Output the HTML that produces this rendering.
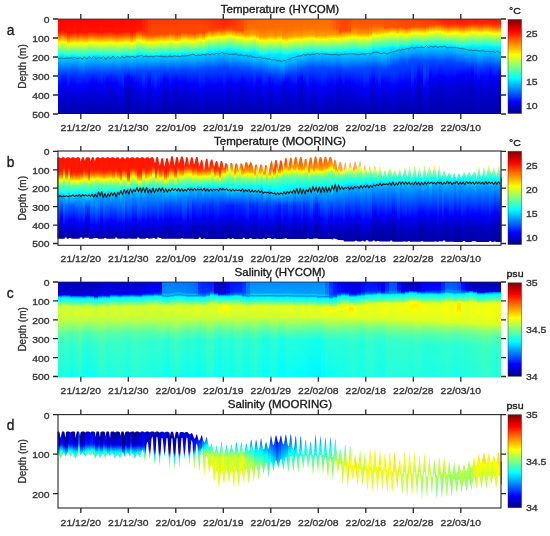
<!DOCTYPE html>
<html><head><meta charset="utf-8"><style>html,body{margin:0;padding:0;background:#fff;overflow:hidden}
#w{position:relative;width:550px;height:536px;overflow:hidden;background:#fff}
svg{position:absolute;left:0;top:0;display:block}
.f{position:absolute;left:0;width:550px}
.f i{position:absolute;top:0;height:100%}
</style></head>
<body><div id="w">
<svg width="550" height="536" viewBox="0 0 550 536"><rect x="58.0" y="151.0" width="443.0" height="94.3" fill="none" stroke="#262626" stroke-width="1.1"/><rect x="58.0" y="414.6" width="443.0" height="93.4" fill="none" stroke="#262626" stroke-width="1.1"/></svg>
<div class="f" style="top:19px;height:95px"><i style="left:58px;width:3px;background:linear-gradient(#ff0600 0.5px,#ff0f00 12.5px,#ff5500 16.5px,#fffd00 23.5px,#60ff9f 31.5px,#34ffcb 34.5px,#00f8ff 36.5px,#00c6ff 39.5px,#00a6ff 43.5px,#004bff 52.5px,#0000fe 67.5px,#0000ae 94.5px)"></i><i style="left:61px;width:3px;background:linear-gradient(#ff0600 0.5px,#ff0f00 11.5px,#ff5100 15.5px,#fffa00 22.5px,#56ffa9 31.5px,#3bffc4 33.5px,#04fffb 35.5px,#00e1ff 37.5px,#00bfff 41.5px,#0017ff 58.5px,#0000f8 64.5px,#0000d8 72.5px,#0000ad 94.5px)"></i><i style="left:64px;width:3px;background:linear-gradient(#ff0600 0.5px,#ff1000 12.5px,#ff5200 16.5px,#fffa00 23.5px,#55ffaa 32.5px,#39ffc6 34.5px,#00ffff 36.5px,#00c7ff 39.5px,#00a8ff 43.5px,#0034ff 55.5px,#0004ff 63.5px,#0000d5 75.5px,#0000ad 94.5px)"></i><i style="left:67px;width:3px;background:linear-gradient(#ff0600 0.5px,#ff1500 14.5px,#ff5d00 18.5px,#fcff03 25.5px,#60ff9f 32.5px,#2cffd3 35.5px,#0cfff3 36.5px,#00edff 37.5px,#00c8ff 39.5px,#00a9ff 43.5px,#0048ff 53.5px,#0000fb 68.5px,#0000ae 94.5px)"></i><i style="left:70px;width:3px;background:linear-gradient(#ff0600 0.5px,#ff1300 13.5px,#ff5b00 17.5px,#fcff03 24.5px,#55ffaa 32.5px,#36ffc9 34.5px,#00f6ff 36.5px,#00d0ff 38.5px,#0042ff 53.5px,#0002ff 64.5px,#0000d8 75.5px,#0000ad 94.5px)"></i><i style="left:73px;width:3px;background:linear-gradient(#ff0700 0.5px,#ff1600 13.5px,#ff5f00 17.5px,#ffee00 23.5px,#f9ff06 24.5px,#62ff9d 31.5px,#33ffcc 34.5px,#14ffeb 35.5px,#00f4ff 36.5px,#00ceff 38.5px,#006fff 48.5px,#003bff 54.5px,#0000fd 65.5px,#0000d9 75.5px,#0000ae 94.5px)"></i><i style="left:76px;width:3px;background:linear-gradient(#ff0700 0.5px,#ff1200 13.5px,#ff5900 17.5px,#ffff00 24.5px,#58ffa7 32.5px,#3affc5 34.5px,#00feff 36.5px,#00d4ff 38.5px,#00c1ff 40.5px,#0046ff 53.5px,#0000fc 67.5px,#0000b1 93.5px,#0000ae 94.5px)"></i><i style="left:79px;width:3px;background:linear-gradient(#ff0700 0.5px,#ff1000 12.5px,#ff4f00 16.5px,#fff600 23.5px,#e0ff1f 25.5px,#58ffa7 32.5px,#3dffc2 34.5px,#0afff5 36.5px,#00e1ff 38.5px,#00c7ff 40.5px,#00a8ff 44.5px,#0045ff 54.5px,#0000ff 66.5px,#0000cd 81.5px,#0000ae 94.5px)"></i><i style="left:82px;width:3px;background:linear-gradient(#ff0700 0.5px,#ff1600 13.5px,#ff5f00 17.5px,#ffee00 23.5px,#f9ff06 24.5px,#5dffa2 32.5px,#2fffd0 35.5px,#00f5ff 37.5px,#00caff 40.5px,#0096ff 46.5px,#003fff 55.5px,#0002ff 65.5px,#0000d3 78.5px,#0000ae 94.5px)"></i><i style="left:85px;width:3px;background:linear-gradient(#ff0700 0.5px,#ff1500 13.5px,#ff5d00 17.5px,#fbff04 24.5px,#58ffa7 32.5px,#3bffc4 34.5px,#02fffd 36.5px,#00c7ff 39.5px,#00a8ff 43.5px,#0046ff 53.5px,#0000fd 66.5px,#0000c5 84.5px,#0000ae 94.5px)"></i><i style="left:88px;width:3px;background:linear-gradient(#ff0700 0.5px,#ff1100 12.5px,#ff5200 16.5px,#fffa00 23.5px,#60ff9f 31.5px,#34ffcb 34.5px,#00f8ff 36.5px,#00c5ff 39.5px,#00a5ff 43.5px,#003cff 54.5px,#0001ff 64.5px,#0000dc 73.5px,#0000ad 94.5px)"></i><i style="left:91px;width:3px;background:linear-gradient(#ff0800 0.5px,#ff1100 12.5px,#ff5700 16.5px,#ffff00 23.5px,#5effa1 31.5px,#2fffd0 34.5px,#11ffee 35.5px,#00f3ff 36.5px,#00c5ff 39.5px,#0099ff 44.5px,#0027ff 56.5px,#0000fe 63.5px,#0000d9 72.5px,#0000ad 94.5px)"></i><i style="left:94px;width:3px;background:linear-gradient(#ff0800 0.5px,#ff1100 12.5px,#ff4f00 16.5px,#fff700 23.5px,#ddff22 25.5px,#5effa1 31.5px,#2bffd4 34.5px,#0cfff3 35.5px,#00eeff 36.5px,#00cbff 38.5px,#008cff 45.5px,#0038ff 54.5px,#0001ff 63.5px,#0000db 72.5px,#0000ad 94.5px)"></i><i style="left:97px;width:3px;background:linear-gradient(#ff0800 0.5px,#ff1100 12.5px,#ff1800 13.5px,#ff6000 17.5px,#ffef00 23.5px,#f8ff07 24.5px,#60ff9f 31.5px,#2fffd0 34.5px,#10ffef 35.5px,#00efff 36.5px,#00ccff 38.5px,#008cff 45.5px,#0041ff 53.5px,#0000fe 65.5px,#0000d9 75.5px,#0000ae 94.5px)"></i><i style="left:100px;width:3px;background:linear-gradient(#ff0800 0.5px,#ff1700 13.5px,#ff5f00 17.5px,#ffee00 23.5px,#f9ff06 24.5px,#56ffa9 32.5px,#39ffc6 34.5px,#00fcff 36.5px,#00c6ff 39.5px,#00a6ff 43.5px,#0045ff 53.5px,#0000fe 66.5px,#0000c6 84.5px,#0000ae 94.5px)"></i><i style="left:103px;width:3px;background:linear-gradient(#ff0800 0.5px,#ff1200 12.5px,#ff3c00 15.5px,#ff9200 19.5px,#fff300 23.5px,#f4ff0b 24.5px,#63ff9c 31.5px,#37ffc8 34.5px,#00faff 36.5px,#00c6ff 39.5px,#00a6ff 43.5px,#003bff 54.5px,#0005ff 63.5px,#0000ce 78.5px,#0000ad 94.5px)"></i><i style="left:106px;width:3px;background:linear-gradient(#ff0900 0.5px,#ff1200 12.5px,#ff5100 16.5px,#fff800 23.5px,#caff35 26.5px,#62ff9d 31.5px,#38ffc7 34.5px,#00fcff 36.5px,#00c6ff 39.5px,#00a7ff 43.5px,#0016ff 58.5px,#0000fc 63.5px,#0000da 71.5px,#0000ad 94.5px)"></i><i style="left:109px;width:3px;background:linear-gradient(#ff0900 0.5px,#ff1200 12.5px,#ff5400 16.5px,#fffb00 23.5px,#61ff9e 31.5px,#36ffc9 34.5px,#00faff 36.5px,#00c6ff 39.5px,#00a6ff 43.5px,#001eff 57.5px,#0000fc 63.5px,#0000da 71.5px,#0000ad 94.5px)"></i><i style="left:112px;width:3px;background:linear-gradient(#ff0900 0.5px,#ff1200 12.5px,#ff3c00 15.5px,#ff7b00 18.5px,#fff400 23.5px,#f4ff0b 24.5px,#60ff9f 31.5px,#30ffcf 34.5px,#12ffed 35.5px,#00f2ff 36.5px,#00ceff 38.5px,#006fff 48.5px,#0033ff 55.5px,#0000ff 64.5px,#0000dc 73.5px,#0000ad 94.5px)"></i><i style="left:115px;width:3px;background:linear-gradient(#ff0900 0.5px,#ff1600 13.5px,#ff5c00 17.5px,#fcff03 24.5px,#58ffa7 32.5px,#3bffc4 34.5px,#02fffd 36.5px,#00c6ff 39.5px,#00a7ff 43.5px,#003cff 54.5px,#000aff 62.5px,#0000fa 65.5px,#0000d9 74.5px,#0000ad 94.5px)"></i><i style="left:118px;width:3px;background:linear-gradient(#ff0900 0.5px,#ff1300 12.5px,#ff2c00 14.5px,#ff6300 17.5px,#fff300 23.5px,#f5ff0a 24.5px,#56ffa9 32.5px,#3affc5 34.5px,#01fffe 36.5px,#00c7ff 39.5px,#00b2ff 42.5px,#0047ff 53.5px,#0000fd 67.5px,#0000ae 94.5px)"></i><i style="left:121px;width:3px;background:linear-gradient(#ff0900 0.5px,#ff1300 12.5px,#ff2c00 14.5px,#ff6300 17.5px,#fff300 23.5px,#f4ff0b 24.5px,#5effa1 31.5px,#2bffd4 34.5px,#0cfff3 35.5px,#00edff 36.5px,#00caff 38.5px,#00a0ff 43.5px,#004eff 51.5px,#0029ff 61.5px,#0000fd 70.5px,#0000af 94.5px)"></i><i style="left:124px;width:3px;background:linear-gradient(#ff0a00 0.5px,#ff1600 12.5px,#ff5c00 16.5px,#faff05 23.5px,#57ffa8 31.5px,#3affc5 33.5px,#00feff 35.5px,#00c6ff 38.5px,#00a6ff 42.5px,#001fff 56.5px,#0001ff 61.5px,#0000d4 71.5px,#0000ac 94.5px)"></i><i style="left:127px;width:3px;background:linear-gradient(#ff0a00 0.5px,#ff1500 12.5px,#ff5b00 16.5px,#fcff03 23.5px,#59ffa6 31.5px,#3cffc3 33.5px,#05fffa 35.5px,#00c8ff 38.5px,#00a9ff 42.5px,#0040ff 52.5px,#0000fb 57.5px,#0000bb 69.5px,#0000ab 85.5px,#0000aa 94.5px)"></i><i style="left:130px;width:3px;background:linear-gradient(#ff0a00 0.5px,#ff1400 13.5px,#ff5600 17.5px,#fffc00 24.5px,#58ffa7 32.5px,#3affc5 34.5px,#00fcff 36.5px,#00c5ff 39.5px,#00a5ff 43.5px,#000cff 58.5px,#0000f7 62.5px,#0000d0 71.5px,#0000af 92.5px,#0000ac 94.5px)"></i><i style="left:133px;width:3px;background:linear-gradient(#ff0a00 0.5px,#ff1500 12.5px,#ff5900 16.5px,#fdff02 23.5px,#5bffa4 31.5px,#3fffc0 33.5px,#0bfff4 35.5px,#00eeff 36.5px,#00ccff 38.5px,#008dff 45.5px,#0038ff 54.5px,#0002ff 63.5px,#0000d9 73.5px,#0000ad 94.5px)"></i><i style="left:136px;width:3px;background:linear-gradient(#ff0b00 0.5px,#ff1400 10.5px,#ff5300 14.5px,#fffe00 21.5px,#62ff9d 29.5px,#39ffc6 32.5px,#00ffff 34.5px,#00cdff 37.5px,#008eff 44.5px,#0043ff 52.5px,#0000ff 64.5px,#0000dc 73.5px,#0000ad 94.5px)"></i><i style="left:139px;width:3px;background:linear-gradient(#ff0c00 0.5px,#ff1600 10.5px,#ff5400 14.5px,#ffff00 21.5px,#61ff9e 29.5px,#38ffc7 32.5px,#00feff 34.5px,#00ddff 36.5px,#00c1ff 39.5px,#0046ff 52.5px,#0000fc 66.5px,#0000c7 83.5px,#0000ae 94.5px)"></i><i style="left:142px;width:3px;background:linear-gradient(#ff1a00 0.5px,#ff2300 11.5px,#ff5200 15.5px,#fffc00 22.5px,#5fffa0 30.5px,#30ffcf 33.5px,#12ffed 34.5px,#00f4ff 35.5px,#00c5ff 38.5px,#0099ff 43.5px,#004bff 51.5px,#002fff 60.5px,#0000fd 70.5px,#0000af 94.5px)"></i><i style="left:145px;width:3px;background:linear-gradient(#ff2800 0.5px,#ff3200 12.5px,#ff4900 15.5px,#ffa000 19.5px,#fcff03 23.5px,#60ff9f 30.5px,#2dffd2 33.5px,#0dfff2 34.5px,#00edff 35.5px,#00c9ff 37.5px,#00a9ff 41.5px,#0049ff 51.5px,#0000fc 67.5px,#0000ae 94.5px)"></i><i style="left:148px;width:3px;background:linear-gradient(#ff3500 0.5px,#ff4300 13.5px,#ff4b00 15.5px,#ff7000 17.5px,#fdff02 23.5px,#57ffa8 31.5px,#39ffc6 33.5px,#00fcff 35.5px,#00c5ff 38.5px,#00a5ff 42.5px,#0031ff 54.5px,#0003ff 61.5px,#0000d6 71.5px,#0000ad 94.5px)"></i><i style="left:151px;width:3px;background:linear-gradient(#ff3900 0.5px,#ff4b00 15.5px,#ff5400 16.5px,#fffc00 23.5px,#5bffa4 31.5px,#3dffc2 33.5px,#05fffa 35.5px,#00c7ff 38.5px,#00b3ff 41.5px,#004dff 51.5px,#0009ff 66.5px,#0000f7 70.5px,#0000af 94.5px)"></i><i style="left:154px;width:3px;background:linear-gradient(#ff3900 0.5px,#ff4c00 15.5px,#ffd600 21.5px,#f8ff07 23.5px,#55ffaa 31.5px,#38ffc7 33.5px,#00fbff 35.5px,#00c6ff 38.5px,#00a6ff 42.5px,#004cff 51.5px,#0037ff 59.5px,#0000fd 71.5px,#0000af 94.5px)"></i><i style="left:157px;width:3px;background:linear-gradient(#ff3900 0.5px,#ff4c00 15.5px,#fff500 22.5px,#f3ff0c 23.5px,#63ff9c 30.5px,#37ffc8 33.5px,#00fbff 35.5px,#00c6ff 38.5px,#00a6ff 42.5px,#004cff 51.5px,#0000fa 68.5px,#0000ae 94.5px)"></i><i style="left:160px;width:3px;background:linear-gradient(#ff3a00 0.5px,#ff4a00 14.5px,#ff5100 15.5px,#fffa00 22.5px,#59ffa6 30.5px,#3bffc4 32.5px,#00ffff 34.5px,#00d5ff 36.5px,#00c1ff 38.5px,#0046ff 51.5px,#0000fe 65.5px,#0000da 75.5px,#0000ae 94.5px)"></i><i style="left:163px;width:3px;background:linear-gradient(#ff3a00 0.5px,#ff4c00 15.5px,#fff500 22.5px,#f3ff0c 23.5px,#5cffa3 30.5px,#3effc1 32.5px,#04fffb 34.5px,#00c6ff 37.5px,#00a7ff 41.5px,#0033ff 53.5px,#0001ff 60.5px,#0000d1 70.5px,#0000b1 90.5px,#0000ac 94.5px)"></i><i style="left:166px;width:3px;background:linear-gradient(#ff3a00 0.5px,#ff4b00 14.5px,#ff5700 15.5px,#feff01 22.5px,#5dffa2 30.5px,#2effd1 33.5px,#10ffef 34.5px,#00f2ff 35.5px,#00c4ff 38.5px,#0099ff 43.5px,#0031ff 54.5px,#0003ff 61.5px,#0000d6 71.5px,#0000ad 94.5px)"></i><i style="left:169px;width:3px;background:linear-gradient(#ff3b00 0.5px,#ff4e00 14.5px,#fff800 21.5px,#c9ff36 24.5px,#60ff9f 29.5px,#32ffcd 32.5px,#00f5ff 34.5px,#00c5ff 37.5px,#009aff 42.5px,#004bff 50.5px,#0000fa 66.5px,#0000c8 82.5px,#0000ae 94.5px)"></i><i style="left:172px;width:3px;background:linear-gradient(#ff3b00 0.5px,#ff4c00 14.5px,#ff7100 16.5px,#fbff04 22.5px,#57ffa8 30.5px,#3affc5 32.5px,#00ffff 34.5px,#00c6ff 37.5px,#00a7ff 41.5px,#0045ff 51.5px,#0001ff 62.5px,#0000d7 72.5px,#0000ad 94.5px)"></i><i style="left:175px;width:3px;background:linear-gradient(#ff3b00 0.5px,#ff4c00 15.5px,#ffa300 19.5px,#ffed00 22.5px,#f9ff06 23.5px,#64ff9b 30.5px,#35ffca 33.5px,#00f6ff 35.5px,#00c4ff 38.5px,#0099ff 43.5px,#001dff 56.5px,#0000fe 61.5px,#0000d2 71.5px,#0000af 92.5px,#0000ac 94.5px)"></i><i style="left:178px;width:3px;background:linear-gradient(#ff3c00 0.5px,#ff4b00 14.5px,#ff5200 15.5px,#fffb00 22.5px,#5cffa3 30.5px,#3fffc0 32.5px,#09fff6 34.5px,#00dbff 36.5px,#00c9ff 37.5px,#009fff 42.5px,#0047ff 51.5px,#0000ff 63.5px,#0000da 72.5px,#0000ad 94.5px)"></i><i style="left:181px;width:3px;background:linear-gradient(#ff3c00 0.5px,#ff4c00 13.5px,#ff7200 15.5px,#ffed00 20.5px,#f9ff06 21.5px,#5bffa4 29.5px,#3fffc0 31.5px,#0cfff3 33.5px,#00eeff 34.5px,#00c4ff 37.5px,#0083ff 44.5px,#0042ff 51.5px,#0000fc 63.5px,#0000da 71.5px,#0000ad 94.5px)"></i><i style="left:184px;width:3px;background:linear-gradient(#ff3c00 0.5px,#ff4c00 13.5px,#ff7200 15.5px,#ffed00 20.5px,#f9ff06 21.5px,#5bffa4 29.5px,#3fffc0 31.5px,#0cfff3 33.5px,#00efff 34.5px,#00c4ff 37.5px,#008eff 43.5px,#0042ff 51.5px,#0002ff 62.5px,#0000d7 72.5px,#0000ad 94.5px)"></i><i style="left:187px;width:3px;background:linear-gradient(#ff3c00 0.5px,#ff4c00 14.5px,#fff200 21.5px,#f6ff09 22.5px,#62ff9d 29.5px,#34ffcb 32.5px,#00f7ff 34.5px,#00c5ff 37.5px,#009aff 42.5px,#004aff 50.5px,#0000fc 65.5px,#0000d8 75.5px,#0000ad 94.5px)"></i><i style="left:190px;width:3px;background:linear-gradient(#ff3d00 0.5px,#ff4c00 14.5px,#fff100 21.5px,#f7ff08 22.5px,#56ffa9 30.5px,#3affc5 32.5px,#00ffff 34.5px,#00c6ff 37.5px,#00a7ff 41.5px,#0047ff 51.5px,#0000fe 65.5px,#0000da 75.5px,#0000ae 94.5px)"></i><i style="left:193px;width:3px;background:linear-gradient(#ff3d00 0.5px,#ff4c00 14.5px,#ffa400 18.5px,#ffef00 21.5px,#f8ff07 22.5px,#57ffa8 30.5px,#3bffc4 32.5px,#03fffc 34.5px,#00c7ff 37.5px,#00a9ff 41.5px,#0047ff 51.5px,#0000fd 64.5px,#0000da 73.5px,#0000ad 94.5px)"></i><i style="left:196px;width:3px;background:linear-gradient(#ff3d00 0.5px,#ff4c00 13.5px,#ff5900 14.5px,#fbff04 21.5px,#5cffa3 29.5px,#2bffd4 32.5px,#0efff1 33.5px,#00f0ff 34.5px,#00c4ff 37.5px,#008eff 43.5px,#004aff 50.5px,#0000fd 65.5px,#0000d9 75.5px,#0000ae 94.5px)"></i><i style="left:199px;width:3px;background:linear-gradient(#ff3d00 0.5px,#ff4e00 13.5px,#fffa00 20.5px,#56ffa9 29.5px,#3bffc4 31.5px,#04fffb 33.5px,#00cdff 36.5px,#008eff 43.5px,#004bff 50.5px,#001cff 62.5px,#0000fc 68.5px,#0000ae 94.5px)"></i><i style="left:202px;width:3px;background:linear-gradient(#ff3a00 0.5px,#ff4b00 13.5px,#ff5600 14.5px,#fdff02 21.5px,#5affa5 29.5px,#3dffc2 31.5px,#06fff9 33.5px,#00c9ff 36.5px,#00a9ff 40.5px,#004dff 49.5px,#0019ff 62.5px,#0000f9 68.5px,#0000ae 94.5px)"></i><i style="left:205px;width:3px;background:linear-gradient(#ff3600 0.5px,#ff4900 11.5px,#ff4f00 12.5px,#fffd00 19.5px,#54ffab 28.5px,#39ffc6 30.5px,#01fffe 32.5px,#00caff 35.5px,#00a0ff 40.5px,#0049ff 49.5px,#0000fd 64.5px,#0000da 73.5px,#0000ad 94.5px)"></i><i style="left:208px;width:3px;background:linear-gradient(#ff3200 0.5px,#ff4300 9.5px,#ff4e00 11.5px,#fffe00 18.5px,#61ff9e 26.5px,#38ffc7 29.5px,#00ffff 31.5px,#00e0ff 33.5px,#00c3ff 36.5px,#006eff 45.5px,#0049ff 49.5px,#0000fc 65.5px,#0000d8 75.5px,#0000ad 94.5px)"></i><i style="left:211px;width:3px;background:linear-gradient(#ff2e00 0.5px,#ff3d00 9.5px,#ff4a00 11.5px,#ff7200 13.5px,#fff000 18.5px,#f7ff08 19.5px,#5bffa4 27.5px,#2dffd2 30.5px,#10ffef 31.5px,#00f3ff 32.5px,#00c5ff 36.5px,#009aff 41.5px,#004bff 49.5px,#0000fa 66.5px,#0000c8 82.5px,#0000ae 94.5px)"></i><i style="left:214px;width:3px;background:linear-gradient(#ff2b00 0.5px,#ff3800 8.5px,#ff5000 11.5px,#feff01 18.5px,#61ff9e 26.5px,#37ffc8 29.5px,#00fdff 31.5px,#00deff 33.5px,#00c2ff 36.5px,#0049ff 49.5px,#0000fb 66.5px,#0000c7 83.5px,#0000ae 94.5px)"></i><i style="left:217px;width:3px;background:linear-gradient(#ff2700 0.5px,#ff3200 7.5px,#ff4b00 10.5px,#fff800 17.5px,#cbff34 20.5px,#57ffa8 26.5px,#3cffc3 28.5px,#07fff8 30.5px,#00d7ff 33.5px,#0084ff 42.5px,#004aff 48.5px,#0000fb 65.5px,#0000d7 75.5px,#0000ad 94.5px)"></i><i style="left:220px;width:3px;background:linear-gradient(#ff2400 0.5px,#ff3400 8.5px,#ff5500 11.5px,#ffec00 17.5px,#faff05 18.5px,#5dffa2 26.5px,#30ffcf 29.5px,#00f6ff 31.5px,#00c4ff 35.5px,#0083ff 42.5px,#004aff 48.5px,#0000fb 65.5px,#0000d7 75.5px,#0000ad 94.5px)"></i><i style="left:223px;width:3px;background:linear-gradient(#ff2000 0.5px,#ff2a00 7.5px,#ff4800 10.5px,#ffbf00 15.5px,#fff300 17.5px,#f5ff0a 18.5px,#5affa5 26.5px,#3effc1 28.5px,#0cfff3 30.5px,#00efff 31.5px,#00c6ff 34.5px,#00a7ff 38.5px,#004cff 47.5px,#0020ff 60.5px,#0000fb 67.5px,#0000b1 93.5px,#0000ae 94.5px)"></i><i style="left:226px;width:3px;background:linear-gradient(#ff2400 0.5px,#ff3400 7.5px,#ff5700 10.5px,#fff000 16.5px,#f7ff08 17.5px,#5bffa4 25.5px,#2cffd3 28.5px,#10ffef 29.5px,#00f2ff 30.5px,#00c3ff 35.5px,#0083ff 42.5px,#0049ff 48.5px,#0000fa 63.5px,#0000d8 71.5px,#0000ad 94.5px)"></i><i style="left:229px;width:3px;background:linear-gradient(#ff2900 0.5px,#ff3900 7.5px,#ff4900 9.5px,#ff7300 11.5px,#fff300 16.5px,#f5ff0a 17.5px,#59ffa6 25.5px,#3effc1 27.5px,#0cfff3 29.5px,#00efff 30.5px,#00aeff 39.5px,#0043ff 50.5px,#0002ff 61.5px,#0000d5 71.5px,#0000ac 94.5px)"></i><i style="left:232px;width:3px;background:linear-gradient(#ff2f00 0.5px,#ff4000 8.5px,#ff4b00 10.5px,#fff900 17.5px,#7aff85 24.5px,#3bffc4 28.5px,#05fffa 30.5px,#00e4ff 32.5px,#00c2ff 36.5px,#0048ff 49.5px,#0000fa 65.5px,#0000d9 74.5px,#0000ad 94.5px)"></i><i style="left:235px;width:3px;background:linear-gradient(#ff3500 0.5px,#ff4500 9.5px,#ff5200 11.5px,#fdff02 18.5px,#5fffa0 26.5px,#35ffca 29.5px,#00faff 31.5px,#00c8ff 35.5px,#00aaff 39.5px,#0049ff 49.5px,#0000fb 66.5px,#0000c6 83.5px,#0000ae 94.5px)"></i><i style="left:238px;width:3px;background:linear-gradient(#ff3d00 0.5px,#ff5000 11.5px,#feff01 18.5px,#60ff9f 26.5px,#37ffc8 29.5px,#00fdff 31.5px,#00e1ff 33.5px,#0090ff 42.5px,#0045ff 50.5px,#0000fa 64.5px,#0000da 72.5px,#0000ad 94.5px)"></i><i style="left:241px;width:3px;background:linear-gradient(#ff4900 0.5px,#ff4f00 10.5px,#ff4d00 11.5px,#ff7500 13.5px,#fff300 18.5px,#f5ff0a 19.5px,#5affa5 27.5px,#3effc1 29.5px,#0cfff3 31.5px,#00efff 32.5px,#00c3ff 37.5px,#0059ff 48.5px,#0007ff 59.5px,#0000e2 66.5px,#0000c7 75.5px,#0000ac 94.5px)"></i><i style="left:244px;width:3px;background:linear-gradient(#ff5600 0.5px,#ff6200 9.5px,#ff9a00 15.5px,#ffc400 17.5px,#fff700 19.5px,#dfff20 21.5px,#57ffa8 28.5px,#3cffc3 30.5px,#08fff7 32.5px,#00e1ff 34.5px,#00c3ff 37.5px,#0059ff 48.5px,#0004ff 62.5px,#0000d6 73.5px,#0000ad 94.5px)"></i><i style="left:247px;width:3px;background:linear-gradient(#ff6100 0.5px,#ff6d00 9.5px,#ff9a00 15.5px,#ffc400 17.5px,#fff700 19.5px,#dfff20 21.5px,#58ffa7 28.5px,#3cffc3 30.5px,#08fff7 32.5px,#00e1ff 34.5px,#00c7ff 36.5px,#00b2ff 39.5px,#0047ff 50.5px,#0000fa 65.5px,#0000d9 74.5px,#0000ad 94.5px)"></i><i style="left:250px;width:3px;background:linear-gradient(#ff6200 0.5px,#ff6b00 8.5px,#ffa400 15.5px,#fff100 18.5px,#f7ff08 19.5px,#5bffa4 27.5px,#2cffd3 30.5px,#0ffff0 31.5px,#00f1ff 32.5px,#00a1ff 42.5px,#0048ff 51.5px,#0000ff 64.5px,#0000dc 73.5px,#0000ad 94.5px)"></i><i style="left:253px;width:3px;background:linear-gradient(#ff6200 0.5px,#ff6e00 8.5px,#ff9b00 14.5px,#ffc700 16.5px,#fffa00 18.5px,#56ffa9 27.5px,#3bffc4 29.5px,#04fffb 31.5px,#00eeff 32.5px,#00b7ff 41.5px,#0049ff 52.5px,#0000fc 67.5px,#0000b1 93.5px,#0000ae 94.5px)"></i><i style="left:256px;width:3px;background:linear-gradient(#ff6300 0.5px,#ff6c00 9.5px,#ffa200 16.5px,#ffee00 19.5px,#f9ff06 20.5px,#5dffa2 28.5px,#2fffd0 31.5px,#00f5ff 33.5px,#00c1ff 39.5px,#003cff 53.5px,#0004ff 62.5px,#0000d6 73.5px,#0000ad 94.5px)"></i><i style="left:259px;width:3px;background:linear-gradient(#ff6300 0.5px,#ff7100 11.5px,#ff9d00 17.5px,#fffd00 21.5px,#54ffab 30.5px,#39ffc6 32.5px,#01fffe 34.5px,#00cfff 37.5px,#0090ff 44.5px,#0031ff 54.5px,#0004ff 61.5px,#0000d4 72.5px,#0000ad 94.5px)"></i><i style="left:262px;width:3px;background:linear-gradient(#ff6300 0.5px,#ff7000 11.5px,#ff9b00 17.5px,#ffdf00 20.5px,#fff800 21.5px,#cbff34 24.5px,#57ffa8 30.5px,#3cffc3 32.5px,#07fff8 34.5px,#00e4ff 36.5px,#00c2ff 40.5px,#0048ff 53.5px,#0000fc 68.5px,#0000ae 94.5px)"></i><i style="left:265px;width:3px;background:linear-gradient(#ff6400 0.5px,#ff7100 11.5px,#ff9b00 17.5px,#ffc500 19.5px,#fff700 21.5px,#dfff20 23.5px,#58ffa7 30.5px,#3cffc3 32.5px,#08fff7 34.5px,#00e5ff 36.5px,#0099ff 45.5px,#0043ff 54.5px,#0000fc 67.5px,#0000b1 93.5px,#0000ae 94.5px)"></i><i style="left:268px;width:3px;background:linear-gradient(#ff6400 0.5px,#ff7000 10.5px,#ff9b00 16.5px,#ffc400 18.5px,#fff600 20.5px,#dfff20 22.5px,#58ffa7 29.5px,#3dffc2 31.5px,#09fff6 33.5px,#00efff 34.5px,#00b7ff 43.5px,#0015ff 59.5px,#0000f8 64.5px,#0000d9 71.5px,#0000ad 94.5px)"></i><i style="left:271px;width:3px;background:linear-gradient(#ff6400 0.5px,#ff6f00 10.5px,#ffa400 17.5px,#ffef00 20.5px,#f8ff07 21.5px,#5cffa3 29.5px,#2effd1 32.5px,#11ffee 33.5px,#00f4ff 34.5px,#00b0ff 44.5px,#0031ff 57.5px,#0000fe 65.5px,#0000e0 72.5px,#0000ad 94.5px)"></i><i style="left:274px;width:3px;background:linear-gradient(#ff6500 0.5px,#ff7400 11.5px,#ff9d00 17.5px,#ffff00 21.5px,#61ff9e 29.5px,#38ffc7 32.5px,#00feff 34.5px,#00edff 35.5px,#00b1ff 44.5px,#0045ff 55.5px,#0000fd 67.5px,#0000b6 91.5px,#0000ae 94.5px)"></i><i style="left:277px;width:3px;background:linear-gradient(#ff6500 0.5px,#ff7200 10.5px,#ff9b00 16.5px,#ffc600 18.5px,#fff800 20.5px,#cbff34 23.5px,#57ffa8 29.5px,#3cffc3 31.5px,#07fff8 33.5px,#00efff 34.5px,#00b7ff 44.5px,#0049ff 55.5px,#0000ff 67.5px,#0000b6 91.5px,#0000ae 94.5px)"></i><i style="left:280px;width:2px;background:linear-gradient(#ff6600 0.5px,#ff7400 10.5px,#ff9d00 16.5px,#feff01 20.5px,#61ff9e 28.5px,#37ffc8 31.5px,#00fdff 33.5px,#00edff 34.5px,#00b5ff 45.5px,#0040ff 57.5px,#0000fa 67.5px,#0000cf 80.5px,#0000ae 94.5px)"></i><i style="left:282px;width:3px;background:linear-gradient(#ff6600 0.5px,#ff7300 11.5px,#ff9b00 17.5px,#ffc400 19.5px,#fff600 21.5px,#dfff20 23.5px,#58ffa7 30.5px,#3dffc2 32.5px,#09fff6 34.5px,#00efff 35.5px,#00b9ff 45.5px,#0007ff 62.5px,#0000f1 65.5px,#0000d5 70.5px,#0000b0 91.5px,#0000ac 94.5px)"></i><i style="left:285px;width:3px;background:linear-gradient(#ff6600 0.5px,#ff7100 11.5px,#ffa200 18.5px,#faff05 22.5px,#5dffa2 30.5px,#31ffce 33.5px,#00f7ff 35.5px,#00c2ff 42.5px,#001fff 58.5px,#0002ff 62.5px,#0000d7 70.5px,#0000af 92.5px,#0000ac 94.5px)"></i><i style="left:288px;width:3px;background:linear-gradient(#ff6700 0.5px,#ff7600 11.5px,#ff9e00 17.5px,#feff01 21.5px,#60ff9f 29.5px,#37ffc8 32.5px,#00fcff 34.5px,#00e3ff 36.5px,#00a1ff 44.5px,#0023ff 57.5px,#0000fc 64.5px,#0000d9 73.5px,#0000ad 94.5px)"></i><i style="left:291px;width:3px;background:linear-gradient(#ff6700 0.5px,#ff7200 10.5px,#ff9a00 16.5px,#ffa700 17.5px,#fff300 20.5px,#f5ff0a 21.5px,#5affa5 29.5px,#3fffc0 31.5px,#0dfff2 33.5px,#00f0ff 34.5px,#00a8ff 43.5px,#0046ff 53.5px,#0001ff 65.5px,#0000d3 78.5px,#0000ae 94.5px)"></i><i style="left:294px;width:3px;background:linear-gradient(#ff6700 0.5px,#ff7700 10.5px,#ff9f00 16.5px,#fbff04 20.5px,#5effa1 28.5px,#32ffcd 31.5px,#00f8ff 33.5px,#00cdff 38.5px,#00a6ff 43.5px,#0046ff 53.5px,#0000fc 67.5px,#0000b1 93.5px,#0000ae 94.5px)"></i><i style="left:297px;width:3px;background:linear-gradient(#ff6800 0.5px,#ff7500 10.5px,#ff9c00 16.5px,#fffb00 20.5px,#55ffaa 29.5px,#3affc5 31.5px,#03fffc 33.5px,#00e1ff 35.5px,#006fff 47.5px,#0019ff 57.5px,#0000fd 62.5px,#0000d6 71.5px,#0000ad 94.5px)"></i><i style="left:300px;width:3px;background:linear-gradient(#ff6800 0.5px,#ff7400 10.5px,#ff9b00 16.5px,#ffc500 18.5px,#fff800 20.5px,#cbff34 23.5px,#57ffa8 29.5px,#3cffc3 31.5px,#07fff8 33.5px,#00d3ff 36.5px,#0089ff 44.5px,#0005ff 58.5px,#0000c9 71.5px,#0000b0 89.5px,#0000ac 94.5px)"></i><i style="left:303px;width:3px;background:linear-gradient(#ff6900 0.5px,#ff7a00 10.5px,#ff9a00 15.5px,#ffa800 16.5px,#fff400 19.5px,#f4ff0b 20.5px,#59ffa6 28.5px,#3effc1 30.5px,#0bfff4 32.5px,#00efff 33.5px,#00c4ff 37.5px,#0099ff 42.5px,#004aff 50.5px,#0000fe 64.5px,#0000db 73.5px,#0000ad 94.5px)"></i><i style="left:306px;width:3px;background:linear-gradient(#ff6900 0.5px,#ff7400 9.5px,#ff9b00 15.5px,#ffc400 17.5px,#fff700 19.5px,#dfff20 21.5px,#58ffa7 28.5px,#3dffc2 30.5px,#08fff7 32.5px,#00deff 34.5px,#00c5ff 36.5px,#009aff 41.5px,#004bff 49.5px,#0027ff 60.5px,#0000fd 68.5px,#0000af 94.5px)"></i><i style="left:309px;width:3px;background:linear-gradient(#ff6900 0.5px,#ff7600 9.5px,#ff9c00 15.5px,#ffe200 18.5px,#fffb00 19.5px,#54ffab 28.5px,#38ffc7 30.5px,#00fdff 32.5px,#00c6ff 35.5px,#00a7ff 39.5px,#004cff 48.5px,#0000fd 65.5px,#0000d9 75.5px,#0000ae 94.5px)"></i><i style="left:312px;width:3px;background:linear-gradient(#ff6a00 0.5px,#ff7600 9.5px,#ff9c00 15.5px,#ffc700 17.5px,#fffa00 19.5px,#5fffa0 27.5px,#31ffce 30.5px,#13ffec 31.5px,#00f4ff 32.5px,#00c5ff 35.5px,#009aff 40.5px,#004aff 48.5px,#0000fb 64.5px,#0000d8 73.5px,#0000ad 94.5px)"></i><i style="left:315px;width:3px;background:linear-gradient(#ff6a00 0.5px,#ff7700 10.5px,#ff9c00 16.5px,#fffc00 20.5px,#5cffa3 28.5px,#3fffc0 30.5px,#0bfff4 32.5px,#00edff 33.5px,#00cbff 35.5px,#008cff 42.5px,#0049ff 49.5px,#0000fc 66.5px,#0000c7 83.5px,#0000ae 94.5px)"></i><i style="left:318px;width:3px;background:linear-gradient(#ff6a00 0.5px,#ff7a00 10.5px,#ffa300 16.5px,#ffef00 19.5px,#f8ff07 20.5px,#58ffa7 28.5px,#3cffc3 30.5px,#04fffb 32.5px,#00c8ff 35.5px,#00a9ff 39.5px,#004dff 48.5px,#0016ff 62.5px,#0000fc 67.5px,#0000b1 93.5px,#0000ae 94.5px)"></i><i style="left:321px;width:3px;background:linear-gradient(#ff6b00 0.5px,#ff7a00 10.5px,#ff9f00 16.5px,#faff05 20.5px,#63ff9c 27.5px,#34ffcb 30.5px,#15ffea 31.5px,#00f5ff 32.5px,#00cfff 34.5px,#0066ff 45.5px,#004bff 48.5px,#0025ff 60.5px,#0000fb 68.5px,#0000ae 94.5px)"></i><i style="left:324px;width:3px;background:linear-gradient(#ff6b00 0.5px,#ff7a00 10.5px,#ff9e00 16.5px,#fcff03 20.5px,#58ffa7 28.5px,#3bffc4 30.5px,#01fffe 32.5px,#00c6ff 35.5px,#00a7ff 39.5px,#004cff 48.5px,#001dff 61.5px,#0000f9 68.5px,#0000ae 94.5px)"></i><i style="left:327px;width:3px;background:linear-gradient(#ff6c00 0.5px,#ff7700 9.5px,#ff9b00 15.5px,#ffc500 17.5px,#fff800 19.5px,#cbff34 22.5px,#57ffa8 28.5px,#3cffc3 30.5px,#06fff9 32.5px,#00cbff 35.5px,#008cff 42.5px,#0049ff 49.5px,#0000fe 65.5px,#0000da 75.5px,#0000ae 94.5px)"></i><i style="left:330px;width:3px;background:linear-gradient(#ff6400 0.5px,#ff7100 9.5px,#ff9b00 15.5px,#ffe100 18.5px,#fffa00 19.5px,#56ffa9 28.5px,#3bffc4 30.5px,#04fffb 32.5px,#00cfff 35.5px,#0086ff 43.5px,#004bff 49.5px,#0000fe 64.5px,#0000db 73.5px,#0000ad 94.5px)"></i><i style="left:333px;width:3px;background:linear-gradient(#ff5900 0.5px,#ff6700 9.5px,#ff9c00 15.5px,#ffff00 19.5px,#61ff9e 27.5px,#38ffc7 30.5px,#00feff 32.5px,#00c9ff 35.5px,#00a0ff 40.5px,#004aff 49.5px,#0015ff 62.5px,#0000fa 67.5px,#0000b3 92.5px,#0000ae 94.5px)"></i><i style="left:336px;width:3px;background:linear-gradient(#ff4e00 0.5px,#ff5900 9.5px,#ff9800 15.5px,#ffc200 17.5px,#fff400 19.5px,#f3ff0c 20.5px,#60ff9f 27.5px,#30ffcf 30.5px,#12ffed 31.5px,#00f2ff 32.5px,#00ceff 34.5px,#0070ff 44.5px,#0044ff 49.5px,#0000fb 63.5px,#0000d8 71.5px,#0000ad 94.5px)"></i><i style="left:339px;width:3px;background:linear-gradient(#ff4800 0.5px,#ff4e00 11.5px,#ff4d00 12.5px,#fff900 19.5px,#b6ff49 23.5px,#62ff9d 27.5px,#38ffc7 30.5px,#00fdff 32.5px,#00c6ff 35.5px,#00a7ff 39.5px,#0045ff 49.5px,#0000fe 60.5px,#0000cf 70.5px,#0000b1 89.5px,#0000ac 94.5px)"></i><i style="left:342px;width:3px;background:linear-gradient(#ff4200 0.5px,#ff4c00 11.5px,#ff5800 12.5px,#ffee00 18.5px,#f9ff06 19.5px,#5cffa3 27.5px,#2fffd0 30.5px,#12ffed 31.5px,#00f5ff 32.5px,#00c6ff 36.5px,#00a7ff 40.5px,#0047ff 50.5px,#0000fb 65.5px,#0000d8 75.5px,#0000ad 94.5px)"></i><i style="left:345px;width:3px;background:linear-gradient(#ff4100 0.5px,#ff4c00 11.5px,#fff700 18.5px,#dfff20 20.5px,#58ffa7 27.5px,#3cffc3 29.5px,#08fff7 31.5px,#00e4ff 33.5px,#00c2ff 37.5px,#0046ff 50.5px,#0000fe 62.5px,#0000d7 71.5px,#0000ad 94.5px)"></i><i style="left:348px;width:3px;background:linear-gradient(#ff4a00 0.5px,#ff5100 9.5px,#ff4f00 11.5px,#fffe00 18.5px,#61ff9e 26.5px,#38ffc7 29.5px,#00ffff 31.5px,#00e1ff 33.5px,#0090ff 42.5px,#0045ff 50.5px,#0000fc 63.5px,#0000d9 71.5px,#0000ad 94.5px)"></i><i style="left:351px;width:3px;background:linear-gradient(#ff5400 0.5px,#ff5d00 7.5px,#ff9800 13.5px,#ffa800 14.5px,#fff500 17.5px,#e0ff1f 19.5px,#58ffa7 26.5px,#3dffc2 28.5px,#0afff5 30.5px,#00e5ff 32.5px,#0096ff 41.5px,#0049ff 49.5px,#0000fe 64.5px,#0000db 73.5px,#0000ad 94.5px)"></i><i style="left:354px;width:3px;background:linear-gradient(#ff5600 0.5px,#ff6000 7.5px,#ffa700 14.5px,#fff500 17.5px,#f3ff0c 18.5px,#59ffa6 26.5px,#3dffc2 28.5px,#0afff5 30.5px,#00efff 31.5px,#00c3ff 36.5px,#0049ff 49.5px,#0000f9 66.5px,#0000c8 82.5px,#0000ae 94.5px)"></i><i style="left:357px;width:3px;background:linear-gradient(#ff5400 0.5px,#ff6200 8.5px,#ff9b00 14.5px,#fffe00 18.5px,#54ffab 27.5px,#39ffc6 29.5px,#01fffe 31.5px,#00dfff 33.5px,#00c3ff 36.5px,#0049ff 49.5px,#000fff 63.5px,#0000fa 67.5px,#0000b3 92.5px,#0000ae 94.5px)"></i><i style="left:360px;width:3px;background:linear-gradient(#ff5200 0.5px,#ff5d00 8.5px,#ff9800 14.5px,#ffc200 16.5px,#fff600 18.5px,#e0ff1f 20.5px,#58ffa7 27.5px,#3dffc2 29.5px,#09fff6 31.5px,#00e2ff 33.5px,#00c3ff 36.5px,#0078ff 44.5px,#004aff 49.5px,#0000fd 66.5px,#0000c5 84.5px,#0000ae 94.5px)"></i><i style="left:363px;width:3px;background:linear-gradient(#ff5200 0.5px,#ff5e00 8.5px,#ff9a00 14.5px,#ffdf00 17.5px,#fff900 18.5px,#8eff71 24.5px,#56ffa9 27.5px,#3bffc4 29.5px,#06fff9 31.5px,#00c7ff 35.5px,#00b3ff 38.5px,#004dff 48.5px,#002fff 59.5px,#0000fc 69.5px,#0000af 94.5px)"></i><i style="left:366px;width:3px;background:linear-gradient(#ff5100 0.5px,#ff5c00 8.5px,#ff9800 14.5px,#ffc200 16.5px,#fff600 18.5px,#e0ff1f 20.5px,#58ffa7 27.5px,#3dffc2 29.5px,#09fff6 31.5px,#00ddff 33.5px,#00c4ff 35.5px,#0083ff 42.5px,#004bff 48.5px,#002cff 59.5px,#0000fd 68.5px,#0000af 94.5px)"></i><i style="left:369px;width:3px;background:linear-gradient(#ff5000 0.5px,#ff5a00 7.5px,#ffa100 14.5px,#ffef00 17.5px,#f8ff07 18.5px,#5cffa3 26.5px,#2dffd2 29.5px,#11ffee 30.5px,#00f3ff 31.5px,#00c9ff 34.5px,#00aaff 38.5px,#0049ff 48.5px,#0000fd 64.5px,#0000da 73.5px,#0000ad 94.5px)"></i><i style="left:372px;width:3px;background:linear-gradient(#ff5000 0.5px,#ff5f00 6.5px,#ff9e00 12.5px,#ffed00 15.5px,#f9ff06 16.5px,#5dffa2 24.5px,#2fffd0 27.5px,#12ffed 28.5px,#00f5ff 29.5px,#00c1ff 35.5px,#0045ff 48.5px,#0000fe 60.5px,#0000cf 70.5px,#0000b1 89.5px,#0000ac 94.5px)"></i><i style="left:375px;width:3px;background:linear-gradient(#ff4f00 0.5px,#ff5a00 6.5px,#ff9a00 12.5px,#fffd00 16.5px,#54ffab 25.5px,#39ffc6 27.5px,#01fffe 29.5px,#00e2ff 31.5px,#009dff 39.5px,#004cff 47.5px,#000fff 62.5px,#0000fa 66.5px,#0000c8 82.5px,#0000ae 94.5px)"></i><i style="left:378px;width:3px;background:linear-gradient(#ff4f00 0.5px,#ff5d00 6.5px,#ff9e00 12.5px,#ffed00 15.5px,#f9ff06 16.5px,#5dffa2 24.5px,#2fffd0 27.5px,#00f5ff 29.5px,#00a6ff 39.5px,#004cff 48.5px,#0028ff 60.5px,#0000fa 69.5px,#0000af 94.5px)"></i><i style="left:381px;width:3px;background:linear-gradient(#ff4e00 0.5px,#ff5700 5.5px,#ff9900 11.5px,#ffc600 13.5px,#fffb00 15.5px,#56ffa9 24.5px,#3affc5 26.5px,#04fffb 28.5px,#00eeff 29.5px,#00b7ff 38.5px,#004aff 49.5px,#0000ff 63.5px,#0000da 72.5px,#0000ad 94.5px)"></i><i style="left:384px;width:3px;background:linear-gradient(#ff4d00 0.5px,#ff5300 6.5px,#ff4d00 8.5px,#ffe200 14.5px,#fffd00 15.5px,#55ffaa 24.5px,#39ffc6 26.5px,#02fffd 28.5px,#00edff 29.5px,#00b6ff 38.5px,#0049ff 49.5px,#0000fc 64.5px,#0000d9 73.5px,#0000ad 94.5px)"></i><i style="left:387px;width:3px;background:linear-gradient(#ff4c00 0.5px,#ff5100 6.5px,#ff5100 8.5px,#ffed00 14.5px,#f9ff06 15.5px,#5dffa2 23.5px,#2fffd0 26.5px,#00f5ff 28.5px,#00a9ff 38.5px,#004dff 47.5px,#0000fc 65.5px,#0000d8 75.5px,#0000ad 94.5px)"></i><i style="left:390px;width:3px;background:linear-gradient(#ff4b00 0.5px,#ff5200 5.5px,#ff4d00 7.5px,#ff9200 10.5px,#fffc00 14.5px,#55ffaa 23.5px,#39ffc6 25.5px,#02fffd 27.5px,#00ecff 28.5px,#00a3ff 37.5px,#004bff 46.5px,#001eff 60.5px,#0000f9 67.5px,#0000b5 91.5px,#0000ae 94.5px)"></i><i style="left:393px;width:3px;background:linear-gradient(#ff4a00 0.5px,#ff5200 5.5px,#ff4d00 7.5px,#ff5c00 8.5px,#fff900 14.5px,#a3ff5c 19.5px,#56ffa9 23.5px,#3bffc4 25.5px,#05fffa 27.5px,#00e3ff 29.5px,#00c1ff 33.5px,#004cff 45.5px,#0025ff 59.5px,#0000fb 67.5px,#0000b1 93.5px,#0000ae 94.5px)"></i><i style="left:396px;width:3px;background:linear-gradient(#ff4900 0.5px,#ff5000 6.5px,#ff4d00 8.5px,#feff01 15.5px,#60ff9f 23.5px,#36ffc9 26.5px,#00fcff 28.5px,#00caff 31.5px,#0096ff 37.5px,#004aff 45.5px,#0017ff 60.5px,#0000f8 66.5px,#0000c7 82.5px,#0000ae 94.5px)"></i><i style="left:399px;width:3px;background:linear-gradient(#ff4800 0.5px,#ff4e00 6.5px,#ff4d00 7.5px,#feff01 14.5px,#5fffa0 22.5px,#34ffcb 25.5px,#00f9ff 27.5px,#00c6ff 30.5px,#00a6ff 34.5px,#004cff 43.5px,#000fff 60.5px,#0000fa 64.5px,#0000da 72.5px,#0000ad 94.5px)"></i><i style="left:402px;width:3px;background:linear-gradient(#ff4600 0.5px,#ff5100 8.5px,#ffec00 14.5px,#f9ff06 15.5px,#55ffaa 23.5px,#37ffc8 25.5px,#00f9ff 27.5px,#00c5ff 30.5px,#009aff 35.5px,#004bff 43.5px,#0017ff 59.5px,#0000fc 64.5px,#0000dd 72.5px,#0000ad 94.5px)"></i><i style="left:405px;width:3px;background:linear-gradient(#ff4400 0.5px,#ff4d00 8.5px,#ff5a00 9.5px,#fff400 15.5px,#f3ff0c 16.5px,#5fffa0 23.5px,#2fffd0 26.5px,#10ffef 27.5px,#00f1ff 28.5px,#00cdff 30.5px,#0079ff 39.5px,#004aff 44.5px,#0007ff 61.5px,#0000e7 67.5px,#0000b7 88.5px,#0000ad 94.5px)"></i><i style="left:408px;width:3px;background:linear-gradient(#ff4200 0.5px,#ff4c00 7.5px,#ff5500 8.5px,#fff000 14.5px,#f6ff09 15.5px,#5effa1 22.5px,#2bffd4 25.5px,#0bfff4 26.5px,#00edff 27.5px,#00c9ff 29.5px,#009fff 34.5px,#004eff 42.5px,#0011ff 59.5px,#0000fc 63.5px,#0000dc 71.5px,#0000ad 94.5px)"></i><i style="left:411px;width:3px;background:linear-gradient(#ff4000 0.5px,#ff4e00 7.5px,#ffeb00 13.5px,#faff05 14.5px,#5fffa0 21.5px,#2affd5 24.5px,#0afff5 25.5px,#00ecff 26.5px,#00c7ff 28.5px,#00a9ff 32.5px,#004dff 41.5px,#0033ff 57.5px,#0000fc 68.5px,#0000ae 94.5px)"></i><i style="left:414px;width:3px;background:linear-gradient(#ff3e00 0.5px,#ff5200 7.5px,#ffef00 13.5px,#f6ff09 14.5px,#5dffa2 21.5px,#3effc1 23.5px,#05fffa 25.5px,#00c6ff 28.5px,#00a7ff 32.5px,#004cff 41.5px,#001aff 57.5px,#0000fb 63.5px,#0000d5 74.5px,#0000ad 94.5px)"></i><i style="left:417px;width:3px;background:linear-gradient(#ff3c00 0.5px,#ff4f00 7.5px,#ffec00 13.5px,#f9ff06 14.5px,#5fffa0 21.5px,#2bffd4 24.5px,#0bfff4 25.5px,#00ecff 26.5px,#00c8ff 28.5px,#00a9ff 32.5px,#0047ff 42.5px,#0000fe 54.5px,#0000c0 67.5px,#0000ae 82.5px,#0000ab 94.5px)"></i><i style="left:420px;width:3px;background:linear-gradient(#ff3a00 0.5px,#ff4c00 7.5px,#fdff02 14.5px,#54ffab 22.5px,#34ffcb 24.5px,#15ffea 25.5px,#00f4ff 26.5px,#00ceff 28.5px,#006fff 38.5px,#004aff 42.5px,#0000fd 58.5px,#0000d4 67.5px,#0000b7 84.5px,#0000ac 94.5px)"></i><i style="left:423px;width:3px;background:linear-gradient(#ff3800 0.5px,#ff4b00 7.5px,#ff7600 9.5px,#fff900 14.5px,#6eff91 21.5px,#3dffc2 24.5px,#05fffa 26.5px,#00c7ff 29.5px,#00a8ff 33.5px,#004cff 42.5px,#003eff 55.5px,#0000ff 68.5px,#0000af 94.5px)"></i><i style="left:426px;width:3px;background:linear-gradient(#ff3600 0.5px,#ff4a00 6.5px,#ff5600 7.5px,#fff400 13.5px,#f3ff0c 14.5px,#60ff9f 21.5px,#32ffcd 24.5px,#13ffec 25.5px,#00f4ff 26.5px,#00c4ff 29.5px,#0099ff 34.5px,#004bff 42.5px,#002bff 55.5px,#0000fc 64.5px,#0000c6 83.5px,#0000ae 94.5px)"></i><i style="left:429px;width:3px;background:linear-gradient(#ff3300 0.5px,#ff5000 6.5px,#ffed00 12.5px,#f8ff07 13.5px,#57ffa8 21.5px,#3affc5 23.5px,#01fffe 25.5px,#00c6ff 28.5px,#00a7ff 32.5px,#0047ff 42.5px,#0000fc 56.5px,#0000cf 66.5px,#0000b7 81.5px,#0000ac 94.5px)"></i><i style="left:432px;width:3px;background:linear-gradient(#ff2e00 0.5px,#ff4700 5.5px,#ff5200 6.5px,#fff000 12.5px,#f6ff09 13.5px,#56ffa9 21.5px,#39ffc6 23.5px,#00feff 25.5px,#00c6ff 28.5px,#00a7ff 32.5px,#004cff 41.5px,#0000fb 59.5px,#0000db 67.5px,#0000ba 84.5px,#0000ac 94.5px)"></i><i style="left:435px;width:3px;background:linear-gradient(#ff2a00 0.5px,#ff4100 4.5px,#ff4900 5.5px,#ffaa00 9.5px,#fffa00 12.5px,#56ffa9 21.5px,#3affc5 23.5px,#04fffb 25.5px,#00cbff 28.5px,#0096ff 34.5px,#0049ff 42.5px,#0000fc 59.5px,#0000dd 67.5px,#0000bd 83.5px,#0000ad 94.5px)"></i><i style="left:438px;width:3px;background:linear-gradient(#ff2400 0.5px,#ff3500 3.5px,#ff4800 5.5px,#ff8e00 8.5px,#fff900 12.5px,#a3ff5c 17.5px,#56ffa9 21.5px,#3bffc4 23.5px,#05fffa 25.5px,#00c5ff 29.5px,#009aff 34.5px,#004aff 42.5px,#0000fe 56.5px,#0000d7 65.5px,#0000ba 81.5px,#0000ac 94.5px)"></i><i style="left:441px;width:3px;background:linear-gradient(#ff1f00 0.5px,#ff2900 3.5px,#ff4c00 6.5px,#fdff02 13.5px,#5dffa2 21.5px,#2fffd0 24.5px,#12ffed 25.5px,#00f4ff 26.5px,#00c5ff 29.5px,#009aff 34.5px,#004bff 42.5px,#0000fe 57.5px,#0000db 65.5px,#0000bc 81.5px,#0000ac 94.5px)"></i><i style="left:444px;width:3px;background:linear-gradient(#ff1b00 0.5px,#ff2a00 4.5px,#ff5300 7.5px,#fff000 13.5px,#f5ff0a 14.5px,#5effa1 21.5px,#2bffd4 24.5px,#0bfff4 25.5px,#00edff 26.5px,#00c9ff 28.5px,#009fff 33.5px,#0049ff 42.5px,#0000fd 59.5px,#0000d7 70.5px,#0000ad 94.5px)"></i><i style="left:447px;width:3px;background:linear-gradient(#ff1a00 0.5px,#ff2300 4.5px,#ff4700 7.5px,#ffdd00 13.5px,#fff800 14.5px,#c1ff3e 17.5px,#61ff9e 21.5px,#41ffbe 23.5px,#06fff9 25.5px,#00c6ff 28.5px,#00a6ff 32.5px,#004cff 41.5px,#0007ff 57.5px,#0000ea 63.5px,#0000c4 79.5px,#0000ad 94.5px)"></i><i style="left:450px;width:3px;background:linear-gradient(#ff1a00 0.5px,#ff2800 4.5px,#ff5100 7.5px,#ffee00 13.5px,#f8ff07 14.5px,#5effa1 21.5px,#40ffbf 23.5px,#08fff7 25.5px,#00d9ff 27.5px,#00c7ff 28.5px,#00b2ff 31.5px,#004cff 41.5px,#0000fe 58.5px,#0000df 66.5px,#0000be 82.5px,#0000ad 94.5px)"></i><i style="left:453px;width:3px;background:linear-gradient(#ff1a00 0.5px,#ff2b00 4.5px,#ff5700 7.5px,#fff500 13.5px,#f2ff0d 14.5px,#62ff9d 21.5px,#36ffc9 24.5px,#00f9ff 26.5px,#00c5ff 29.5px,#00a5ff 33.5px,#004bff 42.5px,#0000fb 59.5px,#0000d5 70.5px,#0000ad 94.5px)"></i><i style="left:456px;width:3px;background:linear-gradient(#ff1a00 0.5px,#ff2900 4.5px,#ff5300 7.5px,#fff000 13.5px,#f6ff09 14.5px,#5bffa4 22.5px,#2bffd4 25.5px,#0ffff0 26.5px,#00f1ff 27.5px,#00c6ff 30.5px,#00a6ff 34.5px,#0045ff 44.5px,#0000fe 56.5px,#0000db 64.5px,#0000be 79.5px,#0000ac 94.5px)"></i><i style="left:459px;width:3px;background:linear-gradient(#ff1900 0.5px,#ff2200 4.5px,#ff4700 7.5px,#fff800 14.5px,#c9ff36 17.5px,#61ff9e 22.5px,#35ffca 25.5px,#00f9ff 27.5px,#00c6ff 30.5px,#00a6ff 34.5px,#0044ff 44.5px,#0003ff 55.5px,#0000d7 65.5px,#0000bc 80.5px,#0000ac 94.5px)"></i><i style="left:462px;width:3px;background:linear-gradient(#ff1900 0.5px,#ff2100 4.5px,#ff5700 8.5px,#fff300 14.5px,#f4ff0b 15.5px,#56ffa9 23.5px,#3affc5 25.5px,#00ffff 27.5px,#00c7ff 30.5px,#00a8ff 34.5px,#0045ff 44.5px,#0001ff 55.5px,#0000d8 64.5px,#0000bc 79.5px,#0000ac 94.5px)"></i><i style="left:465px;width:3px;background:linear-gradient(#ff1900 0.5px,#ff2600 4.5px,#ff4f00 7.5px,#ffec00 13.5px,#f9ff06 14.5px,#5dffa2 22.5px,#30ffcf 25.5px,#00f6ff 27.5px,#00c6ff 31.5px,#00a7ff 35.5px,#003cff 46.5px,#0004ff 55.5px,#0000d6 66.5px,#0000bb 81.5px,#0000ac 94.5px)"></i><i style="left:468px;width:3px;background:linear-gradient(#ff1900 0.5px,#ff2100 3.5px,#ff4600 6.5px,#ffa600 10.5px,#fff700 13.5px,#deff21 15.5px,#57ffa8 22.5px,#3cffc3 24.5px,#08fff7 26.5px,#00e5ff 28.5px,#0097ff 37.5px,#0025ff 49.5px,#0000fb 56.5px,#0000d9 64.5px,#0000bd 79.5px,#0000ac 94.5px)"></i><i style="left:471px;width:3px;background:linear-gradient(#ff1900 0.5px,#ff2500 3.5px,#ff4f00 6.5px,#ffec00 12.5px,#f9ff06 13.5px,#5dffa2 21.5px,#2fffd0 24.5px,#00f5ff 26.5px,#00c2ff 32.5px,#000aff 51.5px,#0000fa 54.5px,#0000d1 63.5px,#0000b8 78.5px,#0000ac 94.5px)"></i><i style="left:474px;width:3px;background:linear-gradient(#ff1800 0.5px,#ff2000 3.5px,#ff4700 6.5px,#fff900 13.5px,#8eff71 19.5px,#56ffa9 22.5px,#3bffc4 24.5px,#05fffa 26.5px,#00e5ff 28.5px,#00a4ff 36.5px,#0043ff 46.5px,#0000ff 58.5px,#0000d2 71.5px,#0000ad 94.5px)"></i><i style="left:477px;width:3px;background:linear-gradient(#ff1800 0.5px,#ff2900 4.5px,#ff5600 7.5px,#fff400 13.5px,#f4ff0b 14.5px,#59ffa6 22.5px,#3effc1 24.5px,#0bfff4 26.5px,#00efff 27.5px,#00b1ff 36.5px,#0047ff 47.5px,#0000fa 61.5px,#0000cd 77.5px,#0000ad 94.5px)"></i><i style="left:480px;width:3px;background:linear-gradient(#ff1700 0.5px,#ff2700 4.5px,#ff5500 7.5px,#fff200 13.5px,#f5ff0a 14.5px,#5affa5 22.5px,#3fffc0 24.5px,#0dfff2 26.5px,#00f0ff 27.5px,#00b0ff 36.5px,#0032ff 49.5px,#0001ff 57.5px,#0000df 65.5px,#0000c0 80.5px,#0000ac 94.5px)"></i><i style="left:483px;width:3px;background:linear-gradient(#ff1700 0.5px,#ff2100 3.5px,#ff4b00 6.5px,#feff01 13.5px,#60ff9f 21.5px,#37ffc8 24.5px,#00fcff 26.5px,#00e4ff 28.5px,#00b1ff 35.5px,#0045ff 46.5px,#0005ff 57.5px,#0000cb 75.5px,#0000ad 94.5px)"></i><i style="left:486px;width:3px;background:linear-gradient(#ff1700 0.5px,#ff2000 3.5px,#ff4900 6.5px,#fffd00 13.5px,#54ffab 22.5px,#39ffc6 24.5px,#01fffe 26.5px,#00ecff 27.5px,#00a5ff 36.5px,#003bff 47.5px,#0006ff 56.5px,#0000cf 71.5px,#0000ad 94.5px)"></i><i style="left:489px;width:3px;background:linear-gradient(#ff1700 0.5px,#ff1f00 3.5px,#ff5700 7.5px,#fff400 13.5px,#f3ff0c 14.5px,#59ffa6 22.5px,#3dffc2 24.5px,#0afff5 26.5px,#00efff 27.5px,#00a4ff 36.5px,#001cff 50.5px,#0000fd 56.5px,#0000dc 64.5px,#0000c0 78.5px,#0000ac 94.5px)"></i><i style="left:492px;width:3px;background:linear-gradient(#ff1600 0.5px,#ff2200 4.5px,#ff4c00 7.5px,#fdff02 14.5px,#5fffa0 22.5px,#35ffca 25.5px,#00fbff 27.5px,#00e2ff 29.5px,#00a1ff 37.5px,#0037ff 48.5px,#0000fb 58.5px,#0000d8 68.5px,#0000ad 94.5px)"></i><i style="left:495px;width:3px;background:linear-gradient(#ff1600 0.5px,#ff1f00 4.5px,#ff4800 7.5px,#fffb00 14.5px,#55ffaa 23.5px,#3affc5 25.5px,#04fffb 27.5px,#00edff 28.5px,#00aaff 37.5px,#0047ff 47.5px,#0000fc 59.5px,#0000cc 75.5px,#0000ad 94.5px)"></i><i style="left:498px;width:3px;background:linear-gradient(#ff1600 0.5px,#ff2100 4.5px,#ff4c00 7.5px,#fdff02 14.5px,#5fffa0 22.5px,#34ffcb 25.5px,#00faff 27.5px,#00e4ff 29.5px,#00b4ff 36.5px,#0016ff 52.5px,#0000f7 57.5px,#0000db 63.5px,#0000be 78.5px,#0000ac 94.5px)"></i></div>
<div class="f" style="top:151px;height:94px"><i style="left:58px;width:2px;background:linear-gradient(#ff1000 0.5px,#ff1d00 20.5px,#ff5300 23.5px,#ffe600 28.5px,#f8ff07 29.5px,#67ff98 34.5px,#17ffe8 40.5px,#00feff 41.5px,#00c1ff 44.5px,#009dff 48.5px,#0060ff 59.5px,#0000fd 73.5px,#0000b7 85.5px,#0000ab 93.5px)"></i><i style="left:60px;width:3px;background:linear-gradient(#ff1000 0.5px,#ff1900 19.5px,#ff4500 22.5px,#ffb000 26.5px,#fff000 28.5px,#efff10 29.5px,#79ff86 33.5px,#4dffb2 36.5px,#16ffe9 40.5px,#00fbff 41.5px,#00bfff 44.5px,#004eff 55.5px,#0000fc 67.5px,#0000c4 76.5px,#00009a 91.5px,#00009a 93.5px)"></i><i style="left:63px;width:2px;background:linear-gradient(#ff1000 0.5px,#ff1c00 16.5px,#ff5100 19.5px,#fcff03 25.5px,#68ff97 32.5px,#17ffe8 40.5px,#03fffc 41.5px,#00bbff 45.5px,#009fff 48.5px,#0062ff 59.5px,#0000f9 74.5px,#0000b8 85.5px,#0000ac 93.5px)"></i><i style="left:65px;width:3px;background:linear-gradient(#ff1000 0.5px,#ff1900 20.5px,#ff4a00 23.5px,#ffb900 27.5px,#fffa00 29.5px,#69ff96 34.5px,#07fff8 42.5px,#00e3ff 45.5px,#00a8ff 49.5px,#0066ff 55.5px,#0000fe 70.5px,#0000b1 84.5px,#0000a3 93.5px)"></i><i style="left:68px;width:2px;background:linear-gradient(#ff1000 0.5px,#ff1900 16.5px,#ff4b00 19.5px,#ffbb00 23.5px,#fffc00 25.5px,#6aff95 32.5px,#26ffd9 39.5px,#0cfff3 40.5px,#00d3ff 42.5px,#0098ff 47.5px,#0000fb 69.5px,#0000c7 78.5px,#0000a2 89.5px,#00009f 93.5px)"></i><i style="left:70px;width:3px;background:linear-gradient(#ff1000 0.5px,#ff1c00 21.5px,#ff5100 24.5px,#f9ff06 30.5px,#73ff8c 34.5px,#01fffe 42.5px,#00d3ff 45.5px,#0062ff 54.5px,#0000fb 69.5px,#0000c7 78.5px,#0000a2 89.5px,#00009f 93.5px)"></i><i style="left:73px;width:2px;background:linear-gradient(#ff1000 0.5px,#ff1900 20.5px,#ff4900 23.5px,#ffb800 27.5px,#fff800 29.5px,#6aff95 34.5px,#02fffd 42.5px,#00d7ff 45.5px,#005eff 54.5px,#0000fe 68.5px,#0000c8 77.5px,#0000a1 89.5px,#00009d 93.5px)"></i><i style="left:75px;width:3px;background:linear-gradient(#ff1000 0.5px,#ff1f00 21.5px,#ff5600 24.5px,#ffea00 29.5px,#f3ff0c 30.5px,#70ff8f 34.5px,#14ffeb 40.5px,#01fffe 41.5px,#00b9ff 45.5px,#0063ff 55.5px,#0000fb 70.5px,#0000b0 84.5px,#0000a2 93.5px)"></i><i style="left:78px;width:2px;background:linear-gradient(#ff1000 0.5px,#ff1900 20.5px,#ff4400 23.5px,#ffae00 27.5px,#ffee00 29.5px,#efff10 30.5px,#6eff91 34.5px,#25ffda 39.5px,#00f7ff 41.5px,#00beff 44.5px,#009aff 48.5px,#0000fb 72.5px,#0000b4 85.5px,#0000a8 93.5px)"></i><i style="left:80px;width:3px;background:linear-gradient(#ff1000 0.5px,#ff1c00 20.5px,#ff5000 23.5px,#fbff04 29.5px,#68ff97 34.5px,#07fff8 41.5px,#00e7ff 43.5px,#00b6ff 46.5px,#006eff 55.5px,#0000ff 71.5px,#0000b2 85.5px,#0000a6 93.5px)"></i><i style="left:83px;width:2px;background:linear-gradient(#ff1000 0.5px,#ff1900 18.5px,#ff4600 21.5px,#ffb200 25.5px,#fff300 27.5px,#eeff11 28.5px,#6cff93 33.5px,#00fdff 42.5px,#00a7ff 48.5px,#003aff 63.5px,#0000f9 72.5px,#0000b3 85.5px,#0000a7 93.5px)"></i><i style="left:85px;width:3px;background:linear-gradient(#ff1000 0.5px,#ff1c00 19.5px,#ff5000 22.5px,#fbff04 28.5px,#73ff8c 33.5px,#05fffa 42.5px,#00e3ff 45.5px,#0056ff 54.5px,#0000fd 67.5px,#0000c5 76.5px,#00009a 91.5px,#00009a 93.5px)"></i><i style="left:88px;width:2px;background:linear-gradient(#ff1000 0.5px,#ff1900 21.5px,#ff4500 24.5px,#ffb000 28.5px,#fff000 30.5px,#ebff14 31.5px,#80ff7f 34.5px,#54ffab 36.5px,#07fff8 41.5px,#00d6ff 44.5px,#0058ff 54.5px,#0000ff 67.5px,#0000c7 76.5px,#00009c 90.5px,#00009b 93.5px)"></i><i style="left:90px;width:3px;background:linear-gradient(#ff1000 0.5px,#ff1900 18.5px,#ff4500 21.5px,#ffb000 25.5px,#fff100 27.5px,#f0ff0f 28.5px,#6eff91 33.5px,#00feff 42.5px,#00d2ff 45.5px,#00a0ff 49.5px,#0000fe 73.5px,#0000b8 85.5px,#0000ac 93.5px)"></i><i style="left:93px;width:2px;background:linear-gradient(#ff1000 0.5px,#ff1e00 19.5px,#ff5300 22.5px,#f8ff07 28.5px,#72ff8d 33.5px,#20ffdf 39.5px,#09fff6 40.5px,#00c6ff 43.5px,#009eff 47.5px,#003eff 63.5px,#0000fd 72.5px,#0000b4 85.5px,#0000a8 93.5px)"></i><i style="left:95px;width:3px;background:linear-gradient(#ff1000 0.5px,#ff1900 18.5px,#ff4a00 21.5px,#ffb900 25.5px,#fffa00 27.5px,#6bff94 33.5px,#21ffde 39.5px,#02fffd 40.5px,#00cfff 42.5px,#00a2ff 46.5px,#0084ff 55.5px,#0000ff 74.5px,#0000bb 85.5px,#0000af 93.5px)"></i><i style="left:98px;width:2px;background:linear-gradient(#ff1000 0.5px,#ff1900 18.5px,#ff4700 21.5px,#ffb500 25.5px,#fff500 27.5px,#d2ff2d 29.5px,#6dff92 33.5px,#2dffd2 38.5px,#16ffe9 39.5px,#00e0ff 40.5px,#00a6ff 44.5px,#0070ff 56.5px,#0000f9 73.5px,#0000b6 85.5px,#0000aa 93.5px)"></i><i style="left:100px;width:3px;background:linear-gradient(#ff1000 0.5px,#ff1e00 19.5px,#ff5400 22.5px,#f8ff07 28.5px,#73ff8c 33.5px,#1cffe3 39.5px,#00f3ff 40.5px,#00c5ff 42.5px,#0093ff 47.5px,#0000ff 68.5px,#0000c9 77.5px,#0000a1 89.5px,#00009e 93.5px)"></i><i style="left:103px;width:2px;background:linear-gradient(#ff1000 0.5px,#ff1900 19.5px,#ff4500 22.5px,#ffb000 26.5px,#fff100 28.5px,#efff10 29.5px,#66ff99 34.5px,#1cffe3 39.5px,#03fffc 40.5px,#00c3ff 43.5px,#009dff 47.5px,#0064ff 58.5px,#0000fa 73.5px,#0000b6 85.5px,#0000aa 93.5px)"></i><i style="left:105px;width:2px;background:linear-gradient(#ff1000 0.5px,#ff1e00 19.5px,#ff5400 22.5px,#ffe800 27.5px,#f7ff08 28.5px,#73ff8c 33.5px,#0afff5 40.5px,#00e0ff 42.5px,#00a6ff 46.5px,#0001ff 71.5px,#0000b3 85.5px,#0000a7 93.5px)"></i><i style="left:107px;width:3px;background:linear-gradient(#ff1000 0.5px,#ff1900 18.5px,#ff4400 21.5px,#ffaf00 25.5px,#fff000 27.5px,#f1ff0e 28.5px,#70ff8f 33.5px,#2cffd3 38.5px,#10ffef 39.5px,#00e2ff 40.5px,#00a7ff 44.5px,#002dff 64.5px,#0000fa 71.5px,#0000b0 85.5px,#0000a4 93.5px)"></i><i style="left:110px;width:2px;background:linear-gradient(#ff1000 0.5px,#ff1900 18.5px,#ff4900 21.5px,#ffb800 25.5px,#fff900 27.5px,#6dff92 33.5px,#00fbff 41.5px,#00b8ff 45.5px,#0055ff 56.5px,#0000fb 69.5px,#0000c7 78.5px,#0000a2 89.5px,#00009f 93.5px)"></i><i style="left:112px;width:3px;background:linear-gradient(#ff1000 0.5px,#ff1900 19.5px,#ff4b00 22.5px,#ffbb00 26.5px,#fffc00 28.5px,#64ff9b 34.5px,#18ffe7 39.5px,#00ffff 40.5px,#00c1ff 43.5px,#0093ff 48.5px,#0000ff 70.5px,#0000b1 84.5px,#0000a3 93.5px)"></i><i style="left:115px;width:2px;background:linear-gradient(#ff1000 0.5px,#ff1900 17.5px,#ff4b00 20.5px,#ffbc00 24.5px,#fffd00 26.5px,#66ff99 33.5px,#2bffd4 38.5px,#15ffea 39.5px,#00f1ff 40.5px,#00c5ff 42.5px,#009cff 46.5px,#0000fd 70.5px,#0000b1 84.5px,#0000a2 93.5px)"></i><i style="left:117px;width:3px;background:linear-gradient(#ff1000 0.5px,#ff1a00 19.5px,#ff4e00 22.5px,#ffc000 26.5px,#feff01 28.5px,#63ff9c 34.5px,#29ffd6 38.5px,#0afff5 39.5px,#00cfff 41.5px,#00a1ff 45.5px,#0065ff 57.5px,#0000fc 72.5px,#0000b4 85.5px,#0000a8 93.5px)"></i><i style="left:120px;width:2px;background:linear-gradient(#ff1000 0.5px,#ff1a00 21.5px,#ff4e00 24.5px,#ffc000 28.5px,#fdff02 30.5px,#78ff87 34.5px,#24ffdb 38.5px,#00fbff 41.5px,#00b1ff 46.5px,#004dff 59.5px,#0000f9 71.5px,#0000b0 85.5px,#0000a4 93.5px)"></i><i style="left:122px;width:3px;background:linear-gradient(#ff1000 0.5px,#ff1900 17.5px,#ff4400 20.5px,#ffae00 24.5px,#ffef00 26.5px,#f3ff0c 27.5px,#66ff99 33.5px,#17ffe8 38.5px,#00fbff 39.5px,#00beff 42.5px,#00a1ff 45.5px,#007cff 55.5px,#0000fe 73.5px,#0000b8 85.5px,#0000ac 93.5px)"></i><i style="left:125px;width:2px;background:linear-gradient(#ff1000 0.5px,#ff1f00 19.5px,#ff5500 22.5px,#ffe900 27.5px,#f6ff09 28.5px,#70ff8f 33.5px,#27ffd8 37.5px,#00e4ff 38.5px,#00b4ff 41.5px,#008fff 46.5px,#0000fb 69.5px,#0000c2 79.5px,#0000a0 90.5px,#00009f 93.5px)"></i><i style="left:127px;width:3px;background:linear-gradient(#ff1000 0.5px,#ff1e00 23.5px,#ff5400 26.5px,#ffe700 31.5px,#f3ff0c 32.5px,#44ffbb 36.5px,#00feff 37.5px,#00d5ff 38.5px,#00a2ff 42.5px,#0066ff 56.5px,#0000fe 71.5px,#0000b2 85.5px,#0000a6 93.5px)"></i><i style="left:130px;width:2px;background:linear-gradient(#ff1000 0.5px,#ff1900 17.5px,#ff4c00 20.5px,#ffbe00 24.5px,#fffe00 26.5px,#5effa1 33.5px,#00f9ff 39.5px,#00b7ff 43.5px,#0097ff 47.5px,#0031ff 64.5px,#0000fe 71.5px,#0000b2 85.5px,#0000a6 93.5px)"></i><i style="left:132px;width:3px;background:linear-gradient(#ff1000 0.5px,#ff1c00 16.5px,#ff5100 19.5px,#fbff04 25.5px,#65ff9a 32.5px,#29ffd6 36.5px,#00f4ff 37.5px,#00d5ff 38.5px,#00a2ff 42.5px,#0016ff 65.5px,#0000f9 69.5px,#0000c5 78.5px,#0000a2 89.5px,#00009f 93.5px)"></i><i style="left:135px;width:2px;background:linear-gradient(#ff1000 0.5px,#ff1f00 18.5px,#ff5500 21.5px,#ffe900 26.5px,#f7ff08 27.5px,#62ff9d 33.5px,#01fffe 38.5px,#00b8ff 42.5px,#007dff 49.5px,#0000fb 68.5px,#0000c6 77.5px,#00009e 90.5px,#00009d 93.5px)"></i><i style="left:137px;width:3px;background:linear-gradient(#ff1000 0.5px,#ff1c00 21.5px,#ff5100 24.5px,#f9ff06 30.5px,#2bffd4 36.5px,#02fffd 38.5px,#00baff 42.5px,#009eff 45.5px,#0055ff 59.5px,#0000fb 72.5px,#0000b4 85.5px,#0000a9 93.5px)"></i><i style="left:140px;width:2px;background:linear-gradient(#ff1000 0.5px,#ff1900 21.5px,#ff4800 24.5px,#ffb700 28.5px,#fff700 30.5px,#71ff8e 34.5px,#2cffd3 36.5px,#00c5ff 37.5px,#00a1ff 40.5px,#0060ff 56.5px,#0000fb 71.5px,#0000b1 85.5px,#0000a6 93.5px)"></i><i style="left:142px;width:3px;background:linear-gradient(#ff1000 0.5px,#ff1900 16.5px,#ff4c00 19.5px,#ffbd00 23.5px,#fffe00 25.5px,#63ff9c 32.5px,#00feff 38.5px,#00b8ff 42.5px,#008eff 47.5px,#0000ff 69.5px,#0000c1 80.5px,#0000a3 90.5px,#0000a2 93.5px)"></i><i style="left:145px;width:2px;background:linear-gradient(#ff1000 0.5px,#ff1c00 19.5px,#ff5100 22.5px,#faff05 28.5px,#68ff97 33.5px,#27ffd8 36.5px,#00f7ff 37.5px,#00c5ff 39.5px,#009eff 43.5px,#0031ff 63.5px,#0000ff 70.5px,#0000b2 84.5px,#0000a5 93.5px)"></i><i style="left:147px;width:3px;background:linear-gradient(#ff1000 0.5px,#ff1f00 18.5px,#ff5500 21.5px,#ffe900 26.5px,#f6ff09 27.5px,#5cffa3 33.5px,#1bffe4 36.5px,#00d5ff 37.5px,#00a2ff 41.5px,#0000fe 68.5px,#0000c8 77.5px,#0000a4 88.5px,#0000a0 93.5px)"></i><i style="left:150px;width:2px;background:linear-gradient(#ff1000 0.5px,#ff1c00 17.5px,#ff5000 20.5px,#fcff03 26.5px,#67ff98 32.5px,#24ffdb 36.5px,#00e2ff 37.5px,#00a7ff 41.5px,#0011ff 67.5px,#0000f4 71.5px,#0000af 85.5px,#0000a4 93.5px)"></i><i style="left:152px;width:3px;background:linear-gradient(#ff1000 0.5px,#ff1900 14.5px,#ff4500 17.5px,#ffb100 21.5px,#fff200 23.5px,#f2ff0d 24.5px,#64ff9b 31.5px,#1dffe2 36.5px,#02fffd 37.5px,#00c1ff 40.5px,#0092ff 45.5px,#0000fd 68.5px,#0000c8 77.5px,#0000a5 88.5px,#0000a0 93.5px)"></i><i style="left:155px;width:2px;background:linear-gradient(#ff1000 0.5px,#ff1900 19.5px,#ff4300 22.5px,#ffad00 26.5px,#ffee00 28.5px,#efff10 29.5px,#6cff93 33.5px,#26ffd9 36.5px,#05fffa 37.5px,#00cfff 39.5px,#00a0ff 43.5px,#0001ff 69.5px,#0000b8 82.5px,#0000a4 93.5px)"></i><i style="left:157px;width:2px;background:linear-gradient(#ff1000 0.5px,#ff1900 15.5px,#ff3200 17.5px,#ff7400 20.5px,#ffed00 24.5px,#f4ff0b 25.5px,#6aff95 31.5px,#15ffea 36.5px,#00f7ff 37.5px,#00c9ff 39.5px,#009fff 43.5px,#0019ff 67.5px,#0000fc 71.5px,#0000b2 85.5px,#0000a9 93.5px)"></i><i style="left:159px;width:3px;background:linear-gradient(#ff1000 0.5px,#ff1a00 18.5px,#ff4800 21.5px,#ffb700 25.5px,#fff700 27.5px,#90ff6f 31.5px,#20ffdf 36.5px,#00dbff 37.5px,#00afff 40.5px,#0000fe 68.5px,#0000c9 77.5px,#0000a7 87.5px,#0000a1 93.5px)"></i><i style="left:162px;width:2px;background:linear-gradient(#ff1000 0.5px,#ff1d00 17.5px,#ff5200 20.5px,#faff05 26.5px,#61ff9e 32.5px,#04fffb 37.5px,#00bbff 41.5px,#0097ff 45.5px,#0000ff 70.5px,#0000b3 84.5px,#0000a8 93.5px)"></i><i style="left:164px;width:3px;background:linear-gradient(#ff1100 0.5px,#ff1b00 20.5px,#ff4600 23.5px,#ffb300 27.5px,#fff300 29.5px,#e6ff19 30.5px,#56ffa9 34.5px,#0dfff2 37.5px,#00f8ff 38.5px,#00c1ff 41.5px,#0046ff 54.5px,#0000fa 67.5px,#0000c4 76.5px,#0000a0 89.5px,#00009e 93.5px)"></i><i style="left:167px;width:2px;background:linear-gradient(#ff1200 0.5px,#ff1b00 18.5px,#ff4700 21.5px,#ffb300 25.5px,#fff400 27.5px,#caff35 29.5px,#57ffa8 33.5px,#18ffe7 36.5px,#00f7ff 38.5px,#00b6ff 42.5px,#0049ff 55.5px,#0000fc 68.5px,#0000c8 77.5px,#0000a7 87.5px,#0000a2 93.5px)"></i><i style="left:169px;width:3px;background:linear-gradient(#ff1200 0.5px,#ff2200 16.5px,#ff5700 19.5px,#ffeb00 24.5px,#f6ff09 25.5px,#68ff97 31.5px,#1cffe3 36.5px,#05fffa 37.5px,#00b9ff 41.5px,#0039ff 55.5px,#0000fb 66.5px,#0000c2 75.5px,#00009d 90.5px,#00009c 93.5px)"></i><i style="left:172px;width:2px;background:linear-gradient(#ff1300 0.5px,#ff1f00 16.5px,#ff4f00 19.5px,#fcff03 25.5px,#68ff97 31.5px,#06fff9 37.5px,#00d3ff 40.5px,#0097ff 45.5px,#0043ff 56.5px,#0000fd 68.5px,#0000c8 77.5px,#0000a8 87.5px,#0000a3 93.5px)"></i><i style="left:174px;width:3px;background:linear-gradient(#ff1400 0.5px,#ff2100 19.5px,#ff5300 22.5px,#ffe700 27.5px,#f6ff09 28.5px,#73ff8c 32.5px,#1cffe3 36.5px,#00fdff 38.5px,#00bcff 42.5px,#004eff 54.5px,#0000ff 68.5px,#0000ca 77.5px,#0000a9 87.5px,#0000a4 93.5px)"></i><i style="left:177px;width:2px;background:linear-gradient(#ff1400 0.5px,#ff1e00 14.5px,#ff4c00 17.5px,#ffbd00 21.5px,#fffe00 23.5px,#68ff97 30.5px,#21ffde 35.5px,#00f3ff 37.5px,#00bcff 40.5px,#007dff 47.5px,#003aff 57.5px,#0000fa 68.5px,#0000c6 77.5px,#0000a7 87.5px,#0000a2 93.5px)"></i><i style="left:179px;width:3px;background:linear-gradient(#ff1500 0.5px,#ff1f00 16.5px,#ff4900 19.5px,#ffb800 23.5px,#fff800 25.5px,#69ff96 31.5px,#00fcff 37.5px,#00c1ff 40.5px,#0076ff 48.5px,#003cff 56.5px,#0000ff 67.5px,#0000c9 76.5px,#0000a7 87.5px,#0000a2 93.5px)"></i><i style="left:182px;width:2px;background:linear-gradient(#ff1500 0.5px,#ff1f00 16.5px,#ff4700 19.5px,#ffb300 23.5px,#fff400 25.5px,#d1ff2e 27.5px,#68ff97 31.5px,#08fff7 36.5px,#00bbff 40.5px,#0097ff 44.5px,#0034ff 62.5px,#0000f8 71.5px,#0000b2 85.5px,#0000aa 93.5px)"></i><i style="left:184px;width:3px;background:linear-gradient(#ff1600 0.5px,#ff2000 14.5px,#ff4700 17.5px,#ffb300 21.5px,#fff400 23.5px,#d8ff27 25.5px,#69ff96 30.5px,#26ffd9 35.5px,#00f6ff 37.5px,#00bdff 40.5px,#0098ff 44.5px,#0042ff 59.5px,#0000f9 71.5px,#0000b2 85.5px,#0000ab 93.5px)"></i><i style="left:187px;width:2px;background:linear-gradient(#ff1700 0.5px,#ff2500 14.5px,#ff5500 17.5px,#ffe900 22.5px,#f8ff07 23.5px,#62ff9d 30.5px,#07fff8 36.5px,#00b1ff 41.5px,#0034ff 54.5px,#0000fe 65.5px,#0000bf 75.5px,#00009d 90.5px,#00009d 93.5px)"></i><i style="left:189px;width:3px;background:linear-gradient(#ff1700 0.5px,#ff2300 14.5px,#ff5000 17.5px,#fcff03 23.5px,#64ff9b 30.5px,#1cffe3 35.5px,#00d1ff 36.5px,#00a0ff 40.5px,#0010ff 67.5px,#0000f4 71.5px,#0000b1 85.5px,#0000aa 93.5px)"></i><i style="left:192px;width:2px;background:linear-gradient(#ff1800 0.5px,#ff2300 16.5px,#ff4f00 19.5px,#fcff03 25.5px,#60ff9f 31.5px,#2affd5 34.5px,#10ffef 35.5px,#00eeff 36.5px,#00c4ff 38.5px,#0031ff 53.5px,#0000fc 64.5px,#0000b7 75.5px,#00009a 92.5px,#00009a 93.5px)"></i><i style="left:194px;width:3px;background:linear-gradient(#ff1900 0.5px,#ff2200 15.5px,#ff4700 18.5px,#ffb100 22.5px,#fff100 24.5px,#f0ff0f 25.5px,#6fff90 30.5px,#08fff7 36.5px,#00c6ff 39.5px,#0046ff 52.5px,#0017ff 61.5px,#0000fb 66.5px,#0000c3 75.5px,#0000a2 88.5px,#00009f 93.5px)"></i><i style="left:197px;width:2px;background:linear-gradient(#ff1900 0.5px,#ff2800 17.5px,#ff5700 20.5px,#ffeb00 25.5px,#f4ff0b 26.5px,#64ff9b 31.5px,#28ffd7 34.5px,#00d8ff 35.5px,#00b6ff 37.5px,#007eff 44.5px,#0033ff 56.5px,#0000fb 67.5px,#0000c5 76.5px,#0000a6 87.5px,#0000a2 93.5px)"></i><i style="left:199px;width:3px;background:linear-gradient(#ff1a00 0.5px,#ff2400 16.5px,#ff4900 19.5px,#ffb600 23.5px,#fff700 25.5px,#aeff51 28.5px,#62ff9d 31.5px,#2fffd0 34.5px,#00f6ff 35.5px,#00d4ff 36.5px,#00a1ff 40.5px,#0039ff 55.5px,#0000fe 67.5px,#0000c8 76.5px,#0000a8 87.5px,#0000a4 93.5px)"></i><i style="left:202px;width:2px;background:linear-gradient(#ff1b00 0.5px,#ff2800 16.5px,#ff5300 19.5px,#f8ff07 25.5px,#6eff91 30.5px,#15ffea 35.5px,#00f9ff 37.5px,#00baff 41.5px,#002cff 54.5px,#0000fb 65.5px,#0000bd 75.5px,#00009e 90.5px,#00009e 93.5px)"></i><i style="left:204px;width:2px;background:linear-gradient(#ff1c00 0.5px,#ff2800 16.5px,#ff5000 19.5px,#fbff04 25.5px,#6fff90 30.5px,#2cffd3 34.5px,#08fff7 35.5px,#00ddff 36.5px,#00b0ff 39.5px,#002fff 54.5px,#0000fe 65.5px,#0000c0 75.5px,#0000a1 89.5px,#00009f 93.5px)"></i><i style="left:206px;width:3px;background:linear-gradient(#ff1d00 0.5px,#ff2a00 16.5px,#ff5300 19.5px,#f8ff07 25.5px,#6bff94 30.5px,#1dffe2 34.5px,#01fffe 35.5px,#00c0ff 38.5px,#0076ff 46.5px,#0034ff 55.5px,#0000fb 67.5px,#0000c6 76.5px,#0000a7 87.5px,#0000a4 93.5px)"></i><i style="left:209px;width:2px;background:linear-gradient(#ff1f00 0.5px,#ff2800 15.5px,#ff4800 18.5px,#ffb200 22.5px,#fff200 24.5px,#eeff11 25.5px,#68ff97 30.5px,#00feff 36.5px,#00b7ff 40.5px,#002cff 54.5px,#0000fd 65.5px,#0000bf 75.5px,#0000a1 89.5px,#00009f 93.5px)"></i><i style="left:211px;width:3px;background:linear-gradient(#ff2000 0.5px,#ff2900 13.5px,#ff4b00 16.5px,#ffba00 20.5px,#fffa00 22.5px,#65ff9a 29.5px,#1cffe3 34.5px,#00ffff 35.5px,#00c0ff 38.5px,#0031ff 53.5px,#0000fd 65.5px,#0000bf 75.5px,#0000a2 88.5px,#0000a0 93.5px)"></i><i style="left:214px;width:2px;background:linear-gradient(#ff2100 0.5px,#ff2b00 17.5px,#ff4b00 20.5px,#ffba00 24.5px,#fffb00 26.5px,#62ff9d 31.5px,#25ffda 34.5px,#00ffff 35.5px,#00caff 37.5px,#0095ff 42.5px,#0037ff 55.5px,#0008ff 66.5px,#0000cf 75.5px,#0000ab 86.5px,#0000a7 93.5px)"></i><i style="left:216px;width:3px;background:linear-gradient(#ff2200 0.5px,#ff2d00 16.5px,#ff4f00 19.5px,#fcff03 25.5px,#68ff97 30.5px,#00fcff 35.5px,#00bfff 38.5px,#007fff 45.5px,#0039ff 55.5px,#000aff 66.5px,#0000ef 70.5px,#0000b9 81.5px,#0000a8 91.5px,#0000a8 93.5px)"></i><i style="left:219px;width:2px;background:linear-gradient(#ff2300 0.5px,#ff3100 19.5px,#ff5600 22.5px,#ffeb00 27.5px,#efff10 28.5px,#73ff8c 31.5px,#06fff9 35.5px,#00c3ff 38.5px,#003dff 52.5px,#0020ff 58.5px,#0000fb 66.5px,#0000c4 75.5px,#0000a6 87.5px,#0000a3 93.5px)"></i><i style="left:221px;width:3px;background:linear-gradient(#ff2600 0.5px,#ff3100 14.5px,#ff4f00 17.5px,#fdff02 23.5px,#67ff98 29.5px,#12ffed 34.5px,#00f8ff 35.5px,#00bdff 38.5px,#0033ff 53.5px,#0000fb 66.5px,#0000c5 75.5px,#0000a6 87.5px,#0000a3 93.5px)"></i><i style="left:224px;width:2px;background:linear-gradient(#ff3100 0.5px,#ff4000 15.5px,#ff4c00 17.5px,#ffbd00 21.5px,#fffe00 23.5px,#68ff97 29.5px,#0bfff4 35.5px,#00e2ff 37.5px,#00a7ff 41.5px,#002aff 54.5px,#0000fa 66.5px,#0000c3 75.5px,#0000a6 87.5px,#0000a3 93.5px)"></i><i style="left:226px;width:3px;background:linear-gradient(#ff3b00 0.5px,#ff4a00 14.5px,#ff4f00 15.5px,#ffe100 20.5px,#fdff02 21.5px,#67ff98 28.5px,#03fffc 36.5px,#00daff 39.5px,#00a2ff 43.5px,#0023ff 54.5px,#0000fa 65.5px,#0000bd 75.5px,#0000a3 88.5px,#0000a1 93.5px)"></i><i style="left:229px;width:2px;background:linear-gradient(#ff4500 0.5px,#ff4d00 12.5px,#ffb700 16.5px,#fff800 18.5px,#95ff6a 24.5px,#65ff9a 27.5px,#21ffde 34.5px,#00fdff 36.5px,#00b9ff 40.5px,#0020ff 54.5px,#0000ff 64.5px,#0000bc 75.5px,#0000a2 88.5px,#0000a0 93.5px)"></i><i style="left:231px;width:3px;background:linear-gradient(#ff4d00 0.5px,#ff5700 12.5px,#ffa000 18.5px,#feff01 21.5px,#67ff98 28.5px,#04fffb 36.5px,#00deff 39.5px,#00b1ff 42.5px,#001aff 54.5px,#0000f8 64.5px,#0000b6 75.5px,#00009e 91.5px,#00009e 93.5px)"></i><i style="left:234px;width:2px;background:linear-gradient(#ff4e00 0.5px,#ff5b00 16.5px,#ffa700 22.5px,#ffe800 24.5px,#f6ff09 25.5px,#65ff9a 30.5px,#03fffc 36.5px,#00a9ff 42.5px,#0032ff 54.5px,#000aff 65.5px,#0000e8 70.5px,#0000bc 79.5px,#0000a9 88.5px,#0000a7 93.5px)"></i><i style="left:236px;width:3px;background:linear-gradient(#ff4f00 0.5px,#ff5c00 13.5px,#ffa800 19.5px,#ffe900 21.5px,#f7ff08 22.5px,#6dff92 28.5px,#00ffff 36.5px,#00a9ff 42.5px,#0029ff 54.5px,#0000f9 66.5px,#0000c2 75.5px,#0000a5 87.5px,#0000a3 93.5px)"></i><i style="left:239px;width:2px;background:linear-gradient(#ff4f00 0.5px,#ff5a00 11.5px,#ffa000 17.5px,#feff01 20.5px,#70ff8f 27.5px,#03fffc 36.5px,#00aaff 42.5px,#0029ff 54.5px,#0000ff 65.5px,#0000c2 75.5px,#0000a5 87.5px,#0000a2 93.5px)"></i><i style="left:241px;width:3px;background:linear-gradient(#ff5000 0.5px,#ff5a00 15.5px,#ff9e00 21.5px,#fffe00 24.5px,#72ff8d 29.5px,#07fff8 35.5px,#00a8ff 41.5px,#002eff 54.5px,#0000fd 66.5px,#0000c3 76.5px,#0000a7 87.5px,#0000a4 93.5px)"></i><i style="left:244px;width:2px;background:linear-gradient(#ff5100 0.5px,#ff5b00 14.5px,#ff9e00 20.5px,#fffd00 23.5px,#68ff97 29.5px,#04fffb 36.5px,#00d3ff 39.5px,#0081ff 46.5px,#0034ff 54.5px,#000aff 65.5px,#0000e8 70.5px,#0000bc 79.5px,#0000a8 88.5px,#0000a6 93.5px)"></i><i style="left:246px;width:3px;background:linear-gradient(#ff5200 0.5px,#ff6100 14.5px,#ff9800 19.5px,#ffce00 21.5px,#ffef00 22.5px,#f2ff0d 23.5px,#63ff9c 29.5px,#00feff 36.5px,#00a7ff 42.5px,#0040ff 54.5px,#0016ff 65.5px,#0000fa 69.5px,#0000bc 81.5px,#0000ab 90.5px,#0000ab 93.5px)"></i><i style="left:249px;width:2px;background:linear-gradient(#ff5200 0.5px,#ff5c00 14.5px,#ff9c00 20.5px,#fff800 23.5px,#81ff7e 28.5px,#5bffa4 30.5px,#08fff7 35.5px,#00bbff 39.5px,#002aff 54.5px,#0000ff 65.5px,#0000c2 75.5px,#0000a5 87.5px,#0000a2 93.5px)"></i><i style="left:251px;width:3px;background:linear-gradient(#ff5300 0.5px,#ff5e00 14.5px,#ffa100 20.5px,#fdff02 23.5px,#66ff99 29.5px,#10ffef 35.5px,#00f8ff 37.5px,#0099ff 44.5px,#002aff 54.5px,#0000fd 65.5px,#0000c0 75.5px,#0000a3 88.5px,#0000a1 93.5px)"></i><i style="left:254px;width:2px;background:linear-gradient(#ff5400 0.5px,#ff6000 16.5px,#ffa600 22.5px,#f7ff08 25.5px,#65ff9a 30.5px,#15ffea 35.5px,#00fcff 37.5px,#00a7ff 43.5px,#0033ff 54.5px,#0000ff 66.5px,#0000c5 76.5px,#0000a7 87.5px,#0000a4 93.5px)"></i><i style="left:256px;width:2px;background:linear-gradient(#ff5500 0.5px,#ff5e00 11.5px,#ff9d00 17.5px,#fffa00 20.5px,#6eff91 27.5px,#04fffb 36.5px,#00ddff 39.5px,#00b0ff 42.5px,#0025ff 54.5px,#0000f8 65.5px,#0000bc 75.5px,#00009f 90.5px,#00009f 93.5px)"></i><i style="left:258px;width:3px;background:linear-gradient(#ff5500 0.5px,#ff5f00 14.5px,#ff9c00 20.5px,#fff900 23.5px,#65ff9a 29.5px,#04fffb 36.5px,#00d2ff 39.5px,#0097ff 44.5px,#0043ff 54.5px,#000fff 66.5px,#0000f4 70.5px,#0000b3 83.5px,#0000aa 93.5px)"></i><i style="left:261px;width:2px;background:linear-gradient(#ff5600 0.5px,#ff6300 13.5px,#ffa900 19.5px,#ffe900 21.5px,#f7ff08 22.5px,#66ff99 28.5px,#27ffd8 33.5px,#00f7ff 35.5px,#00bdff 38.5px,#0087ff 44.5px,#003bff 55.5px,#000bff 66.5px,#0000ef 70.5px,#0000b5 82.5px,#0000a8 93.5px)"></i><i style="left:263px;width:3px;background:linear-gradient(#ff5700 0.5px,#ff6100 16.5px,#ffa000 22.5px,#fdff02 25.5px,#6fff90 29.5px,#22ffdd 34.5px,#01fffe 38.5px,#00e7ff 41.5px,#00b7ff 44.5px,#003dff 54.5px,#0008ff 66.5px,#0000d9 73.5px,#0000ac 85.5px,#0000a7 93.5px)"></i><i style="left:266px;width:2px;background:linear-gradient(#ff5400 0.5px,#ff5e00 11.5px,#ff9b00 17.5px,#fff500 20.5px,#d6ff29 22.5px,#67ff98 27.5px,#00fdff 37.5px,#00d8ff 40.5px,#0096ff 45.5px,#0033ff 54.5px,#0000fd 66.5px,#0000c3 76.5px,#0000a6 87.5px,#0000a3 93.5px)"></i><i style="left:268px;width:3px;background:linear-gradient(#ff5100 0.5px,#ff5b00 16.5px,#ff9c00 22.5px,#fff800 25.5px,#6aff95 29.5px,#00feff 36.5px,#00baff 40.5px,#003fff 54.5px,#000aff 66.5px,#0000e7 71.5px,#0000ae 84.5px,#0000a7 93.5px)"></i><i style="left:271px;width:2px;background:linear-gradient(#ff4d00 0.5px,#ff5700 13.5px,#ff9b00 19.5px,#fff500 22.5px,#cbff34 24.5px,#72ff8d 27.5px,#1dffe2 34.5px,#00fcff 38.5px,#00e2ff 41.5px,#00a7ff 45.5px,#0044ff 54.5px,#000eff 66.5px,#0000f9 69.5px,#0000bf 80.5px,#0000ab 88.5px,#0000a9 93.5px)"></i><i style="left:273px;width:3px;background:linear-gradient(#ff4a00 0.5px,#ff5200 19.5px,#ffe500 24.5px,#f7ff08 25.5px,#7bff84 28.5px,#56ffa9 30.5px,#03fffc 37.5px,#00e3ff 40.5px,#00a8ff 44.5px,#003dff 54.5px,#0007ff 66.5px,#0000c7 77.5px,#0000ab 86.5px,#0000a6 93.5px)"></i><i style="left:276px;width:2px;background:linear-gradient(#ff4700 0.5px,#ff4d00 14.5px,#ffbf00 18.5px,#feff01 20.5px,#69ff96 26.5px,#08fff7 37.5px,#00e9ff 41.5px,#0034ff 54.5px,#0000fc 66.5px,#0000c2 76.5px,#0000a4 88.5px,#0000a2 93.5px)"></i><i style="left:278px;width:3px;background:linear-gradient(#ff4300 0.5px,#ff4d00 17.5px,#ffbc00 21.5px,#fffc00 23.5px,#73ff8c 27.5px,#16ffe9 35.5px,#00f4ff 39.5px,#00e2ff 41.5px,#0022ff 54.5px,#0000fc 63.5px,#0000b5 75.5px,#00009a 92.5px,#00009a 93.5px)"></i><i style="left:281px;width:2px;background:linear-gradient(#ff4700 0.5px,#ff4f00 15.5px,#fcff03 21.5px,#6aff95 26.5px,#1effe1 33.5px,#00f6ff 39.5px,#00deff 42.5px,#00b1ff 45.5px,#0046ff 54.5px,#000eff 66.5px,#0000f9 69.5px,#0000bb 81.5px,#0000a8 91.5px,#0000a8 93.5px)"></i><i style="left:283px;width:3px;background:linear-gradient(#ff4c00 0.5px,#ff5300 11.5px,#ff4d00 13.5px,#ffbd00 17.5px,#fffe00 19.5px,#6aff95 25.5px,#0ffff0 35.5px,#00f8ff 38.5px,#00dcff 41.5px,#00b0ff 44.5px,#0035ff 54.5px,#0000fc 66.5px,#0000c2 76.5px,#0000a4 88.5px,#0000a1 93.5px)"></i><i style="left:286px;width:2px;background:linear-gradient(#ff5100 0.5px,#ff6200 11.5px,#ff9a00 16.5px,#fff300 19.5px,#eeff11 20.5px,#6aff95 25.5px,#1dffe2 32.5px,#00faff 37.5px,#00e4ff 40.5px,#00b4ff 43.5px,#0030ff 54.5px,#0000fd 65.5px,#0000c0 75.5px,#0000a0 89.5px,#00009f 93.5px)"></i><i style="left:288px;width:3px;background:linear-gradient(#ff5600 0.5px,#ff6600 12.5px,#ff9a00 17.5px,#ffd100 19.5px,#fff100 20.5px,#eeff11 21.5px,#79ff86 25.5px,#4fffb0 28.5px,#13ffec 34.5px,#00f4ff 38.5px,#00e4ff 40.5px,#00a8ff 44.5px,#0048ff 54.5px,#0008ff 67.5px,#0000da 74.5px,#0000ae 85.5px,#0000a8 93.5px)"></i><i style="left:291px;width:2px;background:linear-gradient(#ff5800 0.5px,#ff6700 10.5px,#ff9a00 15.5px,#ffd100 17.5px,#fff200 18.5px,#f0ff0f 19.5px,#75ff8a 24.5px,#1effe1 32.5px,#00f6ff 38.5px,#00deff 41.5px,#00b0ff 44.5px,#0041ff 54.5px,#0000f9 68.5px,#0000c3 78.5px,#0000a9 87.5px,#0000a5 93.5px)"></i><i style="left:293px;width:3px;background:linear-gradient(#ff5800 0.5px,#ff6300 11.5px,#ffa300 17.5px,#fbff04 20.5px,#71ff8e 25.5px,#02fffd 35.5px,#00dfff 38.5px,#00b1ff 41.5px,#002bff 54.5px,#0000fd 64.5px,#0000ba 75.5px,#00009c 91.5px,#00009c 93.5px)"></i><i style="left:296px;width:2px;background:linear-gradient(#ff5900 0.5px,#ff6400 9.5px,#ffa500 15.5px,#faff05 18.5px,#6eff91 24.5px,#17ffe8 33.5px,#00fbff 37.5px,#00e6ff 40.5px,#00b6ff 43.5px,#003dff 54.5px,#0000fb 67.5px,#0000c7 76.5px,#0000a7 87.5px,#0000a3 93.5px)"></i><i style="left:298px;width:3px;background:linear-gradient(#ff5900 0.5px,#ff6a00 12.5px,#ff9b00 17.5px,#fff500 20.5px,#ccff33 22.5px,#77ff88 25.5px,#2cffd3 31.5px,#00f9ff 37.5px,#00dcff 40.5px,#00afff 43.5px,#003cff 54.5px,#0000f9 67.5px,#0000c5 76.5px,#0000a6 87.5px,#0000a2 93.5px)"></i><i style="left:301px;width:2px;background:linear-gradient(#ff5a00 0.5px,#ff6800 12.5px,#ff9900 17.5px,#ffce00 19.5px,#ffef00 20.5px,#f0ff0f 21.5px,#79ff86 25.5px,#3fffc0 29.5px,#00feff 35.5px,#00dcff 38.5px,#00afff 41.5px,#0049ff 55.5px,#0000fd 69.5px,#0000b4 83.5px,#0000a9 93.5px)"></i><i style="left:303px;width:2px;background:linear-gradient(#ff5a00 0.5px,#ff6400 11.5px,#ff9f00 17.5px,#feff01 20.5px,#72ff8d 25.5px,#06fff9 35.5px,#00e8ff 38.5px,#00b8ff 41.5px,#0028ff 54.5px,#0000f8 64.5px,#0000b5 75.5px,#000099 93.5px)"></i><i style="left:305px;width:3px;background:linear-gradient(#ff5b00 0.5px,#ff6900 9.5px,#ff9a00 14.5px,#ffcf00 16.5px,#fff000 17.5px,#f3ff0c 18.5px,#6bff94 24.5px,#00fbff 35.5px,#00d4ff 38.5px,#0098ff 43.5px,#0038ff 55.5px,#0000f9 67.5px,#0000c5 76.5px,#0000a4 88.5px,#0000a1 93.5px)"></i><i style="left:308px;width:2px;background:linear-gradient(#ff5b00 0.5px,#ff6800 14.5px,#ff9800 19.5px,#ffa900 20.5px,#ffea00 22.5px,#f2ff0d 23.5px,#81ff7e 26.5px,#66ff99 27.5px,#0dfff2 34.5px,#00eeff 37.5px,#00a7ff 42.5px,#003cff 55.5px,#0000fc 67.5px,#0000c8 76.5px,#0000a7 87.5px,#0000a2 93.5px)"></i><i style="left:310px;width:3px;background:linear-gradient(#ff5c00 0.5px,#ff6b00 11.5px,#ff9b00 16.5px,#fff300 19.5px,#d2ff2d 21.5px,#6aff95 25.5px,#0bfff4 34.5px,#00e8ff 38.5px,#00adff 42.5px,#004dff 56.5px,#0000fe 70.5px,#0000b2 85.5px,#0000ab 93.5px)"></i><i style="left:313px;width:2px;background:linear-gradient(#ff5c00 0.5px,#ff6600 12.5px,#ff9d00 18.5px,#fffb00 21.5px,#69ff96 26.5px,#00f9ff 35.5px,#00aeff 40.5px,#0031ff 55.5px,#0000fe 65.5px,#0000c1 75.5px,#00009e 90.5px,#00009d 93.5px)"></i><i style="left:315px;width:3px;background:linear-gradient(#ff5d00 0.5px,#ff6c00 11.5px,#ff9a00 16.5px,#ffd000 18.5px,#fff100 19.5px,#efff10 20.5px,#69ff96 25.5px,#00feff 35.5px,#00deff 38.5px,#00b0ff 41.5px,#001eff 54.5px,#0000fb 61.5px,#0000aa 75.5px,#000093 93.5px)"></i><i style="left:318px;width:2px;background:linear-gradient(#ff5d00 0.5px,#ff6800 11.5px,#ffa400 17.5px,#faff05 20.5px,#6aff95 25.5px,#02fffd 35.5px,#00e5ff 38.5px,#00b5ff 41.5px,#0034ff 54.5px,#0000fa 65.5px,#0000be 75.5px,#00009c 91.5px,#00009c 93.5px)"></i><i style="left:320px;width:3px;background:linear-gradient(#ff5e00 0.5px,#ff6b00 12.5px,#ff9900 17.5px,#ffac00 18.5px,#ffed00 20.5px,#f0ff0f 21.5px,#6dff92 25.5px,#05fffa 34.5px,#00e8ff 37.5px,#00b8ff 40.5px,#0075ff 48.5px,#0032ff 59.5px,#0000fd 68.5px,#0000c6 78.5px,#0000a9 87.5px,#0000a5 93.5px)"></i><i style="left:323px;width:2px;background:linear-gradient(#ff5e00 0.5px,#ff6b00 11.5px,#ff9900 16.5px,#ffab00 17.5px,#ffec00 19.5px,#f2ff0d 20.5px,#79ff86 24.5px,#50ffaf 27.5px,#03fffc 35.5px,#00e9ff 38.5px,#00aeff 42.5px,#0049ff 56.5px,#0000fe 69.5px,#0000b4 83.5px,#0000a8 93.5px)"></i><i style="left:325px;width:3px;background:linear-gradient(#ff5f00 0.5px,#ff6f00 11.5px,#ff9c00 16.5px,#fff600 19.5px,#a9ff56 22.5px,#6eff91 24.5px,#00fcff 34.5px,#00e6ff 36.5px,#00b5ff 39.5px,#0097ff 43.5px,#0012ff 68.5px,#0000f7 72.5px,#0000b4 85.5px,#0000ad 93.5px)"></i><i style="left:328px;width:2px;background:linear-gradient(#ff5f00 0.5px,#ff6b00 9.5px,#ffa700 15.5px,#f8ff07 18.5px,#70ff8f 23.5px,#00f9ff 35.5px,#00e5ff 37.5px,#00b5ff 40.5px,#0070ff 49.5px,#0000f9 69.5px,#0000ba 81.5px,#0000a5 92.5px,#0000a5 93.5px)"></i><i style="left:330px;width:3px;background:linear-gradient(#ff6000 0.5px,#ff6d00 8.5px,#ff9900 13.5px,#ffac00 14.5px,#ffed00 16.5px,#f3ff0c 17.5px,#75ff8a 22.5px,#17ffe8 32.5px,#00f9ff 36.5px,#00e0ff 39.5px,#00a6ff 43.5px,#003aff 55.5px,#0000fd 66.5px,#0000c3 76.5px,#0000a1 89.5px,#00009f 93.5px)"></i><i style="left:333px;width:2px;background:linear-gradient(#ff6000 0.5px,#ff7100 11.5px,#ff9d00 16.5px,#fff900 19.5px,#7fff80 23.5px,#67ff98 24.5px,#00fbff 34.5px,#00cfff 37.5px,#00a0ff 41.5px,#0000ff 69.5px,#0000b1 84.5px,#0000a8 93.5px)"></i><i style="left:335px;width:3px;background:linear-gradient(#ff6100 0.5px,#ff6f00 13.5px,#ff9a00 18.5px,#ffd100 20.5px,#fff200 21.5px,#e2ff1d 22.5px,#82ff7d 24.5px,#64ff9b 25.5px,#00ffff 33.5px,#00d6ff 36.5px,#00a2ff 40.5px,#0025ff 61.5px,#0000f9 68.5px,#0000c3 78.5px,#0000a7 88.5px,#0000a3 93.5px)"></i><i style="left:338px;width:2px;background:linear-gradient(#ff6100 0.5px,#ff6e00 11.5px,#ff9900 16.5px,#ffac00 17.5px,#ffec00 19.5px,#efff10 20.5px,#7cff83 23.5px,#65ff9a 24.5px,#03fffc 33.5px,#00dcff 36.5px,#00afff 39.5px,#0036ff 57.5px,#0000fd 67.5px,#0000c5 77.5px,#0000a6 88.5px,#0000a2 93.5px)"></i><i style="left:340px;width:3px;background:linear-gradient(#ff6100 0.5px,#ff7100 13.5px,#ff9c00 18.5px,#fff600 21.5px,#d8ff27 22.5px,#70ff8f 24.5px,#15ffea 31.5px,#00f7ff 34.5px,#00e2ff 36.5px,#00a7ff 40.5px,#0033ff 58.5px,#0000f9 68.5px,#0000c3 78.5px,#0000a7 88.5px,#0000a3 93.5px)"></i><i style="left:343px;width:2px;background:linear-gradient(#ff6100 0.5px,#ff6c00 11.5px,#ffa200 17.5px,#faff05 20.5px,#78ff87 23.5px,#59ffa6 25.5px,#00faff 33.5px,#00afff 38.5px,#0085ff 45.5px,#0000fc 70.5px,#0000b2 85.5px,#0000aa 93.5px)"></i><i style="left:345px;width:3px;background:linear-gradient(#ff6100 0.5px,#ff7000 10.5px,#ff9a00 15.5px,#ffcf00 17.5px,#fff000 18.5px,#ebff14 19.5px,#7dff82 22.5px,#66ff99 23.5px,#02fffd 32.5px,#00daff 35.5px,#00afff 38.5px,#002bff 57.5px,#0000f8 66.5px,#0000c0 76.5px,#00009f 90.5px,#00009e 93.5px)"></i><i style="left:348px;width:2px;background:linear-gradient(#ff6100 0.5px,#ff6d00 9.5px,#ffa400 15.5px,#f8ff07 18.5px,#75ff8a 22.5px,#1affe5 30.5px,#00f4ff 32.5px,#00beff 35.5px,#0092ff 40.5px,#000fff 62.5px,#0000f6 66.5px,#0000bf 76.5px,#00009e 91.5px,#00009e 93.5px)"></i><i style="left:350px;width:3px;background:linear-gradient(#ff6100 0.5px,#ff6e00 9.5px,#ff9900 14.5px,#ffab00 15.5px,#ffec00 17.5px,#f2ff0d 18.5px,#72ff8d 22.5px,#05fffa 31.5px,#00d5ff 34.5px,#00a2ff 38.5px,#0000fc 67.5px,#0000c5 77.5px,#0000a6 88.5px,#0000a3 93.5px)"></i><i style="left:353px;width:2px;background:linear-gradient(#ff6100 0.5px,#ff6b00 12.5px,#ff9e00 18.5px,#fffd00 21.5px,#6fff90 24.5px,#00f9ff 32.5px,#00b9ff 36.5px,#0096ff 40.5px,#0000fb 67.5px,#0000c5 77.5px,#0000a6 88.5px,#0000a3 93.5px)"></i><i style="left:355px;width:2px;background:linear-gradient(#ff6100 0.5px,#ff7300 11.5px,#ff9d00 16.5px,#fffb00 19.5px,#71ff8e 23.5px,#00ffff 31.5px,#00b2ff 36.5px,#0059ff 49.5px,#0000fd 65.5px,#0000c0 76.5px,#0000a0 90.5px,#00009f 93.5px)"></i><i style="left:357px;width:3px;background:linear-gradient(#ff6100 0.5px,#ff7300 9.5px,#ff9d00 14.5px,#fffc00 17.5px,#73ff8c 22.5px,#00fbff 32.5px,#00a5ff 38.5px,#001eff 59.5px,#0000fc 65.5px,#0000bf 76.5px,#00009e 91.5px,#00009e 93.5px)"></i><i style="left:360px;width:2px;background:linear-gradient(#ff6200 0.5px,#ff7100 8.5px,#ff9c00 13.5px,#fff700 16.5px,#b3ff4c 19.5px,#69ff96 22.5px,#00feff 32.5px,#00ddff 35.5px,#00b0ff 38.5px,#003aff 57.5px,#0000fa 68.5px,#0000c1 79.5px,#0000a7 89.5px,#0000a5 93.5px)"></i><i style="left:362px;width:3px;background:linear-gradient(#ff6100 0.5px,#ff6d00 11.5px,#ffa400 17.5px,#f8ff07 20.5px,#81ff7e 23.5px,#65ff9a 24.5px,#05fffa 31.5px,#00d8ff 34.5px,#00a2ff 38.5px,#0013ff 66.5px,#0000fa 70.5px,#0000b2 85.5px,#0000aa 93.5px)"></i><i style="left:365px;width:2px;background:linear-gradient(#ff6200 0.5px,#ff6d00 7.5px,#ffa600 13.5px,#f9ff06 16.5px,#75ff8a 21.5px,#13ffec 29.5px,#02fffd 30.5px,#00b1ff 35.5px,#0087ff 42.5px,#0000fd 68.5px,#0000bc 81.5px,#0000a7 92.5px,#0000a7 93.5px)"></i><i style="left:367px;width:3px;background:linear-gradient(#ff6100 0.5px,#ff6c00 10.5px,#ffa100 16.5px,#fbff04 19.5px,#6aff95 23.5px,#06fff9 31.5px,#00ddff 34.5px,#00b0ff 37.5px,#005dff 51.5px,#0000fc 68.5px,#0000bb 81.5px,#0000a7 93.5px)"></i><i style="left:370px;width:2px;background:linear-gradient(#ff6200 0.5px,#ff7500 7.5px,#ffa400 12.5px,#faff05 15.5px,#69ff96 21.5px,#00fdff 31.5px,#00a8ff 37.5px,#0000fd 69.5px,#0000b3 84.5px,#0000aa 93.5px)"></i><i style="left:372px;width:3px;background:linear-gradient(#ff6100 0.5px,#ff6b00 9.5px,#ff9e00 15.5px,#fffe00 18.5px,#77ff88 22.5px,#33ffcc 27.5px,#00feff 30.5px,#00c2ff 33.5px,#0093ff 38.5px,#0007ff 60.5px,#0000d7 68.5px,#0000b3 75.5px,#000098 93.5px)"></i><i style="left:375px;width:2px;background:linear-gradient(#ff6100 0.5px,#ff7100 10.5px,#ff9c00 15.5px,#fff700 18.5px,#77ff88 22.5px,#2cffd3 27.5px,#00f8ff 31.5px,#00aeff 36.5px,#001dff 57.5px,#0000fb 63.5px,#0000b9 75.5px,#00009b 93.5px)"></i><i style="left:377px;width:3px;background:linear-gradient(#ff6100 0.5px,#ff7300 10.5px,#ff9d00 15.5px,#fffb00 18.5px,#77ff88 22.5px,#31ffce 27.5px,#00faff 30.5px,#00c1ff 33.5px,#009aff 37.5px,#0000fa 65.5px,#0000bf 76.5px,#00009f 91.5px,#00009f 93.5px)"></i><i style="left:380px;width:2px;background:linear-gradient(#ff6200 0.5px,#ff6d00 7.5px,#ffa500 13.5px,#f9ff06 16.5px,#6eff91 21.5px,#16ffe9 28.5px,#00f4ff 30.5px,#00b4ff 34.5px,#0081ff 41.5px,#0000fe 63.5px,#0000bc 75.5px,#00009d 92.5px,#00009d 93.5px)"></i><i style="left:382px;width:3px;background:linear-gradient(#ff6200 0.5px,#ff6e00 8.5px,#ff9900 13.5px,#ffaa00 14.5px,#ffeb00 16.5px,#f3ff0c 17.5px,#7cff83 21.5px,#5bffa4 23.5px,#1dffe2 28.5px,#00f5ff 30.5px,#00bfff 33.5px,#0099ff 37.5px,#0000fb 64.5px,#0000be 75.5px,#00009e 92.5px,#00009e 93.5px)"></i><i style="left:385px;width:2px;background:linear-gradient(#ff6200 0.5px,#ff7300 7.5px,#ff9e00 12.5px,#fffe00 15.5px,#68ff97 21.5px,#00feff 30.5px,#00d3ff 33.5px,#00a1ff 37.5px,#0000fc 66.5px,#0000c4 77.5px,#0000a4 90.5px,#0000a4 93.5px)"></i><i style="left:387px;width:3px;background:linear-gradient(#ff6200 0.5px,#ff6d00 7.5px,#ffa400 13.5px,#faff05 16.5px,#70ff8f 21.5px,#13ffec 28.5px,#00fdff 29.5px,#00c2ff 32.5px,#009bff 36.5px,#0000fb 63.5px,#0000ba 75.5px,#00009c 93.5px)"></i><i style="left:390px;width:2px;background:linear-gradient(#ff6200 0.5px,#ff6d00 8.5px,#ffa700 14.5px,#f7ff08 17.5px,#65ff9a 22.5px,#00fdff 29.5px,#00baff 33.5px,#009dff 36.5px,#0000fa 65.5px,#0000c1 76.5px,#0000a1 91.5px,#0000a1 93.5px)"></i><i style="left:392px;width:3px;background:linear-gradient(#ff6100 0.5px,#ff7000 9.5px,#ff9b00 14.5px,#fff300 17.5px,#eaff15 18.5px,#6bff94 22.5px,#07fff8 29.5px,#00e8ff 31.5px,#00b7ff 34.5px,#007eff 41.5px,#0002ff 60.5px,#0000b0 75.5px,#000098 93.5px)"></i><i style="left:395px;width:2px;background:linear-gradient(#ff6200 0.5px,#ff7200 7.5px,#ff9c00 12.5px,#fff800 15.5px,#80ff7f 20.5px,#5dffa2 22.5px,#00fbff 30.5px,#00a8ff 36.5px,#0004ff 62.5px,#0000bb 76.5px,#00009e 93.5px)"></i><i style="left:397px;width:3px;background:linear-gradient(#ff6200 0.5px,#ff6f00 5.5px,#ff9900 10.5px,#ffac00 11.5px,#ffec00 13.5px,#f5ff0a 14.5px,#6dff92 20.5px,#01fffe 30.5px,#00d6ff 33.5px,#00a2ff 37.5px,#0012ff 65.5px,#0000f9 69.5px,#0000b2 85.5px,#0000aa 93.5px)"></i><i style="left:400px;width:2px;background:linear-gradient(#ff6200 0.5px,#ff7100 5.5px,#ff9b00 10.5px,#fff300 13.5px,#d9ff26 15.5px,#6aff95 20.5px,#15ffea 27.5px,#00ffff 28.5px,#00b8ff 32.5px,#0097ff 36.5px,#0000fc 64.5px,#0000bf 76.5px,#0000a0 92.5px,#0000a0 93.5px)"></i><i style="left:402px;width:2px;background:linear-gradient(#ff6200 0.5px,#ff6f00 7.5px,#ff9a00 12.5px,#ffad00 13.5px,#ffee00 15.5px,#f2ff0d 16.5px,#6cff93 21.5px,#00feff 30.5px,#00d3ff 33.5px,#00a1ff 37.5px,#0000fc 66.5px,#0000c5 77.5px,#0000a6 90.5px,#0000a5 93.5px)"></i><i style="left:404px;width:3px;background:linear-gradient(#ff6200 0.5px,#ff7400 6.5px,#ff9f00 11.5px,#feff01 14.5px,#70ff8f 20.5px,#00fcff 29.5px,#00b1ff 34.5px,#0087ff 41.5px,#0000fb 67.5px,#0000be 80.5px,#0000a7 92.5px,#0000a7 93.5px)"></i><i style="left:407px;width:2px;background:linear-gradient(#ff6200 0.5px,#ff7300 5.5px,#ff9e00 10.5px,#fffe00 13.5px,#6aff95 20.5px,#00feff 30.5px,#00d2ff 33.5px,#00a0ff 37.5px,#0000fb 64.5px,#0000bf 76.5px,#0000a1 92.5px,#0000a1 93.5px)"></i><i style="left:409px;width:3px;background:linear-gradient(#ff6200 0.5px,#ff6e00 6.5px,#ff9900 11.5px,#ffab00 12.5px,#ffeb00 14.5px,#f5ff0a 15.5px,#66ff99 21.5px,#02fffd 29.5px,#00dbff 32.5px,#00afff 35.5px,#0059ff 50.5px,#0000fe 66.5px,#0000c4 78.5px,#0000a7 90.5px,#0000a6 93.5px)"></i><i style="left:412px;width:2px;background:linear-gradient(#ff6100 0.5px,#ff6d00 10.5px,#ffa400 16.5px,#f8ff07 19.5px,#68ff97 23.5px,#0bfff4 28.5px,#00e4ff 30.5px,#00a8ff 34.5px,#0000fe 65.5px,#0000c3 77.5px,#0000a5 90.5px,#0000a4 93.5px)"></i><i style="left:414px;width:3px;background:linear-gradient(#ff6300 0.5px,#ff7f00 5.5px,#ff9900 8.5px,#ffaa00 9.5px,#ffeb00 11.5px,#f8ff07 12.5px,#6fff90 19.5px,#06fff9 28.5px,#00d5ff 31.5px,#00a2ff 35.5px,#0010ff 63.5px,#0000f9 67.5px,#0000be 80.5px,#0000a7 92.5px,#0000a7 93.5px)"></i><i style="left:417px;width:2px;background:linear-gradient(#ff6200 0.5px,#ff7500 7.5px,#ffa400 12.5px,#faff05 15.5px,#6aff95 21.5px,#00f9ff 29.5px,#00b6ff 33.5px,#008fff 38.5px,#0000fc 63.5px,#0000bc 76.5px,#0000a0 93.5px)"></i><i style="left:419px;width:3px;background:linear-gradient(#ff6200 0.5px,#ff6d00 7.5px,#ffa500 13.5px,#f9ff06 16.5px,#61ff9e 22.5px,#08fff7 28.5px,#00ecff 30.5px,#00bbff 33.5px,#0096ff 37.5px,#0000fd 61.5px,#0000b5 75.5px,#00009b 93.5px)"></i><i style="left:422px;width:2px;background:linear-gradient(#ff6200 0.5px,#ff7400 6.5px,#ff9e00 11.5px,#ffff00 14.5px,#66ff99 21.5px,#00ffff 30.5px,#00d8ff 33.5px,#00a2ff 37.5px,#0003ff 61.5px,#0000b9 75.5px,#00009e 93.5px)"></i><i style="left:424px;width:3px;background:linear-gradient(#ff6200 0.5px,#ff7800 5.5px,#ff9a00 9.5px,#ffd000 11.5px,#fff000 12.5px,#f4ff0b 13.5px,#69ff96 20.5px,#04fffb 28.5px,#00a9ff 34.5px,#0000fc 63.5px,#0000bd 76.5px,#0000a0 93.5px)"></i><i style="left:427px;width:2px;background:linear-gradient(#ff6200 0.5px,#ff7000 6.5px,#ff9b00 11.5px,#ffd100 13.5px,#fff200 14.5px,#f1ff0e 15.5px,#69ff96 21.5px,#17ffe8 27.5px,#03fffc 28.5px,#00baff 32.5px,#009eff 35.5px,#0011ff 62.5px,#0000f9 66.5px,#0000c2 78.5px,#0000a6 91.5px,#0000a6 93.5px)"></i><i style="left:429px;width:3px;background:linear-gradient(#ff6200 0.5px,#ff7300 6.5px,#ff9d00 11.5px,#fffc00 14.5px,#67ff98 21.5px,#1affe5 27.5px,#00ffff 30.5px,#00e5ff 33.5px,#00b5ff 36.5px,#0078ff 44.5px,#0000ff 63.5px,#0000c0 76.5px,#0000a2 92.5px,#0000a2 93.5px)"></i><i style="left:432px;width:2px;background:linear-gradient(#ff6200 0.5px,#ff6f00 5.5px,#ff9900 10.5px,#ffac00 11.5px,#ffed00 13.5px,#f5ff0a 14.5px,#65ff9a 21.5px,#15ffea 27.5px,#00fdff 28.5px,#00c1ff 31.5px,#009bff 35.5px,#0000fc 63.5px,#0000be 76.5px,#0000a1 93.5px)"></i><i style="left:434px;width:3px;background:linear-gradient(#ff6200 0.5px,#ff7000 6.5px,#ff9b00 11.5px,#fff300 14.5px,#f0ff0f 15.5px,#69ff96 21.5px,#01fffe 28.5px,#00a7ff 34.5px,#0000fe 63.5px,#0000c0 76.5px,#0000a2 92.5px,#0000a2 93.5px)"></i><i style="left:437px;width:2px;background:linear-gradient(#ff6300 0.5px,#ff8a00 6.5px,#ff9b00 8.5px,#fff400 11.5px,#e0ff1f 13.5px,#65ff9a 20.5px,#19ffe6 27.5px,#00f8ff 29.5px,#00b7ff 33.5px,#0098ff 37.5px,#0022ff 60.5px,#0000f9 67.5px,#0000b9 82.5px,#0000a9 93.5px)"></i><i style="left:439px;width:3px;background:linear-gradient(#ff6200 0.5px,#ff7600 6.5px,#ffa600 11.5px,#f9ff06 14.5px,#63ff9c 21.5px,#19ffe6 26.5px,#03fffc 27.5px,#00b9ff 31.5px,#0097ff 35.5px,#0000fe 62.5px,#0000bd 75.5px,#0000a0 93.5px)"></i><i style="left:442px;width:2px;background:linear-gradient(#ff6200 0.5px,#ff6f00 6.5px,#ff9900 11.5px,#ffac00 12.5px,#ffec00 14.5px,#f5ff0a 15.5px,#69ff96 21.5px,#00ffff 29.5px,#00d3ff 32.5px,#00a1ff 36.5px,#0026ff 60.5px,#0000f9 68.5px,#0000b5 84.5px,#0000ab 93.5px)"></i><i style="left:444px;width:3px;background:linear-gradient(#ff6200 0.5px,#ff7500 5.5px,#ffa200 10.5px,#fdff02 13.5px,#69ff96 20.5px,#00fdff 29.5px,#00d4ff 32.5px,#00a1ff 36.5px,#0001ff 60.5px,#0000b5 75.5px,#00009d 93.5px)"></i><i style="left:447px;width:2px;background:linear-gradient(#ff6200 0.5px,#ff7100 6.5px,#ff9b00 11.5px,#fff400 14.5px,#d6ff29 16.5px,#65ff9a 21.5px,#04fffb 28.5px,#00a9ff 34.5px,#0000fc 62.5px,#0000bc 75.5px,#0000a0 93.5px)"></i><i style="left:449px;width:3px;background:linear-gradient(#ff6200 0.5px,#ff7100 5.5px,#ff9b00 10.5px,#fff500 13.5px,#d8ff27 15.5px,#6aff95 20.5px,#02fffd 28.5px,#00a9ff 34.5px,#0000fe 65.5px,#0000c1 79.5px,#0000a8 92.5px,#0000a8 93.5px)"></i><i style="left:452px;width:2px;background:linear-gradient(#ff6200 0.5px,#ff6b00 7.5px,#ff9f00 13.5px,#feff01 16.5px,#70ff8f 21.5px,#04fffb 28.5px,#00a8ff 34.5px,#0000f9 65.5px,#0000c1 78.5px,#0000a6 92.5px,#0000a6 93.5px)"></i><i style="left:454px;width:2px;background:linear-gradient(#ff6200 0.5px,#ff7900 5.5px,#ff9b00 9.5px,#fff400 12.5px,#daff25 14.5px,#70ff8f 19.5px,#28ffd7 25.5px,#00faff 27.5px,#00beff 30.5px,#009aff 34.5px,#0000fe 61.5px,#0000b9 75.5px,#00009f 93.5px)"></i><i style="left:456px;width:3px;background:linear-gradient(#ff6200 0.5px,#ff7500 6.5px,#ffa300 11.5px,#fbff04 14.5px,#6aff95 20.5px,#00f8ff 29.5px,#00aeff 34.5px,#0000fb 63.5px,#0000bf 76.5px,#0000a3 93.5px)"></i><i style="left:459px;width:2px;background:linear-gradient(#ff6300 0.5px,#ff8d00 6.5px,#ff9f00 8.5px,#ffff00 11.5px,#65ff9a 19.5px,#17ffe8 26.5px,#03fffc 27.5px,#00baff 31.5px,#0097ff 35.5px,#0000fa 62.5px,#0000ba 75.5px,#00009f 93.5px)"></i><i style="left:461px;width:3px;background:linear-gradient(#ff6200 0.5px,#ff7300 4.5px,#ff9d00 9.5px,#fffb00 12.5px,#6aff95 19.5px,#1effe1 26.5px,#00f8ff 28.5px,#00b4ff 32.5px,#0097ff 36.5px,#0022ff 59.5px,#0000f9 66.5px,#0000c1 79.5px,#0000a8 92.5px,#0000a8 93.5px)"></i><i style="left:464px;width:2px;background:linear-gradient(#ff6200 0.5px,#ff7500 5.5px,#ffa400 10.5px,#faff05 13.5px,#6eff91 19.5px,#03fffc 28.5px,#00d9ff 31.5px,#00a3ff 35.5px,#0000fa 65.5px,#0000c1 78.5px,#0000a6 92.5px,#0000a6 93.5px)"></i><i style="left:466px;width:3px;background:linear-gradient(#ff6300 0.5px,#ff8100 5.5px,#ff9a00 8.5px,#ffd100 10.5px,#fff100 11.5px,#f3ff0c 12.5px,#66ff99 19.5px,#00feff 29.5px,#00d5ff 32.5px,#00a1ff 36.5px,#0001ff 61.5px,#0000ba 75.5px,#00009f 93.5px)"></i><i style="left:469px;width:2px;background:linear-gradient(#ff6200 0.5px,#ff7400 4.5px,#ffa000 9.5px,#fdff02 12.5px,#68ff97 19.5px,#18ffe7 26.5px,#00f5ff 28.5px,#00b4ff 32.5px,#0091ff 37.5px,#0009ff 62.5px,#0000ed 67.5px,#0000bf 78.5px,#0000a5 92.5px,#0000a5 93.5px)"></i><i style="left:471px;width:3px;background:linear-gradient(#ff6200 0.5px,#ff7e00 5.5px,#ffa700 9.5px,#f9ff06 12.5px,#67ff98 19.5px,#00ffff 29.5px,#00daff 32.5px,#00a3ff 36.5px,#0000fe 62.5px,#0000bc 76.5px,#0000a1 93.5px)"></i><i style="left:474px;width:2px;background:linear-gradient(#ff6200 0.5px,#ff7800 5.5px,#ff9a00 9.5px,#ffd000 11.5px,#fff100 12.5px,#f2ff0d 13.5px,#6bff94 19.5px,#02fffd 29.5px,#00e6ff 32.5px,#00b5ff 35.5px,#0087ff 41.5px,#0000fc 63.5px,#0000c0 76.5px,#0000a3 93.5px)"></i><i style="left:476px;width:3px;background:linear-gradient(#ff6200 0.5px,#ff7000 6.5px,#ff9a00 11.5px,#ffd000 13.5px,#fff100 14.5px,#f0ff0f 15.5px,#6bff94 20.5px,#00f9ff 29.5px,#00baff 33.5px,#0097ff 37.5px,#0000fe 63.5px,#0000c1 76.5px,#0000a4 92.5px,#0000a4 93.5px)"></i><i style="left:479px;width:2px;background:linear-gradient(#ff6200 0.5px,#ff7200 6.5px,#ff9d00 11.5px,#fffa00 14.5px,#68ff97 20.5px,#00fcff 28.5px,#00a6ff 34.5px,#0000fb 62.5px,#0000bc 75.5px,#0000a0 93.5px)"></i><i style="left:481px;width:3px;background:linear-gradient(#ff6300 0.5px,#ff8b00 6.5px,#ff9c00 8.5px,#fff600 11.5px,#daff25 13.5px,#66ff99 19.5px,#15ffea 27.5px,#00f9ff 29.5px,#00baff 33.5px,#009dff 36.5px,#0000fd 64.5px,#0000c2 77.5px,#0000a5 92.5px,#0000a5 93.5px)"></i><i style="left:484px;width:2px;background:linear-gradient(#ff6200 0.5px,#ff7800 5.5px,#ff9a00 9.5px,#ffd000 11.5px,#fff000 12.5px,#f2ff0d 13.5px,#6aff95 19.5px,#00f9ff 28.5px,#00b9ff 32.5px,#009dff 35.5px,#000aff 62.5px,#0000f3 66.5px,#0000c0 78.5px,#0000a6 92.5px,#0000a6 93.5px)"></i><i style="left:486px;width:3px;background:linear-gradient(#ff6200 0.5px,#ff7100 7.5px,#ff9c00 12.5px,#fff600 15.5px,#aeff51 18.5px,#63ff9c 21.5px,#00faff 28.5px,#00b6ff 32.5px,#0097ff 36.5px,#000aff 62.5px,#0000ee 67.5px,#0000c0 78.5px,#0000a5 92.5px,#0000a5 93.5px)"></i><i style="left:489px;width:2px;background:linear-gradient(#ff6200 0.5px,#ff7200 7.5px,#ff9d00 12.5px,#fffb00 15.5px,#73ff8c 20.5px,#10ffef 27.5px,#00f8ff 29.5px,#00a5ff 35.5px,#0013ff 62.5px,#0000f7 67.5px,#0000b9 82.5px,#0000a9 93.5px)"></i><i style="left:491px;width:3px;background:linear-gradient(#ff6200 0.5px,#ff7300 8.5px,#ff9d00 13.5px,#fffc00 16.5px,#69ff96 21.5px,#09fff6 28.5px,#00f1ff 30.5px,#00a9ff 35.5px,#0000f9 63.5px,#0000bd 76.5px,#0000a2 93.5px)"></i><i style="left:494px;width:2px;background:linear-gradient(#ff6300 0.5px,#ff9700 7.5px,#ffa300 8.5px,#fcff03 11.5px,#6eff91 18.5px,#18ffe7 26.5px,#00f9ff 28.5px,#00b8ff 32.5px,#008eff 37.5px,#0000fb 60.5px,#0000b1 75.5px,#00009b 93.5px)"></i><i style="left:496px;width:3px;background:linear-gradient(#ff6200 0.5px,#ff7000 5.5px,#ff9b00 10.5px,#ffd200 12.5px,#fff200 13.5px,#f0ff0f 14.5px,#65ff9a 20.5px,#12ffed 27.5px,#02fffd 28.5px,#00b2ff 33.5px,#0069ff 44.5px,#0000fd 62.5px,#0000bd 75.5px,#0000a1 93.5px)"></i><i style="left:499px;width:2px;background:linear-gradient(#ff6200 0.5px,#ff7600 6.5px,#ff9800 10.5px,#ffa900 11.5px,#ffe900 13.5px,#f6ff09 14.5px,#65ff9a 20.5px,#07fff8 27.5px,#00d3ff 30.5px,#00a1ff 34.5px,#0000fa 64.5px,#0000c0 77.5px,#0000a4 92.5px,#0000a4 93.5px)"></i></div>
<div class="f" style="top:282px;height:95px"><i style="left:58px;width:4px;background:linear-gradient(#0000be 0.5px,#0000d5 11.5px,#0000ee 12.5px,#0017ff 13.5px,#008bff 14.5px,#00d5ff 15.5px,#00faff 16.5px,#1dffe2 18.5px,#6bff94 21.5px,#c2ff3d 24.5px,#ceff31 26.5px,#ceff31 33.5px,#b2ff4d 40.5px,#5effa1 51.5px,#3bffc4 61.5px,#22ffdd 88.5px,#19ffe6 94.5px)"></i><i style="left:62px;width:4px;background:linear-gradient(#0000be 0.5px,#0000d0 10.5px,#0000f9 12.5px,#004aff 13.5px,#00aaff 14.5px,#00f1ff 15.5px,#02fffd 16.5px,#40ffbf 19.5px,#59ffa6 20.5px,#a4ff5b 22.5px,#c9ff36 24.5px,#d6ff29 32.5px,#aaff55 41.5px,#5effa1 51.5px,#3affc5 61.5px,#21ffde 88.5px,#18ffe7 94.5px)"></i><i style="left:66px;width:4px;background:linear-gradient(#0000be 0.5px,#0000d0 10.5px,#0000dd 11.5px,#0000f6 12.5px,#003dff 13.5px,#00a2ff 14.5px,#00edff 15.5px,#00ffff 16.5px,#3dffc2 19.5px,#78ff87 21.5px,#b7ff48 23.5px,#caff35 24.5px,#d3ff2c 32.5px,#b6ff49 39.5px,#5affa5 51.5px,#37ffc8 61.5px,#1effe1 88.5px,#15ffea 94.5px)"></i><i style="left:70px;width:4px;background:linear-gradient(#0000be 0.5px,#0000d1 11.5px,#0004ff 13.5px,#0079ff 14.5px,#00c6ff 15.5px,#00f7ff 16.5px,#19ffe6 18.5px,#9aff65 23.5px,#baff45 24.5px,#cdff32 25.5px,#c3ff3c 37.5px,#51ffae 50.5px,#2affd5 61.5px,#11ffee 88.5px,#08fff7 94.5px)"></i><i style="left:74px;width:4px;background:linear-gradient(#0000be 0.5px,#0000d1 11.5px,#0002ff 13.5px,#0073ff 14.5px,#00c2ff 15.5px,#00f6ff 16.5px,#18ffe7 18.5px,#66ff99 21.5px,#b5ff4a 23.5px,#ceff31 25.5px,#dbff24 31.5px,#b5ff4a 39.5px,#5dffa2 50.5px,#36ffc9 61.5px,#1dffe2 88.5px,#14ffeb 94.5px)"></i><i style="left:78px;width:4px;background:linear-gradient(#0000be 0.5px,#0000d1 11.5px,#0001ff 13.5px,#006cff 14.5px,#00beff 15.5px,#00f5ff 16.5px,#17ffe8 18.5px,#62ff9d 21.5px,#a7ff58 23.5px,#ceff31 25.5px,#d2ff2d 32.5px,#aaff55 42.5px,#69ff96 50.5px,#42ffbd 61.5px,#29ffd6 88.5px,#20ffdf 94.5px)"></i><i style="left:82px;width:4px;background:linear-gradient(#0000be 0.5px,#0000d0 11.5px,#0000fb 13.5px,#00b0ff 15.5px,#00f2ff 16.5px,#03fffc 17.5px,#42ffbd 20.5px,#82ff7d 22.5px,#a7ff58 23.5px,#ceff31 25.5px,#d8ff27 31.5px,#baff45 38.5px,#55ffaa 50.5px,#2fffd0 61.5px,#16ffe9 88.5px,#0dfff2 94.5px)"></i><i style="left:86px;width:4px;background:linear-gradient(#0000be 0.5px,#0000d3 11.5px,#0000ec 12.5px,#000cff 13.5px,#0084ff 14.5px,#00cfff 15.5px,#00f9ff 16.5px,#1bffe4 18.5px,#4cffb3 20.5px,#c3ff3c 23.5px,#e2ff1d 30.5px,#b8ff47 38.5px,#50ffaf 49.5px,#27ffd8 61.5px,#0efff1 88.5px,#05fffa 94.5px)"></i><i style="left:90px;width:4px;background:linear-gradient(#0000be 0.5px,#0000d1 11.5px,#0000fe 13.5px,#0065ff 14.5px,#00baff 15.5px,#00f4ff 16.5px,#16ffe9 18.5px,#61ff9e 21.5px,#a9ff56 23.5px,#ceff31 25.5px,#d6ff29 31.5px,#b9ff46 38.5px,#54ffab 50.5px,#2effd1 61.5px,#15ffea 88.5px,#0cfff3 94.5px)"></i><i style="left:94px;width:4px;background:linear-gradient(#0000bf 0.5px,#0000d3 12.5px,#0005ff 14.5px,#0076ff 15.5px,#00c5ff 16.5px,#00f7ff 17.5px,#18ffe7 19.5px,#9fff60 24.5px,#bdff42 25.5px,#ceff31 26.5px,#c9ff36 34.5px,#baff45 38.5px,#5bffa4 50.5px,#35ffca 61.5px,#1dffe2 88.5px,#14ffeb 94.5px)"></i><i style="left:98px;width:4px;background:linear-gradient(#0000c8 0.5px,#0000db 11.5px,#0009ff 13.5px,#00b9ff 15.5px,#00f4ff 16.5px,#16ffe9 18.5px,#7fff80 22.5px,#baff45 24.5px,#ceff31 25.5px,#cfff30 32.5px,#b7ff48 39.5px,#65ff9a 50.5px,#40ffbf 61.5px,#27ffd8 88.5px,#1effe1 94.5px)"></i><i style="left:102px;width:4px;background:linear-gradient(#0000d0 0.5px,#0000e4 11.5px,#0000fe 12.5px,#001bff 13.5px,#0082ff 14.5px,#00cdff 15.5px,#00f8ff 16.5px,#1affe5 18.5px,#6cff93 21.5px,#baff45 23.5px,#d3ff2c 26.5px,#d9ff26 31.5px,#a4ff5b 42.5px,#64ff9b 50.5px,#40ffbf 60.5px,#25ffda 91.5px,#21ffde 94.5px)"></i><i style="left:106px;width:4px;background:linear-gradient(#0000d2 0.5px,#0000e5 11.5px,#0000f7 12.5px,#0012ff 13.5px,#00b4ff 15.5px,#00f3ff 16.5px,#04fffb 17.5px,#5cffa3 21.5px,#ceff31 25.5px,#c5ff3a 36.5px,#5affa5 50.5px,#37ffc8 60.5px,#1affe5 94.5px)"></i><i style="left:110px;width:4px;background:linear-gradient(#0000d2 0.5px,#0000e5 10.5px,#0000f6 11.5px,#0011ff 12.5px,#00b1ff 14.5px,#00f2ff 15.5px,#04fffb 16.5px,#42ffbd 19.5px,#81ff7e 21.5px,#beff41 23.5px,#cfff30 24.5px,#d6ff29 31.5px,#b9ff46 38.5px,#5bffa4 50.5px,#37ffc8 60.5px,#1effe1 94.5px)"></i><i style="left:114px;width:4px;background:linear-gradient(#0000d2 0.5px,#0000e5 10.5px,#0000f7 11.5px,#0011ff 12.5px,#00b1ff 14.5px,#00f2ff 15.5px,#04fffb 16.5px,#42ffbd 19.5px,#81ff7e 21.5px,#bfff40 23.5px,#cfff30 24.5px,#d9ff26 30.5px,#b9ff46 38.5px,#5cffa3 50.5px,#39ffc6 60.5px,#22ffdd 94.5px)"></i><i style="left:118px;width:4px;background:linear-gradient(#0000d2 0.5px,#0000e4 10.5px,#0007ff 12.5px,#0037ff 13.5px,#0095ff 14.5px,#00e0ff 15.5px,#00fdff 16.5px,#39ffc6 19.5px,#c8ff37 24.5px,#d1ff2e 30.5px,#c0ff3f 37.5px,#5affa5 50.5px,#37ffc8 60.5px,#24ffdb 94.5px)"></i><i style="left:122px;width:4px;background:linear-gradient(#0000d2 0.5px,#0000e5 10.5px,#0000f6 11.5px,#0011ff 12.5px,#00b1ff 14.5px,#00f2ff 15.5px,#04fffb 16.5px,#42ffbd 19.5px,#80ff7f 21.5px,#bdff42 23.5px,#cfff30 24.5px,#d8ff27 30.5px,#bfff40 37.5px,#5cffa3 49.5px,#35ffca 60.5px,#21ffde 94.5px)"></i><i style="left:126px;width:4px;background:linear-gradient(#0000d2 0.5px,#0000e5 10.5px,#0000f8 11.5px,#0013ff 12.5px,#00b6ff 14.5px,#00f3ff 15.5px,#15ffea 17.5px,#5fffa0 20.5px,#aaff55 22.5px,#d0ff2f 24.5px,#daff25 30.5px,#beff41 37.5px,#54ffab 49.5px,#2dffd2 60.5px,#1affe5 94.5px)"></i><i style="left:130px;width:4px;background:linear-gradient(#0000d2 0.5px,#0000e5 10.5px,#0000fb 11.5px,#0016ff 12.5px,#0071ff 13.5px,#00c0ff 14.5px,#00f6ff 15.5px,#17ffe8 17.5px,#81ff7e 21.5px,#bdff42 23.5px,#d0ff2f 24.5px,#d1ff2e 31.5px,#bfff40 37.5px,#5effa1 49.5px,#38ffc7 60.5px,#24ffdb 94.5px)"></i><i style="left:134px;width:4px;background:linear-gradient(#0000d2 0.5px,#0000e5 10.5px,#0000f6 11.5px,#0011ff 12.5px,#00b1ff 14.5px,#00f2ff 15.5px,#04fffb 16.5px,#42ffbd 19.5px,#d0ff2f 24.5px,#d2ff2d 31.5px,#bfff40 37.5px,#62ff9d 49.5px,#3cffc3 60.5px,#29ffd6 94.5px)"></i><i style="left:138px;width:4px;background:linear-gradient(#0000d2 0.5px,#0000e5 10.5px,#0000f3 11.5px,#000dff 12.5px,#004fff 13.5px,#00a7ff 14.5px,#00f0ff 15.5px,#01fffe 16.5px,#3fffc0 19.5px,#58ffa7 20.5px,#a2ff5d 22.5px,#d0ff2f 24.5px,#d9ff26 30.5px,#beff41 37.5px,#5cffa3 49.5px,#36ffc9 60.5px,#23ffdc 94.5px)"></i><i style="left:142px;width:4px;background:linear-gradient(#0000d9 0.5px,#0000f1 10.5px,#000bff 11.5px,#0033ff 12.5px,#008eff 13.5px,#00d9ff 14.5px,#00fbff 15.5px,#1effe1 17.5px,#a5ff5a 22.5px,#c6ff39 23.5px,#d1ff2e 25.5px,#c5ff3a 36.5px,#5affa5 49.5px,#34ffcb 60.5px,#21ffde 94.5px)"></i><i style="left:146px;width:4px;background:linear-gradient(#0000df 0.5px,#0000f2 9.5px,#0000fd 10.5px,#0017ff 11.5px,#004aff 12.5px,#00e8ff 14.5px,#00feff 15.5px,#3cffc3 18.5px,#cdff32 23.5px,#d0ff2f 31.5px,#bcff43 37.5px,#56ffa9 49.5px,#31ffce 60.5px,#1effe1 94.5px)"></i><i style="left:150px;width:4px;background:linear-gradient(#0000e6 0.5px,#0004ff 10.5px,#001dff 11.5px,#004cff 12.5px,#00e6ff 14.5px,#00feff 15.5px,#3bffc4 18.5px,#54ffab 19.5px,#beff41 22.5px,#d3ff2c 24.5px,#deff21 29.5px,#bbff44 37.5px,#57ffa8 49.5px,#30ffcf 59.5px,#1cffe3 94.5px)"></i><i style="left:154px;width:4px;background:linear-gradient(#0000eb 0.5px,#0000fe 9.5px,#002eff 11.5px,#00bcff 13.5px,#00f5ff 14.5px,#16ffe9 16.5px,#61ff9e 19.5px,#a8ff57 21.5px,#d1ff2e 23.5px,#d7ff28 30.5px,#bcff43 37.5px,#57ffa8 50.5px,#31ffce 59.5px,#1bffe4 94.5px)"></i><i style="left:158px;width:4px;background:linear-gradient(#0000f0 0.5px,#0004ff 9.5px,#002bff 11.5px,#005bff 12.5px,#00efff 14.5px,#01fffe 15.5px,#3effc1 18.5px,#aeff51 22.5px,#d0ff2f 23.5px,#c8ff37 35.5px,#93ff6c 43.5px,#59ffa6 51.5px,#34ffcb 59.5px,#1cffe3 94.5px)"></i><i style="left:162px;width:4px;background:linear-gradient(#0078ff 0.5px,#008bff 10.5px,#00b8ff 12.5px,#008fff 13.5px,#00b7ff 14.5px,#00f4ff 15.5px,#15ffea 17.5px,#5fffa0 20.5px,#bfff40 23.5px,#d1ff2e 24.5px,#d9ff26 29.5px,#b8ff47 38.5px,#50ffaf 52.5px,#2effd1 59.5px,#14ffeb 94.5px)"></i><i style="left:166px;width:4px;background:linear-gradient(#007eff 0.5px,#0090ff 10.5px,#009dff 11.5px,#00b6ff 12.5px,#00a0ff 14.5px,#00ebff 15.5px,#00ffff 16.5px,#3dffc2 19.5px,#55ffaa 20.5px,#abff54 22.5px,#c8ff37 23.5px,#e7ff18 28.5px,#bbff44 37.5px,#52ffad 50.5px,#25ffda 58.5px,#09fff6 94.5px)"></i><i style="left:170px;width:4px;background:linear-gradient(#007bff 0.5px,#008fff 10.5px,#00c0ff 12.5px,#0081ff 13.5px,#00ccff 14.5px,#00f8ff 15.5px,#1affe5 17.5px,#9dff62 22.5px,#c1ff3e 23.5px,#d2ff2d 24.5px,#c4ff3b 36.5px,#82ff7d 45.5px,#37ffc8 57.5px,#16ffe9 94.5px)"></i><i style="left:174px;width:4px;background:linear-gradient(#0079ff 0.5px,#008bff 9.5px,#00b4ff 11.5px,#009bff 12.5px,#00aaff 13.5px,#00f1ff 14.5px,#02fffd 15.5px,#40ffbf 18.5px,#59ffa6 19.5px,#a6ff59 21.5px,#d2ff2d 23.5px,#ddff22 29.5px,#acff53 41.5px,#66ff99 50.5px,#3dffc2 59.5px,#21ffde 94.5px)"></i><i style="left:178px;width:4px;background:linear-gradient(#0076ff 0.5px,#0089ff 9.5px,#00b5ff 11.5px,#0092ff 12.5px,#00b3ff 13.5px,#00f3ff 14.5px,#04fffb 15.5px,#43ffbc 18.5px,#84ff7b 20.5px,#aaff55 21.5px,#d3ff2c 23.5px,#ddff22 29.5px,#b7ff48 38.5px,#5dffa2 50.5px,#36ffc9 59.5px,#1affe5 94.5px)"></i><i style="left:182px;width:4px;background:linear-gradient(#0074ff 0.5px,#0086ff 9.5px,#0091ff 10.5px,#00abff 11.5px,#009eff 13.5px,#00e9ff 14.5px,#00ffff 15.5px,#3cffc3 18.5px,#97ff68 21.5px,#d0ff2f 23.5px,#d9ff26 29.5px,#c3ff3c 36.5px,#5bffa4 49.5px,#2fffd0 58.5px,#13ffec 94.5px)"></i><i style="left:186px;width:4px;background:linear-gradient(#0071ff 0.5px,#0084ff 10.5px,#00b2ff 12.5px,#008cff 13.5px,#00f4ff 15.5px,#16ffe9 17.5px,#61ff9e 20.5px,#acff53 22.5px,#d4ff2b 24.5px,#ddff22 29.5px,#c2ff3d 36.5px,#54ffab 49.5px,#29ffd6 58.5px,#0dfff2 94.5px)"></i><i style="left:190px;width:4px;background:linear-gradient(#006eff 0.5px,#0081ff 10.5px,#00b1ff 12.5px,#0087ff 13.5px,#00f6ff 15.5px,#17ffe8 17.5px,#82ff7d 21.5px,#c0ff3f 23.5px,#d4ff2b 24.5px,#d2ff2d 31.5px,#c3ff3c 36.5px,#5affa5 49.5px,#2fffd0 58.5px,#13ffec 94.5px)"></i><i style="left:194px;width:4px;background:linear-gradient(#0062ff 0.5px,#0076ff 10.5px,#00a9ff 12.5px,#0080ff 13.5px,#00caff 14.5px,#00f8ff 15.5px,#19ffe6 17.5px,#6cff93 20.5px,#bfff40 22.5px,#dbff24 25.5px,#e2ff1d 29.5px,#c2ff3d 36.5px,#52ffad 49.5px,#27ffd8 58.5px,#0cfff3 94.5px)"></i><i style="left:198px;width:4px;background:linear-gradient(#0029ff 0.5px,#003dff 10.5px,#007eff 13.5px,#00c5ff 14.5px,#00f7ff 15.5px,#18ffe7 17.5px,#69ff96 20.5px,#beff41 22.5px,#dbff24 25.5px,#e7ff18 28.5px,#c1ff3e 36.5px,#67ff98 45.5px,#21ffde 57.5px,#05fffa 94.5px)"></i><i style="left:202px;width:4px;background:linear-gradient(#0022ff 0.5px,#0034ff 10.5px,#0077ff 13.5px,#00f2ff 15.5px,#04fffb 16.5px,#5bffa4 20.5px,#d5ff2a 24.5px,#d1ff2e 32.5px,#c3ff3c 36.5px,#55ffaa 49.5px,#2affd5 58.5px,#10ffef 94.5px)"></i><i style="left:206px;width:4px;background:linear-gradient(#001eff 0.5px,#0031ff 9.5px,#005aff 11.5px,#0074ff 12.5px,#00aaff 13.5px,#00f1ff 14.5px,#02fffd 15.5px,#40ffbf 18.5px,#d5ff2a 23.5px,#daff25 29.5px,#c0ff3f 37.5px,#61ff9e 50.5px,#3bffc4 58.5px,#21ffde 94.5px)"></i><i style="left:210px;width:4px;background:linear-gradient(#001bff 0.5px,#002eff 8.5px,#007fff 11.5px,#00c9ff 12.5px,#00f8ff 13.5px,#19ffe6 15.5px,#68ff97 18.5px,#aeff51 20.5px,#d6ff29 22.5px,#dcff23 29.5px,#c0ff3f 37.5px,#61ff9e 50.5px,#3affc5 58.5px,#21ffde 94.5px)"></i><i style="left:214px;width:4px;background:linear-gradient(#0000cf 0.5px,#0000e1 8.5px,#0006ff 10.5px,#003aff 11.5px,#0099ff 12.5px,#00e4ff 13.5px,#00fdff 14.5px,#3bffc4 17.5px,#d2ff2d 22.5px,#d9ff26 29.5px,#c2ff3d 36.5px,#59ffa6 48.5px,#28ffd7 58.5px,#0ffff0 94.5px)"></i><i style="left:218px;width:4px;background:linear-gradient(#0000b7 0.5px,#0000c9 9.5px,#0000d3 10.5px,#0000ec 11.5px,#0029ff 12.5px,#0098ff 13.5px,#00e4ff 14.5px,#00feff 15.5px,#3fffc0 18.5px,#7fff80 20.5px,#c8ff37 22.5px,#e2ff1d 23.5px,#ebff14 27.5px,#ccff33 35.5px,#70ff8f 44.5px,#40ffbf 51.5px,#1fffe0 58.5px,#07fff8 94.5px)"></i><i style="left:222px;width:4px;background:linear-gradient(#0000bc 0.5px,#0000ce 9.5px,#0000d8 10.5px,#0000f2 11.5px,#002fff 12.5px,#009aff 13.5px,#00e6ff 14.5px,#01fffe 15.5px,#2bffd4 17.5px,#8dff72 20.5px,#fffe00 23.5px,#fffb00 25.5px,#d1ff2e 33.5px,#c3ff3c 36.5px,#5affa5 48.5px,#29ffd6 58.5px,#12ffed 94.5px)"></i><i style="left:226px;width:4px;background:linear-gradient(#0000e8 0.5px,#0006ff 10.5px,#0020ff 11.5px,#004dff 12.5px,#00e6ff 14.5px,#01fffe 15.5px,#46ffb9 18.5px,#8fff70 20.5px,#e0ff1f 22.5px,#faff05 23.5px,#fbff04 27.5px,#d0ff2f 34.5px,#57ffa8 49.5px,#2bffd4 58.5px,#14ffeb 94.5px)"></i><i style="left:230px;width:4px;background:linear-gradient(#0012ff 0.5px,#0024ff 9.5px,#004dff 11.5px,#006fff 12.5px,#00f1ff 14.5px,#03fffc 15.5px,#43ffbc 18.5px,#e0ff1f 23.5px,#e1ff1e 28.5px,#ccff33 35.5px,#5affa5 47.5px,#24ffdb 58.5px,#0dfff2 94.5px)"></i><i style="left:234px;width:4px;background:linear-gradient(#0015ff 0.5px,#002cff 9.5px,#0061ff 11.5px,#008bff 12.5px,#00d5ff 13.5px,#00faff 14.5px,#1dffe2 16.5px,#6dff92 19.5px,#ceff31 22.5px,#dbff24 24.5px,#ddff22 29.5px,#c5ff3a 36.5px,#5effa1 49.5px,#32ffcd 58.5px,#1cffe3 94.5px)"></i><i style="left:238px;width:4px;background:linear-gradient(#0019ff 0.5px,#002cff 9.5px,#007cff 12.5px,#00c3ff 13.5px,#00f6ff 14.5px,#18ffe7 16.5px,#66ff99 19.5px,#afff50 21.5px,#d9ff26 23.5px,#e2ff1d 28.5px,#c5ff3a 36.5px,#60ff9f 49.5px,#34ffcb 58.5px,#1effe1 94.5px)"></i><i style="left:242px;width:4px;background:linear-gradient(#0031ff 0.5px,#0045ff 10.5px,#0077ff 12.5px,#0083ff 13.5px,#00ceff 14.5px,#00f9ff 15.5px,#1bffe4 17.5px,#6cff93 20.5px,#b9ff46 22.5px,#dbff24 24.5px,#e4ff1b 28.5px,#c2ff3d 36.5px,#59ffa6 48.5px,#28ffd7 58.5px,#12ffed 94.5px)"></i><i style="left:246px;width:4px;background:linear-gradient(#0069ff 0.5px,#007bff 10.5px,#0087ff 11.5px,#00a1ff 12.5px,#009aff 13.5px,#00a1ff 14.5px,#00ecff 15.5px,#00ffff 16.5px,#3dffc2 19.5px,#b2ff4d 23.5px,#d6ff29 24.5px,#d7ff28 30.5px,#ccff33 35.5px,#62ff9d 46.5px,#23ffdc 58.5px,#0efff1 94.5px)"></i><i style="left:250px;width:4px;background:linear-gradient(#008bff 0.5px,#009eff 10.5px,#00d0ff 12.5px,#0083ff 13.5px,#00c7ff 14.5px,#00f7ff 15.5px,#19ffe6 17.5px,#68ff97 20.5px,#b5ff4a 22.5px,#dbff24 24.5px,#e4ff1b 28.5px,#c3ff3c 36.5px,#57ffa8 49.5px,#2cffd3 58.5px,#17ffe8 94.5px)"></i><i style="left:254px;width:4px;background:linear-gradient(#008bff 0.5px,#00a0ff 10.5px,#00caff 12.5px,#0086ff 13.5px,#00d1ff 14.5px,#00f9ff 15.5px,#1cffe3 17.5px,#6dff92 20.5px,#baff45 22.5px,#dcff23 24.5px,#e5ff1a 28.5px,#bfff40 37.5px,#5cffa3 50.5px,#36ffc9 58.5px,#22ffdd 94.5px)"></i><i style="left:258px;width:4px;background:linear-gradient(#008bff 0.5px,#009eff 10.5px,#00d1ff 12.5px,#0080ff 13.5px,#00caff 14.5px,#00f8ff 15.5px,#19ffe6 17.5px,#68ff97 20.5px,#caff35 23.5px,#dbff24 24.5px,#deff21 29.5px,#ccff33 35.5px,#5dffa2 48.5px,#2cffd3 58.5px,#18ffe7 94.5px)"></i><i style="left:262px;width:4px;background:linear-gradient(#008bff 0.5px,#009eff 10.5px,#00d1ff 12.5px,#0081ff 13.5px,#00c9ff 14.5px,#00f8ff 15.5px,#19ffe6 17.5px,#6bff94 20.5px,#bfff40 22.5px,#ddff22 24.5px,#ecff13 27.5px,#cbff34 35.5px,#76ff89 43.5px,#37ffc8 52.5px,#1bffe4 58.5px,#07fff8 94.5px)"></i><i style="left:266px;width:4px;background:linear-gradient(#008bff 0.5px,#00a0ff 10.5px,#00c9ff 12.5px,#0086ff 13.5px,#00d1ff 14.5px,#00f9ff 15.5px,#1cffe3 17.5px,#88ff77 21.5px,#ccff33 23.5px,#dbff24 24.5px,#d7ff28 31.5px,#cbff34 35.5px,#6fff90 44.5px,#20ffdf 56.5px,#06fff9 94.5px)"></i><i style="left:270px;width:4px;background:linear-gradient(#008bff 0.5px,#009fff 10.5px,#00cdff 12.5px,#0083ff 13.5px,#00ceff 14.5px,#00f9ff 15.5px,#1bffe4 17.5px,#89ff76 21.5px,#cbff34 23.5px,#dcff23 24.5px,#daff25 30.5px,#cdff32 35.5px,#58ffa7 49.5px,#29ffd6 57.5px,#12ffed 94.5px)"></i><i style="left:274px;width:4px;background:linear-gradient(#008bff 0.5px,#009eff 10.5px,#00cdff 12.5px,#008dff 13.5px,#00f5ff 15.5px,#17ffe8 17.5px,#63ff9c 20.5px,#c9ff36 23.5px,#ddff22 24.5px,#e3ff1c 28.5px,#c5ff3a 36.5px,#54ffab 50.5px,#2affd5 57.5px,#11ffee 94.5px)"></i><i style="left:278px;width:3px;background:linear-gradient(#008bff 0.5px,#009eff 10.5px,#00ccff 12.5px,#0090ff 13.5px,#00bbff 14.5px,#00f5ff 15.5px,#16ffe9 17.5px,#7fff80 21.5px,#dcff23 24.5px,#dbff24 30.5px,#ccff33 35.5px,#62ff9d 46.5px,#1bffe4 57.5px,#00ffff 94.5px)"></i><i style="left:281px;width:4px;background:linear-gradient(#008bff 0.5px,#009eff 10.5px,#00cbff 12.5px,#0093ff 13.5px,#00b9ff 14.5px,#00f4ff 15.5px,#16ffe9 17.5px,#62ff9d 20.5px,#b4ff4b 22.5px,#deff21 24.5px,#ecff13 27.5px,#cdff32 35.5px,#6aff95 45.5px,#1affe5 57.5px,#00fdff 94.5px)"></i><i style="left:285px;width:4px;background:linear-gradient(#008bff 0.5px,#00a0ff 10.5px,#00cdff 12.5px,#0084ff 13.5px,#00cfff 14.5px,#00f9ff 15.5px,#1bffe4 17.5px,#6bff94 20.5px,#cfff30 23.5px,#e2ff1d 25.5px,#deff21 30.5px,#c6ff39 36.5px,#51ffae 50.5px,#25ffda 57.5px,#08fff7 94.5px)"></i><i style="left:289px;width:4px;background:linear-gradient(#008bff 0.5px,#009eff 10.5px,#00cbff 12.5px,#0092ff 13.5px,#00b9ff 14.5px,#00f4ff 15.5px,#16ffe9 17.5px,#62ff9d 20.5px,#b7ff48 22.5px,#dfff20 24.5px,#efff10 27.5px,#c6ff39 36.5px,#56ffa9 49.5px,#23ffdc 58.5px,#07fff8 93.5px,#06fff9 94.5px)"></i><i style="left:293px;width:4px;background:linear-gradient(#008bff 0.5px,#009dff 10.5px,#00c7ff 12.5px,#00a1ff 13.5px,#00abff 14.5px,#00f1ff 15.5px,#02fffd 16.5px,#59ffa6 20.5px,#b8ff47 23.5px,#ddff22 24.5px,#d4ff2b 34.5px,#53ffac 49.5px,#20ffdf 58.5px,#04fffb 93.5px,#03fffc 94.5px)"></i><i style="left:297px;width:4px;background:linear-gradient(#008bff 0.5px,#009dff 10.5px,#00c7ff 12.5px,#009fff 13.5px,#00aeff 14.5px,#00f2ff 15.5px,#03fffc 16.5px,#5affa5 20.5px,#deff21 24.5px,#d6ff29 33.5px,#c8ff37 36.5px,#5bffa4 48.5px,#21ffde 58.5px,#05fffa 93.5px,#03fffc 94.5px)"></i><i style="left:301px;width:4px;background:linear-gradient(#008bff 0.5px,#009dff 10.5px,#00c8ff 12.5px,#009cff 13.5px,#00b0ff 14.5px,#00f2ff 15.5px,#03fffc 16.5px,#42ffbd 19.5px,#5dffa2 20.5px,#afff50 22.5px,#dfff20 24.5px,#eeff11 27.5px,#d3ff2c 35.5px,#78ff87 44.5px,#1effe1 57.5px,#03fffc 92.5px,#00ffff 94.5px)"></i><i style="left:305px;width:4px;background:linear-gradient(#008bff 0.5px,#009dff 10.5px,#00a9ff 11.5px,#00c2ff 12.5px,#009fff 14.5px,#00eaff 15.5px,#00ffff 16.5px,#3cffc3 19.5px,#b3ff4c 23.5px,#dbff24 24.5px,#deff21 29.5px,#d4ff2b 35.5px,#7eff81 43.5px,#35ffca 53.5px,#1bffe4 58.5px,#00fcff 94.5px)"></i><i style="left:309px;width:4px;background:linear-gradient(#008bff 0.5px,#009dff 10.5px,#00c6ff 12.5px,#00a2ff 13.5px,#00abff 14.5px,#00f1ff 15.5px,#02fffd 16.5px,#40ffbf 19.5px,#5affa5 20.5px,#c8ff37 23.5px,#dfff20 24.5px,#edff12 27.5px,#d5ff2a 35.5px,#83ff7c 42.5px,#37ffc8 52.5px,#17ffe8 58.5px,#00f8ff 94.5px)"></i><i style="left:313px;width:4px;background:linear-gradient(#008bff 0.5px,#009dff 10.5px,#00c5ff 12.5px,#00a7ff 13.5px,#00a6ff 14.5px,#00f0ff 15.5px,#01fffe 16.5px,#3fffc0 19.5px,#b8ff47 23.5px,#dfff20 24.5px,#dcff23 31.5px,#d5ff2a 35.5px,#81ff7e 42.5px,#35ffca 52.5px,#14ffeb 58.5px,#00f8ff 92.5px,#00f6ff 94.5px)"></i><i style="left:317px;width:4px;background:linear-gradient(#008bff 0.5px,#009eff 11.5px,#00caff 13.5px,#0097ff 14.5px,#00b4ff 15.5px,#00f3ff 16.5px,#15ffea 18.5px,#5effa1 21.5px,#c7ff38 24.5px,#e1ff1e 25.5px,#e7ff18 28.5px,#d6ff29 35.5px,#7fff80 42.5px,#34ffcb 52.5px,#13ffec 58.5px,#00f8ff 91.5px,#00f4ff 94.5px)"></i><i style="left:321px;width:4px;background:linear-gradient(#008bff 0.5px,#00a1ff 11.5px,#00c9ff 13.5px,#0087ff 14.5px,#00d2ff 15.5px,#00f9ff 16.5px,#1cffe3 18.5px,#4dffb2 20.5px,#bfff40 23.5px,#e8ff17 25.5px,#f2ff0d 27.5px,#cdff32 36.5px,#80ff7f 43.5px,#37ffc8 53.5px,#1cffe3 58.5px,#00fdff 94.5px)"></i><i style="left:325px;width:4px;background:linear-gradient(#0069ff 0.5px,#007cff 11.5px,#00aeff 13.5px,#0082ff 14.5px,#00c6ff 15.5px,#00f7ff 16.5px,#19ffe6 18.5px,#6bff94 21.5px,#e3ff1c 24.5px,#ffff00 25.5px,#fff500 27.5px,#f1ff0e 30.5px,#c5ff3a 37.5px,#5cffa3 49.5px,#28ffd7 58.5px,#0bfff4 93.5px,#0afff5 94.5px)"></i><i style="left:329px;width:4px;background:linear-gradient(#0031ff 0.5px,#0048ff 12.5px,#008aff 15.5px,#00d5ff 16.5px,#00faff 17.5px,#1effe1 19.5px,#76ff89 22.5px,#c5ff3a 24.5px,#f8ff07 25.5px,#ffef00 26.5px,#feff01 29.5px,#ddff22 33.5px,#c6ff39 37.5px,#5affa5 49.5px,#27ffd8 58.5px,#0afff5 94.5px)"></i><i style="left:333px;width:4px;background:linear-gradient(#0010ff 0.5px,#0024ff 11.5px,#0053ff 13.5px,#0079ff 14.5px,#00bfff 15.5px,#00f5ff 16.5px,#17ffe8 18.5px,#63ff9c 21.5px,#eaff15 25.5px,#e8ff17 29.5px,#d2ff2d 36.5px,#61ff9e 48.5px,#29ffd6 58.5px,#0ffff0 94.5px)"></i><i style="left:337px;width:4px;background:linear-gradient(#0000fe 0.5px,#0012ff 9.5px,#001bff 10.5px,#0059ff 12.5px,#00e3ff 14.5px,#00fdff 15.5px,#3affc5 18.5px,#53ffac 19.5px,#c3ff3c 22.5px,#ddff22 23.5px,#f0ff0f 27.5px,#d3ff2c 36.5px,#69ff96 47.5px,#2bffd4 58.5px,#14ffeb 94.5px)"></i><i style="left:341px;width:4px;background:linear-gradient(#0000ee 0.5px,#0000ff 8.5px,#000aff 9.5px,#0023ff 10.5px,#004cff 11.5px,#00e2ff 13.5px,#00fdff 14.5px,#3affc5 17.5px,#74ff8b 19.5px,#dcff23 22.5px,#ecff13 27.5px,#d3ff2c 36.5px,#86ff79 43.5px,#4bffb4 51.5px,#26ffd9 59.5px,#13ffec 94.5px)"></i><i style="left:345px;width:4px;background:linear-gradient(#0000e5 0.5px,#0000fa 9.5px,#0032ff 11.5px,#00d0ff 13.5px,#00f9ff 14.5px,#1bffe4 16.5px,#6dff92 19.5px,#dbff24 22.5px,#f7ff08 24.5px,#fffa00 27.5px,#d5ff2a 36.5px,#87ff78 43.5px,#52ffad 50.5px,#29ffd6 59.5px,#18ffe7 94.5px)"></i><i style="left:349px;width:4px;background:linear-gradient(#0000e1 0.5px,#0000f5 10.5px,#0029ff 12.5px,#00caff 14.5px,#00f8ff 15.5px,#1affe5 17.5px,#6cff93 20.5px,#e8ff17 23.5px,#fff800 24.5px,#ffe000 26.5px,#fff500 29.5px,#f1ff0e 31.5px,#caff35 37.5px,#79ff86 45.5px,#50ffaf 51.5px,#2dffd2 59.5px,#1effe1 94.5px)"></i><i style="left:353px;width:4px;background:linear-gradient(#0000de 0.5px,#0000f2 10.5px,#000aff 11.5px,#0024ff 12.5px,#00c5ff 14.5px,#00f7ff 15.5px,#18ffe7 17.5px,#67ff98 20.5px,#d7ff28 23.5px,#efff10 24.5px,#fcff03 27.5px,#d7ff28 36.5px,#89ff76 43.5px,#54ffab 50.5px,#2dffd2 59.5px,#1effe1 94.5px)"></i><i style="left:357px;width:4px;background:linear-gradient(#0000e6 0.5px,#0000f8 9.5px,#0007ff 10.5px,#0021ff 11.5px,#0058ff 12.5px,#00f0ff 14.5px,#01fffe 15.5px,#3fffc0 18.5px,#79ff86 20.5px,#e3ff1c 23.5px,#e9ff16 28.5px,#d8ff27 36.5px,#89ff76 42.5px,#50ffaf 49.5px,#26ffd9 59.5px,#17ffe8 94.5px)"></i><i style="left:361px;width:4px;background:linear-gradient(#0004ff 0.5px,#0018ff 9.5px,#004cff 11.5px,#0082ff 12.5px,#00cdff 13.5px,#00f8ff 14.5px,#1affe5 16.5px,#a3ff5c 21.5px,#cfff30 22.5px,#e4ff1b 23.5px,#dbff24 35.5px,#d9ff26 36.5px,#88ff77 42.5px,#4effb1 49.5px,#24ffdb 59.5px,#15ffea 94.5px)"></i><i style="left:365px;width:4px;background:linear-gradient(#000fff 0.5px,#0021ff 8.5px,#0050ff 10.5px,#0077ff 11.5px,#00f5ff 13.5px,#16ffe9 15.5px,#62ff9d 18.5px,#cdff32 21.5px,#e5ff1a 22.5px,#efff10 27.5px,#daff25 36.5px,#84ff7b 44.5px,#57ffa8 50.5px,#31ffce 59.5px,#22ffdd 94.5px)"></i><i style="left:369px;width:4px;background:linear-gradient(#000cff 0.5px,#001eff 8.5px,#004cff 10.5px,#0075ff 11.5px,#00f4ff 13.5px,#16ffe9 15.5px,#61ff9e 18.5px,#cbff34 21.5px,#e5ff1a 22.5px,#edff12 27.5px,#daff25 36.5px,#7dff82 45.5px,#54ffab 51.5px,#31ffce 60.5px,#23ffdc 94.5px)"></i><i style="left:373px;width:4px;background:linear-gradient(#0008ff 0.5px,#001fff 8.5px,#0055ff 10.5px,#0089ff 11.5px,#00d3ff 12.5px,#00faff 13.5px,#1cffe3 15.5px,#9dff62 20.5px,#d1ff2e 21.5px,#e4ff1b 22.5px,#daff25 36.5px,#88ff77 43.5px,#52ffad 50.5px,#2affd5 60.5px,#1cffe3 94.5px)"></i><i style="left:377px;width:4px;background:linear-gradient(#0000fd 0.5px,#0010ff 7.5px,#0038ff 9.5px,#0064ff 10.5px,#00f0ff 12.5px,#02fffd 13.5px,#3fffc0 16.5px,#7bff84 18.5px,#e5ff1a 21.5px,#ebff14 28.5px,#dbff24 36.5px,#82ff7d 43.5px,#4cffb3 50.5px,#23ffdc 60.5px,#15ffea 94.5px)"></i><i style="left:381px;width:4px;background:linear-gradient(#0000e2 0.5px,#0000f8 8.5px,#0013ff 9.5px,#0035ff 10.5px,#00d5ff 12.5px,#00faff 13.5px,#1dffe2 15.5px,#4effb1 17.5px,#daff25 21.5px,#ebff14 23.5px,#f2ff0d 27.5px,#dcff23 36.5px,#84ff7b 43.5px,#4dffb2 50.5px,#24ffdb 60.5px,#15ffea 94.5px)"></i><i style="left:385px;width:4px;background:linear-gradient(#001aff 0.5px,#0034ff 8.5px,#0068ff 10.5px,#0093ff 11.5px,#00ddff 12.5px,#00fcff 13.5px,#38ffc7 16.5px,#51ffae 17.5px,#caff35 20.5px,#e0ff1f 21.5px,#fbff04 26.5px,#d5ff2a 37.5px,#7aff85 46.5px,#4fffb0 53.5px,#33ffcc 60.5px,#25ffda 94.5px)"></i><i style="left:389px;width:4px;background:linear-gradient(#004cff 0.5px,#005dff 7.5px,#0067ff 8.5px,#0081ff 9.5px,#0098ff 11.5px,#00e3ff 12.5px,#00fdff 13.5px,#3affc5 16.5px,#adff52 20.5px,#ddff22 21.5px,#e7ff18 24.5px,#d7ff28 37.5px,#7cff83 46.5px,#4fffb0 53.5px,#33ffcc 60.5px,#25ffda 94.5px)"></i><i style="left:393px;width:4px;background:linear-gradient(#0045ff 0.5px,#0057ff 7.5px,#0080ff 9.5px,#0085ff 10.5px,#00a9ff 11.5px,#00f1ff 12.5px,#02fffd 13.5px,#40ffbf 16.5px,#7cff83 18.5px,#e6ff19 21.5px,#edff12 28.5px,#d9ff26 37.5px,#84ff7b 45.5px,#58ffa7 51.5px,#31ffce 60.5px,#23ffdc 94.5px)"></i><i style="left:397px;width:4px;background:linear-gradient(#0002ff 0.5px,#0014ff 7.5px,#003dff 9.5px,#0068ff 10.5px,#00f1ff 12.5px,#02fffd 13.5px,#40ffbf 16.5px,#7fff80 18.5px,#e7ff18 21.5px,#f2ff0d 27.5px,#dbff24 37.5px,#86ff79 45.5px,#59ffa6 51.5px,#32ffcd 60.5px,#23ffdc 94.5px)"></i><i style="left:401px;width:4px;background:linear-gradient(#0000c7 0.5px,#0000d9 7.5px,#0000e2 8.5px,#0000fc 9.5px,#0031ff 10.5px,#0096ff 11.5px,#00e1ff 12.5px,#00fdff 13.5px,#3affc5 16.5px,#77ff88 18.5px,#e4ff1b 21.5px,#f6ff09 26.5px,#dcff23 37.5px,#88ff77 45.5px,#5affa5 51.5px,#31ffce 60.5px,#23ffdc 94.5px)"></i><i style="left:405px;width:4px;background:linear-gradient(#0000c5 0.5px,#0000dd 7.5px,#0000f7 8.5px,#0023ff 9.5px,#008eff 10.5px,#00d9ff 11.5px,#00fbff 12.5px,#1fffe0 14.5px,#6fff90 17.5px,#b5ff4a 19.5px,#e4ff1b 20.5px,#f5ff0a 21.5px,#f0ff0f 27.5px,#ddff22 37.5px,#77ff88 47.5px,#42ffbd 56.5px,#30ffcf 62.5px,#22ffdd 94.5px)"></i><i style="left:409px;width:4px;background:linear-gradient(#0000c3 0.5px,#0000d5 6.5px,#0004ff 8.5px,#0067ff 9.5px,#00bbff 10.5px,#00f4ff 11.5px,#16ffe9 13.5px,#64ff9b 16.5px,#deff21 19.5px,#fdff02 20.5px,#fff300 24.5px,#f1ff0e 29.5px,#d6ff29 38.5px,#87ff78 45.5px,#53ffac 52.5px,#2dffd2 61.5px,#1effe1 94.5px)"></i><i style="left:413px;width:4px;background:linear-gradient(#0000c0 0.5px,#0000d1 6.5px,#0000f9 8.5px,#0042ff 9.5px,#00a4ff 10.5px,#00efff 11.5px,#01fffe 12.5px,#3fffc0 15.5px,#7dff82 17.5px,#fffc00 20.5px,#ffec00 23.5px,#f9ff06 27.5px,#e1ff1e 35.5px,#d8ff27 38.5px,#7dff82 47.5px,#50ffaf 54.5px,#33ffcc 61.5px,#24ffdb 94.5px)"></i><i style="left:417px;width:4px;background:linear-gradient(#0000c7 0.5px,#0000d9 7.5px,#000bff 9.5px,#0074ff 10.5px,#00c3ff 11.5px,#00f6ff 12.5px,#18ffe7 14.5px,#69ff96 17.5px,#e5ff1a 20.5px,#fffb00 21.5px,#fff600 24.5px,#ecff13 30.5px,#daff25 38.5px,#80ff7f 47.5px,#52ffad 54.5px,#34ffcb 61.5px,#25ffda 94.5px)"></i><i style="left:421px;width:4px;background:linear-gradient(#0000e4 0.5px,#0006ff 8.5px,#0020ff 9.5px,#005aff 10.5px,#00f1ff 12.5px,#02fffd 13.5px,#41ffbe 16.5px,#a0ff5f 19.5px,#f4ff0b 21.5px,#f2ff0d 27.5px,#dcff23 38.5px,#8aff75 45.5px,#55ffaa 52.5px,#2cffd3 61.5px,#1dffe2 94.5px)"></i><i style="left:425px;width:4px;background:linear-gradient(#0000f2 0.5px,#0006ff 7.5px,#0033ff 9.5px,#006eff 10.5px,#00b7ff 11.5px,#00f4ff 12.5px,#15ffea 14.5px,#60ff9f 17.5px,#cfff30 20.5px,#ebff14 21.5px,#f1ff0e 28.5px,#ddff22 38.5px,#8fff70 44.5px,#50ffaf 52.5px,#27ffd8 61.5px,#19ffe6 94.5px)"></i><i style="left:429px;width:4px;background:linear-gradient(#0000f5 0.5px,#0009ff 7.5px,#0038ff 9.5px,#0074ff 10.5px,#00bdff 11.5px,#00f5ff 12.5px,#17ffe8 14.5px,#62ff9d 17.5px,#e8ff17 21.5px,#eaff15 30.5px,#deff21 38.5px,#89ff76 45.5px,#52ffad 52.5px,#28ffd7 62.5px,#1affe5 94.5px)"></i><i style="left:433px;width:4px;background:linear-gradient(#0000f8 0.5px,#000bff 7.5px,#0037ff 9.5px,#006cff 10.5px,#00f3ff 12.5px,#04fffb 13.5px,#43ffbc 16.5px,#82ff7d 18.5px,#e8ff17 21.5px,#efff10 29.5px,#d6ff29 39.5px,#8bff74 45.5px,#54ffab 52.5px,#29ffd6 62.5px,#1bffe4 94.5px)"></i><i style="left:437px;width:4px;background:linear-gradient(#0000fb 0.5px,#000dff 7.5px,#0019ff 8.5px,#0032ff 9.5px,#005bff 10.5px,#00e8ff 12.5px,#00feff 13.5px,#3cffc3 16.5px,#76ff89 18.5px,#e4ff1b 21.5px,#eeff11 29.5px,#d9ff26 39.5px,#90ff6f 45.5px,#53ffac 53.5px,#2dffd2 62.5px,#1fffe0 94.5px)"></i><i style="left:441px;width:4px;background:linear-gradient(#0020ff 0.5px,#0033ff 7.5px,#007cff 10.5px,#00bfff 11.5px,#00f5ff 12.5px,#17ffe8 14.5px,#64ff9b 17.5px,#d3ff2c 20.5px,#e9ff16 21.5px,#f5ff0a 28.5px,#dbff24 39.5px,#90ff6f 45.5px,#53ffac 53.5px,#2dffd2 62.5px,#1effe1 94.5px)"></i><i style="left:445px;width:4px;background:linear-gradient(#004eff 0.5px,#0060ff 6.5px,#008fff 8.5px,#0083ff 9.5px,#00f5ff 11.5px,#16ffe9 13.5px,#64ff9b 16.5px,#b9ff46 18.5px,#e9ff16 20.5px,#faff05 28.5px,#deff21 39.5px,#8eff71 46.5px,#59ffa6 53.5px,#32ffcd 62.5px,#24ffdb 94.5px)"></i><i style="left:449px;width:4px;background:linear-gradient(#0055ff 0.5px,#0066ff 6.5px,#0071ff 7.5px,#008aff 8.5px,#009aff 10.5px,#00e4ff 11.5px,#00feff 12.5px,#3bffc4 15.5px,#74ff8b 17.5px,#e3ff1c 20.5px,#f1ff0e 28.5px,#deff21 39.5px,#8bff74 46.5px,#56ffa9 53.5px,#2fffd0 62.5px,#20ffdf 94.5px)"></i><i style="left:453px;width:4px;background:linear-gradient(#0051ff 0.5px,#0063ff 7.5px,#0093ff 9.5px,#0084ff 10.5px,#00f6ff 12.5px,#19ffe6 14.5px,#68ff97 17.5px,#adff52 19.5px,#dbff24 20.5px,#fdff02 21.5px,#fbff04 28.5px,#dfff20 39.5px,#8eff71 45.5px,#4fffb0 53.5px,#27ffd8 63.5px,#19ffe6 94.5px)"></i><i style="left:457px;width:4px;background:linear-gradient(#003dff 0.5px,#0052ff 7.5px,#0083ff 9.5px,#0084ff 10.5px,#00d0ff 11.5px,#00faff 12.5px,#1fffe0 14.5px,#7aff85 17.5px,#fdff02 20.5px,#ffe800 21.5px,#ffdd00 25.5px,#f7ff08 31.5px,#d7ff28 40.5px,#89ff76 46.5px,#52ffad 53.5px,#2affd5 63.5px,#1cffe3 94.5px)"></i><i style="left:461px;width:4px;background:linear-gradient(#0000ff 0.5px,#0014ff 7.5px,#0049ff 9.5px,#0083ff 10.5px,#00ceff 11.5px,#00f9ff 12.5px,#1bffe4 14.5px,#69ff96 17.5px,#abff54 19.5px,#d8ff27 20.5px,#ecff13 21.5px,#edff12 30.5px,#daff25 40.5px,#8eff71 46.5px,#56ffa9 53.5px,#2effd1 63.5px,#20ffdf 94.5px)"></i><i style="left:465px;width:4px;background:linear-gradient(#0000da 0.5px,#0000eb 6.5px,#0000f9 7.5px,#0013ff 8.5px,#004fff 9.5px,#00efff 11.5px,#01fffe 12.5px,#3effc1 15.5px,#8cff73 18.5px,#b4ff4b 19.5px,#e8ff17 20.5px,#ddff22 40.5px,#8eff71 46.5px,#56ffa9 53.5px,#2dffd2 63.5px,#1fffe0 94.5px)"></i><i style="left:469px;width:4px;background:linear-gradient(#0000bb 0.5px,#0000ce 6.5px,#0002ff 8.5px,#007eff 9.5px,#00caff 10.5px,#00f8ff 11.5px,#19ffe6 13.5px,#68ff97 16.5px,#d5ff2a 19.5px,#eaff15 20.5px,#efff10 30.5px,#dfff20 40.5px,#94ff6b 46.5px,#5bffa4 53.5px,#32ffcd 63.5px,#24ffdb 94.5px)"></i><i style="left:473px;width:4px;background:linear-gradient(#0000b4 0.5px,#0000cc 7.5px,#0000e6 8.5px,#0016ff 9.5px,#008fff 10.5px,#00daff 11.5px,#00fbff 12.5px,#1fffe0 14.5px,#6eff91 17.5px,#b1ff4e 19.5px,#ddff22 20.5px,#eaff15 21.5px,#ebff14 32.5px,#e0ff1f 40.5px,#8cff73 47.5px,#56ffa9 54.5px,#31ffce 64.5px,#23ffdc 94.5px)"></i><i style="left:477px;width:4px;background:linear-gradient(#0000b4 0.5px,#0000cd 8.5px,#0000e6 9.5px,#0019ff 10.5px,#0090ff 11.5px,#00dbff 12.5px,#00fcff 13.5px,#37ffc8 16.5px,#73ff8c 18.5px,#e0ff1f 21.5px,#f0ff0f 24.5px,#f4ff0b 30.5px,#d8ff27 41.5px,#8bff74 48.5px,#5effa1 54.5px,#38ffc7 64.5px,#2affd5 94.5px)"></i><i style="left:481px;width:4px;background:linear-gradient(#0000b4 0.5px,#0000cd 8.5px,#0000e6 9.5px,#001aff 10.5px,#0091ff 11.5px,#00dcff 12.5px,#00fcff 13.5px,#38ffc7 16.5px,#92ff6d 19.5px,#dfff20 21.5px,#ecff13 23.5px,#eeff11 31.5px,#dbff24 41.5px,#79ff86 51.5px,#42ffbd 62.5px,#30ffcf 94.5px)"></i><i style="left:485px;width:4px;background:linear-gradient(#0000b4 0.5px,#0000c6 7.5px,#0000ef 9.5px,#0046ff 10.5px,#00aaff 11.5px,#00f1ff 12.5px,#02fffd 13.5px,#40ffbf 16.5px,#59ffa6 17.5px,#eaff15 21.5px,#f7ff08 29.5px,#deff21 41.5px,#89ff76 49.5px,#5effa1 55.5px,#3bffc4 65.5px,#2effd1 94.5px)"></i><i style="left:489px;width:4px;background:linear-gradient(#0000b4 0.5px,#0000c6 7.5px,#0000f5 9.5px,#0068ff 10.5px,#00bdff 11.5px,#00f5ff 12.5px,#17ffe8 14.5px,#63ff9c 17.5px,#d3ff2c 20.5px,#ebff14 21.5px,#f5ff0a 30.5px,#e0ff1f 41.5px,#96ff69 47.5px,#5dffa2 54.5px,#36ffc9 65.5px,#28ffd7 94.5px)"></i><i style="left:493px;width:4px;background:linear-gradient(#0000b4 0.5px,#0000c8 7.5px,#0002ff 9.5px,#0084ff 10.5px,#00cfff 11.5px,#00f9ff 12.5px,#1bffe4 14.5px,#69ff96 17.5px,#aaff55 19.5px,#d7ff28 20.5px,#ebff14 21.5px,#ecff13 32.5px,#e0ff1f 41.5px,#90ff6f 47.5px,#56ffa9 54.5px,#2fffd0 65.5px,#21ffde 94.5px)"></i><i style="left:497px;width:4px;background:linear-gradient(#0000b4 0.5px,#0000ca 7.5px,#0000e4 8.5px,#000cff 9.5px,#0089ff 10.5px,#00d4ff 11.5px,#00faff 12.5px,#1dffe2 14.5px,#6cff93 17.5px,#afff50 19.5px,#dbff24 20.5px,#ebff14 21.5px,#efff10 31.5px,#e1ff1e 41.5px,#86ff79 49.5px,#59ffa6 55.5px,#36ffc9 65.5px,#28ffd7 94.5px)"></i></div>
<div class="f" style="top:415px;height:93px"><i style="left:58px;width:2px;background:linear-gradient(#000080 0.1px,#000083 19.1px,#0000b8 28.1px,#0000ce 29.1px,#0000f3 30.1px,#0019ff 31.1px,#00d1ff 36.1px,#04fffb 39.1px,#3fffc0 43.1px,#3fffc0 92.1px)"></i><i style="left:60px;width:3px;background:linear-gradient(#0000cb 0.1px,#0000cc 17.1px,#0002ff 26.1px,#0014ff 29.1px,#00c5ff 34.1px,#00eaff 35.1px,#11ffee 36.1px,#2fffd0 37.1px,#92ff6d 43.1px,#98ff67 92.1px)"></i><i style="left:63px;width:2px;background:linear-gradient(#000080 0.1px,#000086 20.1px,#0000b5 28.1px,#0000ca 29.1px,#0000ef 30.1px,#0015ff 31.1px,#00cdff 36.1px,#00ffff 39.1px,#3cffc3 43.1px,#3cffc3 92.1px)"></i><i style="left:65px;width:3px;background:linear-gradient(#000080 0.1px,#000084 25.1px,#00009b 29.1px,#0003ff 32.1px,#00b6ff 37.1px,#00f8ff 41.1px,#21ffde 44.1px,#21ffde 92.1px)"></i><i style="left:68px;width:2px;background:linear-gradient(#0000ba 0.1px,#0000bf 17.1px,#0001ff 28.1px,#0015ff 29.1px,#00f2ff 35.1px,#18ffe7 36.1px,#87ff78 43.1px,#87ff78 92.1px)"></i><i style="left:70px;width:3px;background:linear-gradient(#0000c1 0.1px,#0000c3 17.1px,#0004ff 28.1px,#000aff 29.1px,#004bff 31.1px,#04fffb 36.1px,#24ffdb 37.1px,#87ff78 43.1px,#8eff71 49.1px,#8eff71 92.1px)"></i><i style="left:73px;width:2px;background:linear-gradient(#000080 0.1px,#000082 18.1px,#0000bc 28.1px,#0000cf 29.1px,#0000f4 30.1px,#003fff 32.1px,#00d2ff 36.1px,#06fff9 39.1px,#43ffbc 43.1px,#43ffbc 92.1px)"></i><i style="left:75px;width:3px;background:linear-gradient(#000086 0.1px,#000088 17.1px,#0000ce 29.1px,#0000e9 30.1px,#000fff 31.1px,#00e7ff 37.1px,#09fff6 39.1px,#4bffb4 43.1px,#53ffac 46.1px,#53ffac 92.1px)"></i><i style="left:78px;width:2px;background:linear-gradient(#0014ff 0.1px,#0019ff 17.1px,#0059ff 28.1px,#006bff 29.1px,#00ffff 33.1px,#6eff91 36.1px,#e0ff1f 43.1px,#e0ff1f 92.1px)"></i><i style="left:80px;width:3px;background:linear-gradient(#000080 0.1px,#000081 19.1px,#0000bb 29.1px,#0000f9 31.1px,#00d4ff 37.1px,#06fff9 40.1px,#40ffbf 44.1px,#40ffbf 92.1px)"></i><i style="left:83px;width:2px;background:linear-gradient(#000089 0.1px,#00008f 17.1px,#0000cf 28.1px,#0000e0 29.1px,#0005ff 30.1px,#00e2ff 36.1px,#06fff9 38.1px,#56ffa9 43.1px,#56ffa9 92.1px)"></i><i style="left:85px;width:3px;background:linear-gradient(#0000cf 0.1px,#0000d1 17.1px,#0006ff 26.1px,#0018ff 29.1px,#0055ff 31.1px,#00e8ff 35.1px,#0dfff2 36.1px,#30ffcf 37.1px,#9cff63 44.1px,#9cff63 92.1px)"></i><i style="left:88px;width:2px;background:linear-gradient(#0000bd 0.1px,#0000c3 17.1px,#0004ff 28.1px,#0014ff 29.1px,#00f0ff 35.1px,#15ffea 36.1px,#8aff75 43.1px,#8aff75 92.1px)"></i><i style="left:90px;width:3px;background:linear-gradient(#0000e2 0.1px,#0000e3 17.1px,#0007ff 23.1px,#002aff 29.1px,#0042ff 30.1px,#00f8ff 35.1px,#41ffbe 37.1px,#afff50 44.1px,#afff50 92.1px)"></i><i style="left:93px;width:2px;background:linear-gradient(#0000c0 0.1px,#0000c6 17.1px,#0007ff 28.1px,#0016ff 29.1px,#00f1ff 35.1px,#17ffe8 36.1px,#8dff72 43.1px,#8dff72 92.1px)"></i><i style="left:95px;width:3px;background:linear-gradient(#00008d 0.1px,#00008e 17.1px,#0000d4 29.1px,#0000eb 30.1px,#0010ff 31.1px,#00ebff 37.1px,#00fbff 38.1px,#5affa5 44.1px,#5affa5 92.1px)"></i><i style="left:98px;width:2px;background:linear-gradient(#0000a3 0.1px,#0000a9 17.1px,#0000e8 28.1px,#0000f7 29.1px,#0065ff 32.1px,#00f7ff 36.1px,#3fffc0 40.1px,#70ff8f 43.1px,#70ff8f 92.1px)"></i><i style="left:100px;width:3px;background:linear-gradient(#000087 0.1px,#000089 17.1px,#0000ce 29.1px,#000aff 31.1px,#00e4ff 37.1px,#06fff9 39.1px,#54ffab 44.1px,#54ffab 92.1px)"></i><i style="left:103px;width:2px;background:linear-gradient(#0000c1 0.1px,#0000c6 17.1px,#0007ff 28.1px,#0014ff 29.1px,#00eeff 35.1px,#13ffec 36.1px,#8cff73 43.1px,#8dff72 92.1px)"></i><i style="left:105px;width:2px;background:linear-gradient(#0000b5 0.1px,#0000b6 17.1px,#0000fb 29.1px,#0011ff 30.1px,#00ebff 36.1px,#10ffef 37.1px,#80ff7f 44.1px,#80ff7f 92.1px)"></i><i style="left:107px;width:3px;background:linear-gradient(#000080 0.1px,#000084 20.1px,#0000b1 28.1px,#0000be 29.1px,#0007ff 31.1px,#00bcff 36.1px,#00f4ff 39.1px,#15ffea 41.1px,#35ffca 43.1px,#38ffc7 92.1px)"></i><i style="left:110px;width:2px;background:linear-gradient(#0000b5 0.1px,#0000b7 17.1px,#0000fb 29.1px,#0010ff 30.1px,#00e8ff 36.1px,#0dfff2 37.1px,#7fff80 44.1px,#7fff80 92.1px)"></i><i style="left:112px;width:3px;background:linear-gradient(#000080 0.1px,#000085 17.1px,#0000cf 29.1px,#0000f3 30.1px,#003cff 32.1px,#00ccff 36.1px,#00f4ff 38.1px,#15ffea 40.1px,#46ffb9 43.1px,#49ffb6 92.1px)"></i><i style="left:115px;width:2px;background:linear-gradient(#0000a5 0.1px,#0000a7 17.1px,#0000eb 29.1px,#0000fe 30.1px,#00faff 37.1px,#6eff91 44.1px,#6eff91 92.1px)"></i><i style="left:117px;width:3px;background:linear-gradient(#000093 0.1px,#000098 17.1px,#0000e2 29.1px,#0006ff 30.1px,#00ddff 36.1px,#00f6ff 37.1px,#17ffe8 39.1px,#57ffa8 43.1px,#5bffa4 92.1px)"></i><i style="left:120px;width:2px;background:linear-gradient(#0000af 0.1px,#0000b1 17.1px,#0000f5 29.1px,#0008ff 30.1px,#02fffd 37.1px,#76ff89 44.1px,#77ff88 92.1px)"></i><i style="left:122px;width:3px;background:linear-gradient(#000080 0.1px,#000085 29.1px,#0000f0 32.1px,#0014ff 33.1px,#007fff 36.1px,#00a9ff 38.1px,#00f8ff 43.1px,#00fdff 92.1px)"></i><i style="left:125px;width:2px;background:linear-gradient(#0000b7 0.1px,#0000b9 17.1px,#0000fc 29.1px,#000eff 30.1px,#00e3ff 36.1px,#08fff7 37.1px,#7cff83 44.1px,#7eff81 92.1px)"></i><i style="left:127px;width:3px;background:linear-gradient(#000080 0.1px,#000086 21.1px,#0000b6 29.1px,#0000fd 31.1px,#00afff 36.1px,#00d9ff 38.1px,#00f9ff 40.1px,#2fffd0 44.1px,#2fffd0 92.1px)"></i><i style="left:130px;width:2px;background:linear-gradient(#0000d7 0.1px,#0000d8 17.1px,#0006ff 25.1px,#001dff 29.1px,#002dff 30.1px,#02fffd 36.1px,#25ffda 37.1px,#9aff65 44.1px,#9cff63 92.1px)"></i><i style="left:132px;width:3px;background:linear-gradient(#000080 0.1px,#000086 19.1px,#0000c0 29.1px,#0008ff 31.1px,#00b8ff 36.1px,#00e3ff 38.1px,#03fffc 40.1px,#33ffcc 43.1px,#3affc5 49.1px,#3affc5 92.1px)"></i><i style="left:135px;width:2px;background:linear-gradient(#000092 0.1px,#000093 17.1px,#0000d6 29.1px,#0009ff 31.1px,#00dcff 37.1px,#03fffc 39.1px,#52ffad 44.1px,#55ffaa 92.1px)"></i><i style="left:137px;width:3px;background:linear-gradient(#00008a 0.1px,#000090 17.1px,#0000d4 29.1px,#0000f7 30.1px,#0084ff 34.1px,#00e6ff 37.1px,#07fff8 39.1px,#45ffba 43.1px,#4dffb2 47.1px,#4dffb2 92.1px)"></i><i style="left:140px;width:2px;background:linear-gradient(#0000b4 0.1px,#0000ba 18.1px,#0000f7 30.1px,#0017ff 31.1px,#00edff 37.1px,#0efff1 38.1px,#7fff80 45.1px,#81ff7e 92.1px)"></i><i style="left:142px;width:3px;background:linear-gradient(#0000d8 0.1px,#0000dc 17.1px,#0007ff 28.1px,#000fff 30.1px,#001dff 31.1px,#03fffc 37.1px,#29ffd6 38.1px,#b7ff48 46.1px,#c1ff3e 48.1px,#c1ff3e 92.1px)"></i><i style="left:145px;width:2px;background:linear-gradient(#0000b7 0.1px,#0000bd 19.1px,#0000e0 32.1px,#0000ed 33.1px,#0017ff 34.1px,#00e6ff 39.1px,#08fff7 40.1px,#b1ff4e 49.1px,#bcff43 51.1px,#bcff43 92.1px)"></i><i style="left:147px;width:3px;background:linear-gradient(#0000b0 0.1px,#0000b6 20.1px,#0000cb 33.1px,#0000ea 34.1px,#0019ff 35.1px,#00d0ff 39.1px,#00f5ff 40.1px,#1effe1 42.1px,#d0ff2f 51.1px,#d0ff2f 92.1px)"></i><i style="left:150px;width:2px;background:linear-gradient(#0000b9 0.1px,#0000c3 27.1px,#0000ca 35.1px,#0000f9 36.1px,#00f1ff 41.1px,#07fff8 42.1px,#e5ff1a 53.1px,#ecff13 60.1px,#ecff13 92.1px)"></i><i style="left:152px;width:3px;background:linear-gradient(#0000ae 0.1px,#0000b8 26.1px,#0000c0 34.1px,#0000dd 35.1px,#0010ff 36.1px,#00d7ff 40.1px,#00f4ff 41.1px,#1dffe2 43.1px,#e1ff1e 53.1px,#e1ff1e 92.1px)"></i><i style="left:155px;width:2px;background:linear-gradient(#0000b5 0.1px,#0000be 26.1px,#0000c7 35.1px,#0000eb 36.1px,#001dff 37.1px,#00e5ff 41.1px,#00ffff 42.1px,#e8ff17 54.1px,#e8ff17 92.1px)"></i><i style="left:157px;width:2px;background:linear-gradient(#000095 0.1px,#00009e 25.1px,#0000a7 34.1px,#0000b9 35.1px,#0000eb 36.1px,#001eff 37.1px,#00b4ff 40.1px,#00d9ff 41.1px,#01fffe 43.1px,#c5ff3a 53.1px,#c8ff37 92.1px)"></i><i style="left:159px;width:3px;background:linear-gradient(#0000ad 0.1px,#0000b6 25.1px,#0000c1 35.1px,#0000d9 36.1px,#000cff 37.1px,#00d3ff 41.1px,#00f5ff 42.1px,#1cffe3 44.1px,#deff21 54.1px,#e0ff1f 92.1px)"></i><i style="left:162px;width:2px;background:linear-gradient(#0000ec 0.1px,#0000f5 24.1px,#0001ff 34.1px,#0008ff 35.1px,#02fffd 40.1px,#2fffd0 41.1px,#fffd00 52.1px,#ffdf00 54.1px,#ffdf00 92.1px)"></i><i style="left:164px;width:3px;background:linear-gradient(#0000de 0.1px,#0000e6 24.1px,#0000f2 35.1px,#0001ff 36.1px,#00f9ff 41.1px,#24ffdb 42.1px,#f4ff0b 53.1px,#ffed00 55.1px,#ffed00 92.1px)"></i><i style="left:167px;width:2px;background:linear-gradient(#000080 0.1px,#000086 34.1px,#000088 35.1px,#0000e6 37.1px,#0019ff 38.1px,#00aeff 41.1px,#00fdff 45.1px,#a5ff5a 54.1px,#a5ff5a 92.1px)"></i><i style="left:169px;width:3px;background:linear-gradient(#0000ab 0.1px,#0000b3 24.1px,#0000c3 36.1px,#0000f4 37.1px,#0059ff 39.1px,#00eeff 42.1px,#02fffd 43.1px,#deff21 55.1px,#deff21 92.1px)"></i><i style="left:172px;width:2px;background:linear-gradient(#0000ba 0.1px,#0000c2 23.1px,#0000d1 35.1px,#0000f3 36.1px,#0025ff 37.1px,#00ecff 41.1px,#0cfff3 42.1px,#e7ff18 54.1px,#edff12 79.1px,#edff12 92.1px)"></i><i style="left:174px;width:3px;background:linear-gradient(#00009f 0.1px,#0000a7 23.1px,#0000b8 36.1px,#0000df 37.1px,#0012ff 38.1px,#00d8ff 42.1px,#00f4ff 43.1px,#19ffe6 45.1px,#cdff32 55.1px,#d2ff2d 92.1px)"></i><i style="left:177px;width:2px;background:linear-gradient(#00009b 0.1px,#0000a2 22.1px,#0000b3 35.1px,#0000ca 36.1px,#0000fb 37.1px,#00c3ff 41.1px,#00ebff 42.1px,#00fcff 43.1px,#ceff31 55.1px,#ceff31 92.1px)"></i><i style="left:179px;width:3px;background:linear-gradient(#0000b1 0.1px,#0000b9 23.1px,#0000ca 36.1px,#0000e7 37.1px,#0019ff 38.1px,#00e0ff 42.1px,#05fffa 43.1px,#e4ff1b 56.1px,#e4ff1b 92.1px)"></i><i style="left:182px;width:2px;background:linear-gradient(#0000d6 0.1px,#0000de 22.1px,#0000f0 35.1px,#0000fb 36.1px,#00f4ff 41.1px,#25ffda 42.1px,#f6ff09 54.1px,#fff500 56.1px,#fff500 92.1px)"></i><i style="left:184px;width:3px;background:linear-gradient(#0000d8 0.1px,#0000e0 23.1px,#0000f2 36.1px,#0005ff 37.1px,#00fcff 42.1px,#2bffd4 43.1px,#f8ff07 55.1px,#fff300 57.1px,#fff300 92.1px)"></i><i style="left:187px;width:2px;background:linear-gradient(#0000b5 0.1px,#0000bc 22.1px,#0000d1 36.1px,#0002ff 37.1px,#00faff 42.1px,#dfff20 55.1px,#e8ff17 58.1px,#e8ff17 92.1px)"></i><i style="left:189px;width:3px;background:linear-gradient(#0000d8 0.1px,#0000df 20.1px,#0005ff 33.1px,#000dff 36.1px,#00f2ff 41.1px,#21ffde 42.1px,#49ffb6 43.1px,#fffc00 57.1px,#fffc00 92.1px)"></i><i style="left:192px;width:2px;background:linear-gradient(#0000c3 0.1px,#0000c7 18.1px,#0005ff 32.1px,#000eff 34.1px,#0025ff 35.1px,#00fdff 40.1px,#4effb1 42.1px,#e3ff1c 57.1px,#e3ff1c 92.1px)"></i><i style="left:194px;width:3px;background:linear-gradient(#0000da 0.1px,#0000df 19.1px,#0005ff 25.1px,#003cff 34.1px,#0053ff 35.1px,#00f5ff 39.1px,#47ffb8 41.1px,#6fff90 42.1px,#89ff76 44.1px,#f1ff0e 59.1px,#f1ff0e 92.1px)"></i><i style="left:197px;width:2px;background:linear-gradient(#0000db 0.1px,#0000db 18.1px,#0006ff 23.1px,#0060ff 33.1px,#00f2ff 37.1px,#17ffe8 38.1px,#81ff7e 41.1px,#e5ff1a 59.1px,#e5ff1a 92.1px)"></i><i style="left:199px;width:3px;background:linear-gradient(#0000d4 0.1px,#0000d7 20.1px,#0007ff 24.1px,#0064ff 32.1px,#0098ff 34.1px,#00f9ff 37.1px,#73ff8c 41.1px,#d0ff2f 62.1px,#d0ff2f 92.1px)"></i><i style="left:202px;width:2px;background:linear-gradient(#0000fb 0.1px,#0000ff 20.1px,#00b0ff 31.1px,#05fffa 34.1px,#91ff6e 39.1px,#e9ff16 62.1px,#e9ff16 92.1px)"></i><i style="left:204px;width:2px;background:linear-gradient(#0022ff 0.1px,#0022ff 21.1px,#0058ff 24.1px,#04fffb 32.1px,#aeff51 39.1px,#fffe00 65.1px,#fffe00 92.1px)"></i><i style="left:206px;width:3px;background:linear-gradient(#0047ff 0.1px,#0049ff 22.1px,#00f3ff 30.1px,#09fff6 31.1px,#bcff43 39.1px,#cbff34 41.1px,#fffa00 63.1px,#fff300 80.1px,#fff300 92.1px)"></i><i style="left:209px;width:2px;background:linear-gradient(#0054ff 0.1px,#0056ff 24.1px,#05fffa 32.1px,#beff41 41.1px,#d0ff2f 46.1px,#ffff00 72.1px,#ffff00 92.1px)"></i><i style="left:211px;width:3px;background:linear-gradient(#0087ff 0.1px,#0087ff 24.1px,#00d8ff 28.1px,#06fff9 30.1px,#ddff22 41.1px,#ebff14 42.1px,#fff700 60.1px,#ffe500 77.1px,#ffe500 92.1px)"></i><i style="left:214px;width:2px;background:linear-gradient(#008dff 0.1px,#008dff 26.1px,#00faff 31.1px,#73ff8c 37.1px,#dbff24 43.1px,#eaff15 50.1px,#fff600 75.1px,#fff600 92.1px)"></i><i style="left:216px;width:3px;background:linear-gradient(#0081ff 0.1px,#0081ff 25.1px,#00a3ff 27.1px,#01fffe 31.1px,#51ffae 35.1px,#d6ff29 43.1px,#fbff04 80.1px,#fbff04 92.1px)"></i><i style="left:219px;width:2px;background:linear-gradient(#0079ff 0.1px,#0079ff 26.1px,#00feff 32.1px,#71ff8e 38.1px,#c9ff36 43.1px,#f4ff0b 80.1px,#f4ff0b 92.1px)"></i><i style="left:221px;width:3px;background:linear-gradient(#00a1ff 0.1px,#00a1ff 25.1px,#00adff 26.1px,#00f3ff 29.1px,#0bfff4 30.1px,#61ff9e 34.1px,#eeff11 42.1px,#faff05 46.1px,#ffe200 81.1px,#ffe200 92.1px)"></i><i style="left:224px;width:2px;background:linear-gradient(#007dff 0.1px,#007dff 26.1px,#04fffb 32.1px,#76ff89 38.1px,#ceff31 43.1px,#f7ff08 80.1px,#f7ff08 92.1px)"></i><i style="left:226px;width:3px;background:linear-gradient(#006fff 0.1px,#006fff 25.1px,#007bff 26.1px,#00f0ff 31.1px,#09fff6 32.1px,#beff41 42.1px,#eaff15 78.1px,#eaff15 92.1px)"></i><i style="left:229px;width:2px;background:linear-gradient(#0086ff 0.1px,#0086ff 26.1px,#00f5ff 31.1px,#25ffda 33.1px,#d9ff26 43.1px,#fffe00 79.1px,#fffe00 92.1px)"></i><i style="left:231px;width:3px;background:linear-gradient(#0078ff 0.1px,#0078ff 25.1px,#0083ff 26.1px,#00faff 31.1px,#c8ff37 42.1px,#f2ff0d 78.1px,#f2ff0d 92.1px)"></i><i style="left:234px;width:2px;background:linear-gradient(#0089ff 0.1px,#0089ff 26.1px,#00f9ff 31.1px,#bbff44 41.1px,#ddff22 43.1px,#fffb00 76.1px,#fffb00 92.1px)"></i><i style="left:236px;width:3px;background:linear-gradient(#0069ff 0.1px,#0069ff 25.1px,#0075ff 26.1px,#05fffa 32.1px,#bcff43 42.1px,#e3ff1c 78.1px,#e3ff1c 92.1px)"></i><i style="left:239px;width:2px;background:linear-gradient(#008dff 0.1px,#008dff 26.1px,#00feff 31.1px,#67ff98 36.1px,#e2ff1d 43.1px,#fff800 72.1px,#fff600 92.1px)"></i><i style="left:241px;width:3px;background:linear-gradient(#008eff 0.1px,#008eff 25.1px,#009aff 26.1px,#00faff 30.1px,#77ff88 36.1px,#e3ff1c 42.1px,#fff700 71.1px,#fff500 92.1px)"></i><i style="left:244px;width:2px;background:linear-gradient(#006cff 0.1px,#0070ff 26.1px,#00f7ff 32.1px,#43ffbc 36.1px,#c5ff3a 44.1px,#efff10 77.1px,#efff10 92.1px)"></i><i style="left:246px;width:3px;background:linear-gradient(#0050ff 0.1px,#0050ff 24.1px,#0086ff 27.1px,#04fffb 33.1px,#afff50 45.1px,#ddff22 74.1px,#ddff22 92.1px)"></i><i style="left:249px;width:2px;background:linear-gradient(#004eff 0.1px,#004eff 24.1px,#0069ff 26.1px,#06fff9 34.1px,#b1ff4e 47.1px,#e5ff1a 73.1px,#e5ff1a 92.1px)"></i><i style="left:251px;width:3px;background:linear-gradient(#004aff 0.1px,#004aff 23.1px,#00ffff 33.1px,#b4ff4b 48.1px,#ecff13 70.1px,#ecff13 92.1px)"></i><i style="left:254px;width:2px;background:linear-gradient(#001dff 0.1px,#001dff 23.1px,#00e5ff 35.1px,#08fff7 38.1px,#8bff74 50.1px,#c9ff36 69.1px,#c9ff36 92.1px)"></i><i style="left:256px;width:2px;background:linear-gradient(#001eff 0.1px,#001eff 22.1px,#00deff 34.1px,#00ffff 37.1px,#82ff7d 49.1px,#c4ff3b 67.1px,#c4ff3b 92.1px)"></i><i style="left:258px;width:3px;background:linear-gradient(#002eff 0.1px,#002eff 22.1px,#0053ff 25.1px,#00e9ff 35.1px,#00ffff 37.1px,#8aff75 50.1px,#ccff33 67.1px,#ccff33 92.1px)"></i><i style="left:261px;width:2px;background:linear-gradient(#0022ff 0.1px,#0022ff 21.1px,#00dfff 35.1px,#01fffe 38.1px,#73ff8c 49.1px,#b8ff47 65.1px,#b8ff47 92.1px)"></i><i style="left:263px;width:3px;background:linear-gradient(#0013ff 0.1px,#0016ff 22.1px,#00cdff 36.1px,#03fffc 41.1px,#5dffa2 50.1px,#a2ff5d 65.1px,#a2ff5d 92.1px)"></i><i style="left:266px;width:2px;background:linear-gradient(#0016ff 0.1px,#001aff 21.1px,#00dcff 37.1px,#08fff7 41.1px,#56ffa9 49.1px,#9dff62 64.1px,#9dff62 92.1px)"></i><i style="left:268px;width:3px;background:linear-gradient(#0011ff 0.1px,#0014ff 21.1px,#02fffd 44.1px,#40ffbf 51.1px,#86ff79 63.1px,#86ff79 92.1px)"></i><i style="left:271px;width:2px;background:linear-gradient(#0005ff 0.1px,#0006ff 19.1px,#00baff 40.1px,#05fffa 48.1px,#64ff9b 60.1px,#64ff9b 92.1px)"></i><i style="left:273px;width:3px;background:linear-gradient(#0007ff 0.1px,#0009ff 19.1px,#0070ff 35.1px,#02fffd 51.1px,#4fffb0 58.1px,#4fffb0 92.1px)"></i><i style="left:276px;width:2px;background:linear-gradient(#0000de 0.1px,#0000e3 18.1px,#0008ff 26.1px,#0033ff 34.1px,#00a9ff 48.1px,#00feff 54.1px,#11ffee 56.1px,#11ffee 92.1px)"></i><i style="left:278px;width:3px;background:linear-gradient(#0007ff 0.1px,#000aff 18.1px,#005aff 34.1px,#00d0ff 48.1px,#07fff8 52.1px,#3affc5 56.1px,#3affc5 92.1px)"></i><i style="left:281px;width:2px;background:linear-gradient(#0012ff 0.1px,#0015ff 17.1px,#007aff 33.1px,#01fffe 48.1px,#56ffa9 56.1px,#56ffa9 92.1px)"></i><i style="left:283px;width:3px;background:linear-gradient(#000fff 0.1px,#0014ff 18.1px,#00a3ff 36.1px,#00feff 46.1px,#64ff9b 58.1px,#64ff9b 92.1px)"></i><i style="left:286px;width:2px;background:linear-gradient(#0000fe 0.1px,#0003ff 17.1px,#03fffc 44.1px,#64ff9b 58.1px,#64ff9b 92.1px)"></i><i style="left:288px;width:3px;background:linear-gradient(#001eff 0.1px,#001eff 17.1px,#03fffc 38.1px,#3bffc4 44.1px,#94ff6b 60.1px,#94ff6b 92.1px)"></i><i style="left:291px;width:2px;background:linear-gradient(#001fff 0.1px,#0025ff 17.1px,#00f5ff 35.1px,#0bfff4 37.1px,#46ffb9 43.1px,#9fff60 60.1px,#9fff60 92.1px)"></i><i style="left:293px;width:3px;background:linear-gradient(#0006ff 0.1px,#0006ff 17.1px,#00ebff 37.1px,#02fffd 39.1px,#32ffcd 44.1px,#8eff71 61.1px,#8eff71 92.1px)"></i><i style="left:296px;width:2px;background:linear-gradient(#001aff 0.1px,#0020ff 17.1px,#00f4ff 35.1px,#0afff5 37.1px,#4effb1 44.1px,#a9ff56 61.1px,#a9ff56 92.1px)"></i><i style="left:298px;width:3px;background:linear-gradient(#001bff 0.1px,#001bff 17.1px,#00f9ff 36.1px,#55ffaa 45.1px,#b2ff4d 62.1px,#b2ff4d 92.1px)"></i><i style="left:301px;width:2px;background:linear-gradient(#0019ff 0.1px,#0020ff 17.1px,#00f4ff 35.1px,#0bfff4 37.1px,#51ffae 44.1px,#b1ff4e 61.1px,#b1ff4e 92.1px)"></i><i style="left:303px;width:2px;background:linear-gradient(#0037ff 0.1px,#0037ff 17.1px,#00fdff 34.1px,#6dff92 45.1px,#ccff33 62.1px,#ccff33 92.1px)"></i><i style="left:305px;width:3px;background:linear-gradient(#003aff 0.1px,#0040ff 17.1px,#00fbff 33.1px,#6bff94 44.1px,#ccff33 62.1px,#ccff33 92.1px)"></i><i style="left:308px;width:2px;background:linear-gradient(#0023ff 0.1px,#0023ff 17.1px,#00f9ff 36.1px,#59ffa6 46.1px,#b3ff4c 63.1px,#b3ff4c 92.1px)"></i><i style="left:310px;width:3px;background:linear-gradient(#002eff 0.1px,#0033ff 17.1px,#00ffff 35.1px,#5fffa0 45.1px,#bbff44 62.1px,#bbff44 92.1px)"></i><i style="left:313px;width:2px;background:linear-gradient(#0038ff 0.1px,#0038ff 17.1px,#00ffff 35.1px,#68ff97 46.1px,#c3ff3c 63.1px,#c3ff3c 92.1px)"></i><i style="left:315px;width:3px;background:linear-gradient(#0030ff 0.1px,#0036ff 17.1px,#00fdff 35.1px,#5cffa3 45.1px,#b8ff47 63.1px,#b8ff47 92.1px)"></i><i style="left:318px;width:2px;background:linear-gradient(#0046ff 0.1px,#0046ff 17.1px,#00feff 34.1px,#70ff8f 46.1px,#cbff34 64.1px,#cbff34 92.1px)"></i><i style="left:320px;width:3px;background:linear-gradient(#0045ff 0.1px,#0046ff 17.1px,#00faff 33.1px,#6eff91 45.1px,#c4ff3b 64.1px,#c4ff3b 92.1px)"></i><i style="left:323px;width:2px;background:linear-gradient(#0051ff 0.1px,#0051ff 18.1px,#00feff 33.1px,#7bff84 46.1px,#c8ff37 66.1px,#c8ff37 92.1px)"></i><i style="left:325px;width:3px;background:linear-gradient(#0041ff 0.1px,#0041ff 18.1px,#00ffff 34.1px,#6fff90 46.1px,#afff50 66.1px,#afff50 92.1px)"></i><i style="left:328px;width:2px;background:linear-gradient(#0075ff 0.1px,#0079ff 20.1px,#00fbff 30.1px,#a4ff5b 47.1px,#dbff24 68.1px,#dbff24 92.1px)"></i><i style="left:330px;width:3px;background:linear-gradient(#004eff 0.1px,#0054ff 20.1px,#00ffff 33.1px,#7cff83 46.1px,#abff54 69.1px,#abff54 92.1px)"></i><i style="left:333px;width:2px;background:linear-gradient(#0079ff 0.1px,#0079ff 21.1px,#00f8ff 30.1px,#49ffb6 37.1px,#a9ff56 47.1px,#cfff30 71.1px,#cfff30 92.1px)"></i><i style="left:335px;width:3px;background:linear-gradient(#00a0ff 0.1px,#00a0ff 21.1px,#03fffc 28.1px,#53ffac 34.1px,#c8ff37 47.1px,#e7ff18 73.1px,#e7ff18 92.1px)"></i><i style="left:338px;width:2px;background:linear-gradient(#00aeff 0.1px,#00aeff 23.1px,#02fffd 29.1px,#56ffa9 35.1px,#c9ff36 49.1px,#e2ff1d 76.1px,#e2ff1d 92.1px)"></i><i style="left:340px;width:3px;background:linear-gradient(#00beff 0.1px,#00bfff 24.1px,#00fbff 28.1px,#60ff9f 35.1px,#caff35 49.1px,#e0ff1f 77.1px,#e0ff1f 92.1px)"></i><i style="left:343px;width:2px;background:linear-gradient(#00dfff 0.1px,#00dfff 26.1px,#00fdff 28.1px,#7eff81 37.1px,#dcff23 50.1px,#efff10 82.1px,#efff10 92.1px)"></i><i style="left:345px;width:3px;background:linear-gradient(#00f0ff 0.1px,#00f0ff 26.1px,#07fff8 28.1px,#87ff78 37.1px,#deff21 50.1px,#edff12 86.1px,#edff12 92.1px)"></i><i style="left:348px;width:2px;background:linear-gradient(#32ffcd 0.1px,#37ffc8 29.1px,#bdff42 38.1px,#fffa00 49.1px,#ffed00 54.1px,#ffe200 92.1px)"></i><i style="left:350px;width:3px;background:linear-gradient(#44ffbb 0.1px,#47ffb8 29.1px,#c1ff3e 39.1px,#ffff00 47.1px,#fff600 54.1px,#ffeb00 92.1px)"></i><i style="left:353px;width:2px;background:linear-gradient(#4effb1 0.1px,#4effb1 30.1px,#c3ff3c 42.1px,#f5ff0a 47.1px,#edff12 60.1px,#fcff03 85.1px,#fcff03 92.1px)"></i><i style="left:355px;width:2px;background:linear-gradient(#94ff6b 0.1px,#96ff69 30.1px,#d9ff26 40.1px,#fffa00 44.1px,#ffe300 47.1px,#fff200 56.1px,#ffde00 82.1px,#ffde00 92.1px)"></i><i style="left:357px;width:3px;background:linear-gradient(#90ff6f 0.1px,#94ff6b 32.1px,#caff35 43.1px,#e0ff1f 48.1px,#e7ff18 60.1px,#fbff04 82.1px,#fbff04 92.1px)"></i><i style="left:360px;width:2px;background:linear-gradient(#bcff43 0.1px,#c1ff3e 33.1px,#eaff15 53.1px,#fff900 76.1px,#fff900 92.1px)"></i><i style="left:362px;width:3px;background:linear-gradient(#baff45 0.1px,#c1ff3e 39.1px,#e1ff1e 84.1px,#e1ff1e 92.1px)"></i><i style="left:365px;width:2px;background:linear-gradient(#e6ff19 0.1px,#f4ff0b 68.1px,#f7ff08 92.1px)"></i><i style="left:367px;width:3px;background:linear-gradient(#f5ff0a 0.1px,#fbff04 32.1px,#fffc00 40.1px,#fbff04 63.1px,#fdff02 92.1px)"></i><i style="left:370px;width:2px;background:linear-gradient(#f1ff0e 0.1px,#f6ff09 29.1px,#fff800 32.1px,#ffd700 36.1px,#ffde00 39.1px,#feff01 43.1px,#f1ff0e 51.1px,#f2ff0d 92.1px)"></i><i style="left:372px;width:3px;background:linear-gradient(#e8ff17 0.1px,#efff10 30.1px,#fff500 34.1px,#ffe800 37.1px,#f7ff08 42.1px,#e5ff1a 48.1px,#e0ff1f 92.1px)"></i><i style="left:375px;width:2px;background:linear-gradient(#fff700 0.1px,#ffef00 35.1px,#fdff02 62.1px,#f7ff08 92.1px)"></i><i style="left:377px;width:3px;background:linear-gradient(#ecff13 0.1px,#e3ff1c 49.1px,#d4ff2b 92.1px)"></i><i style="left:380px;width:2px;background:linear-gradient(#ffea00 0.1px,#fff200 44.1px,#f4ff0b 78.1px,#f4ff0b 92.1px)"></i><i style="left:382px;width:3px;background:linear-gradient(#fffd00 0.1px,#f8ff07 44.1px,#d9ff26 87.1px,#d9ff26 92.1px)"></i><i style="left:385px;width:2px;background:linear-gradient(#fff700 0.1px,#ffff00 40.1px,#d7ff28 85.1px,#d7ff28 92.1px)"></i><i style="left:387px;width:3px;background:linear-gradient(#ffed00 0.1px,#fff300 39.1px,#f4ff0b 58.1px,#d9ff26 86.1px,#d9ff26 92.1px)"></i><i style="left:390px;width:2px;background:linear-gradient(#ffea00 0.1px,#fff000 38.1px,#f5ff0a 56.1px,#d5ff2a 85.1px,#d5ff2a 92.1px)"></i><i style="left:392px;width:3px;background:linear-gradient(#ffd500 0.1px,#ffdc00 39.1px,#f8ff07 69.1px,#e7ff18 87.1px,#e7ff18 92.1px)"></i><i style="left:395px;width:2px;background:linear-gradient(#fff200 0.1px,#fff800 38.1px,#c7ff38 85.1px,#c7ff38 92.1px)"></i><i style="left:397px;width:3px;background:linear-gradient(#f0ff0f 0.1px,#e9ff16 39.1px,#a8ff57 86.1px,#a8ff57 92.1px)"></i><i style="left:400px;width:2px;background:linear-gradient(#fff400 0.1px,#fffa00 38.1px,#beff41 85.1px,#beff41 92.1px)"></i><i style="left:402px;width:2px;background:linear-gradient(#f4ff0b 0.1px,#fcff03 34.1px,#a5ff5a 86.1px,#a5ff5a 92.1px)"></i><i style="left:404px;width:3px;background:linear-gradient(#faff05 0.1px,#fffa00 31.1px,#ffde00 36.1px,#fff200 40.1px,#f4ff0b 43.1px,#d4ff2b 56.1px,#a7ff58 86.1px,#a7ff58 92.1px)"></i><i style="left:407px;width:2px;background:linear-gradient(#f8ff07 0.1px,#fffc00 31.1px,#ffde00 36.1px,#fff100 40.1px,#f3ff0c 43.1px,#d4ff2b 55.1px,#a2ff5d 87.1px,#a2ff5d 92.1px)"></i><i style="left:409px;width:3px;background:linear-gradient(#fdff02 0.1px,#fff800 34.1px,#f7ff08 41.1px,#a5ff5a 86.1px,#a5ff5a 92.1px)"></i><i style="left:412px;width:2px;background:linear-gradient(#fff200 0.1px,#fff700 38.1px,#e7ff18 55.1px,#b0ff4f 87.1px,#b0ff4f 92.1px)"></i><i style="left:414px;width:3px;background:linear-gradient(#f8ff07 0.1px,#f2ff0d 38.1px,#9bff64 87.1px,#9bff64 92.1px)"></i><i style="left:417px;width:2px;background:linear-gradient(#edff12 0.1px,#e7ff18 39.1px,#8eff71 88.1px,#8eff71 92.1px)"></i><i style="left:419px;width:3px;background:linear-gradient(#e4ff1b 0.1px,#dfff20 38.1px,#84ff7b 88.1px,#84ff7b 92.1px)"></i><i style="left:422px;width:2px;background:linear-gradient(#e2ff1d 0.1px,#ddff22 39.1px,#80ff7f 90.1px,#80ff7f 92.1px)"></i><i style="left:424px;width:3px;background:linear-gradient(#e4ff1b 0.1px,#deff21 39.1px,#81ff7e 89.1px,#81ff7e 92.1px)"></i><i style="left:427px;width:2px;background:linear-gradient(#ebff14 0.1px,#e5ff1a 40.1px,#86ff79 91.1px,#86ff79 92.1px)"></i><i style="left:429px;width:3px;background:linear-gradient(#e6ff19 0.1px,#e2ff1d 39.1px,#81ff7e 90.1px,#81ff7e 92.1px)"></i><i style="left:432px;width:2px;background:linear-gradient(#ecff13 0.1px,#e7ff18 41.1px,#8bff74 90.1px,#8bff74 92.1px)"></i><i style="left:434px;width:3px;background:linear-gradient(#beff41 0.1px,#b8ff47 41.1px,#60ff9f 89.1px,#60ff9f 92.1px)"></i><i style="left:437px;width:2px;background:linear-gradient(#e4ff1b 0.1px,#dfff20 43.1px,#8aff75 89.1px,#8aff75 92.1px)"></i><i style="left:439px;width:3px;background:linear-gradient(#dfff20 0.1px,#daff25 43.1px,#89ff76 88.1px,#89ff76 92.1px)"></i><i style="left:442px;width:2px;background:linear-gradient(#b0ff4f 0.1px,#a9ff56 45.1px,#5dffa2 88.1px,#5dffa2 92.1px)"></i><i style="left:444px;width:3px;background:linear-gradient(#dfff20 0.1px,#d9ff26 45.1px,#90ff6f 87.1px,#90ff6f 92.1px)"></i><i style="left:447px;width:2px;background:linear-gradient(#caff35 0.1px,#c4ff3b 47.1px,#7fff80 87.1px,#7fff80 92.1px)"></i><i style="left:449px;width:3px;background:linear-gradient(#b1ff4e 0.1px,#abff54 47.1px,#6aff95 86.1px,#6aff95 92.1px)"></i><i style="left:452px;width:2px;background:linear-gradient(#c8ff37 0.1px,#c2ff3d 48.1px,#84ff7b 85.1px,#84ff7b 92.1px)"></i><i style="left:454px;width:2px;background:linear-gradient(#aeff51 0.1px,#a8ff57 48.1px,#6dff92 84.1px,#6dff92 92.1px)"></i><i style="left:456px;width:3px;background:linear-gradient(#b9ff46 0.1px,#b5ff4a 49.1px,#7cff83 84.1px,#7cff83 92.1px)"></i><i style="left:459px;width:2px;background:linear-gradient(#c1ff3e 0.1px,#bcff43 49.1px,#88ff77 82.1px,#88ff77 92.1px)"></i><i style="left:461px;width:3px;background:linear-gradient(#c6ff39 0.1px,#c0ff3f 51.1px,#90ff6f 82.1px,#90ff6f 92.1px)"></i><i style="left:464px;width:2px;background:linear-gradient(#c2ff3d 0.1px,#bcff43 51.1px,#8fff70 80.1px,#8fff70 92.1px)"></i><i style="left:466px;width:3px;background:linear-gradient(#c4ff3b 0.1px,#beff41 49.1px,#87ff78 80.1px,#87ff78 92.1px)"></i><i style="left:469px;width:2px;background:linear-gradient(#baff45 0.1px,#b4ff4b 46.1px,#73ff8c 78.1px,#73ff8c 92.1px)"></i><i style="left:471px;width:3px;background:linear-gradient(#e3ff1c 0.1px,#deff21 44.1px,#93ff6c 78.1px,#93ff6c 92.1px)"></i><i style="left:474px;width:2px;background:linear-gradient(#fff900 0.1px,#fbff04 43.1px,#abff54 77.1px,#abff54 92.1px)"></i><i style="left:476px;width:3px;background:linear-gradient(#ffde00 0.1px,#ffe400 40.1px,#faff05 52.1px,#bcff43 77.1px,#bcff43 92.1px)"></i><i style="left:479px;width:2px;background:linear-gradient(#ffe400 0.1px,#ffe900 39.1px,#f9ff06 50.1px,#b5ff4a 76.1px,#b5ff4a 92.1px)"></i><i style="left:481px;width:3px;background:linear-gradient(#fff500 0.1px,#ffee00 40.1px,#ffe300 45.1px,#fdff02 49.1px,#daff25 55.1px,#a4ff5b 77.1px,#a4ff5b 92.1px)"></i><i style="left:484px;width:2px;background:linear-gradient(#ffeb00 0.1px,#ffe700 39.1px,#ffd400 45.1px,#ffff00 50.1px,#dfff20 56.1px,#b0ff4f 76.1px,#b0ff4f 92.1px)"></i><i style="left:486px;width:3px;background:linear-gradient(#fff600 0.1px,#fffa00 44.1px,#ebff14 50.1px,#a6ff59 77.1px,#a6ff59 92.1px)"></i><i style="left:489px;width:2px;background:linear-gradient(#ffe700 0.1px,#ffed00 40.1px,#f7ff08 49.1px,#b7ff48 76.1px,#b7ff48 92.1px)"></i><i style="left:491px;width:3px;background:linear-gradient(#fdff02 0.1px,#fffb00 39.1px,#fff200 43.1px,#f7ff08 46.1px,#d7ff28 52.1px,#9eff61 77.1px,#9eff61 92.1px)"></i><i style="left:494px;width:2px;background:linear-gradient(#ffe700 0.1px,#ffe100 39.1px,#ffd300 43.1px,#fffe00 48.1px,#b8ff47 75.1px,#b8ff47 92.1px)"></i><i style="left:496px;width:3px;background:linear-gradient(#ffda00 0.1px,#ffde00 43.1px,#feff01 52.1px,#c6ff39 77.1px,#c6ff39 92.1px)"></i><i style="left:499px;width:2px;background:linear-gradient(#fff600 0.1px,#fffc00 38.1px,#acff53 76.1px,#acff53 92.1px)"></i></div>
<svg width="550" height="536" viewBox="0 0 550 536" style="font-family:'Liberation Sans',Arial,sans-serif">
<defs><linearGradient id="cbg1" x2="0" y2="1"><stop offset="0.0000" stop-color="#800000"/><stop offset="0.0625" stop-color="#bf0000"/><stop offset="0.1250" stop-color="#ff0000"/><stop offset="0.1875" stop-color="#ff4000"/><stop offset="0.2500" stop-color="#ff8000"/><stop offset="0.3125" stop-color="#ffbf00"/><stop offset="0.3750" stop-color="#ffff00"/><stop offset="0.4375" stop-color="#bfff40"/><stop offset="0.5000" stop-color="#80ff80"/><stop offset="0.5625" stop-color="#40ffbf"/><stop offset="0.6250" stop-color="#00ffff"/><stop offset="0.6875" stop-color="#00bfff"/><stop offset="0.7500" stop-color="#0080ff"/><stop offset="0.8125" stop-color="#0040ff"/><stop offset="0.8750" stop-color="#0000ff"/><stop offset="0.9375" stop-color="#0000bf"/><stop offset="1.0000" stop-color="#000080"/></linearGradient><linearGradient id="pale" x2="0" y2="1"><stop offset="0" stop-color="#fff" stop-opacity=".55"/><stop offset="1" stop-color="#fff" stop-opacity="0"/></linearGradient><linearGradient id="paleh"><stop offset="0" stop-color="#fff" stop-opacity="0"/><stop offset=".08" stop-color="#fff" stop-opacity="1"/></linearGradient><mask id="pm"><rect x="330" y="150" width="175" height="40" fill="url(#paleh)"/></mask><linearGradient id="cbg2" x2="0" y2="1"><stop offset="0.0000" stop-color="#800000"/><stop offset="0.0625" stop-color="#bf0000"/><stop offset="0.1250" stop-color="#ff0000"/><stop offset="0.1875" stop-color="#ff4000"/><stop offset="0.2500" stop-color="#ff8000"/><stop offset="0.3125" stop-color="#ffbf00"/><stop offset="0.3750" stop-color="#ffff00"/><stop offset="0.4375" stop-color="#bfff40"/><stop offset="0.5000" stop-color="#80ff80"/><stop offset="0.5625" stop-color="#40ffbf"/><stop offset="0.6250" stop-color="#00ffff"/><stop offset="0.6875" stop-color="#00bfff"/><stop offset="0.7500" stop-color="#0080ff"/><stop offset="0.8125" stop-color="#0040ff"/><stop offset="0.8750" stop-color="#0000ff"/><stop offset="0.9375" stop-color="#0000bf"/><stop offset="1.0000" stop-color="#000080"/></linearGradient><linearGradient id="cbg3" x2="0" y2="1"><stop offset="0.0000" stop-color="#800000"/><stop offset="0.0625" stop-color="#bf0000"/><stop offset="0.1250" stop-color="#ff0000"/><stop offset="0.1875" stop-color="#ff4000"/><stop offset="0.2500" stop-color="#ff8000"/><stop offset="0.3125" stop-color="#ffbf00"/><stop offset="0.3750" stop-color="#ffff00"/><stop offset="0.4375" stop-color="#bfff40"/><stop offset="0.5000" stop-color="#80ff80"/><stop offset="0.5625" stop-color="#40ffbf"/><stop offset="0.6250" stop-color="#00ffff"/><stop offset="0.6875" stop-color="#00bfff"/><stop offset="0.7500" stop-color="#0080ff"/><stop offset="0.8125" stop-color="#0040ff"/><stop offset="0.8750" stop-color="#0000ff"/><stop offset="0.9375" stop-color="#0000bf"/><stop offset="1.0000" stop-color="#000080"/></linearGradient><linearGradient id="cbg4" x2="0" y2="1"><stop offset="0.0000" stop-color="#800000"/><stop offset="0.0625" stop-color="#bf0000"/><stop offset="0.1250" stop-color="#ff0000"/><stop offset="0.1875" stop-color="#ff4000"/><stop offset="0.2500" stop-color="#ff8000"/><stop offset="0.3125" stop-color="#ffbf00"/><stop offset="0.3750" stop-color="#ffff00"/><stop offset="0.4375" stop-color="#bfff40"/><stop offset="0.5000" stop-color="#80ff80"/><stop offset="0.5625" stop-color="#40ffbf"/><stop offset="0.6250" stop-color="#00ffff"/><stop offset="0.6875" stop-color="#00bfff"/><stop offset="0.7500" stop-color="#0080ff"/><stop offset="0.8125" stop-color="#0040ff"/><stop offset="0.8750" stop-color="#0000ff"/><stop offset="0.9375" stop-color="#0000bf"/><stop offset="1.0000" stop-color="#000080"/></linearGradient></defs>
<polyline fill="none" stroke="#2a5a66" stroke-width="0.9" points="58.0,59.1 58.8,58.5 59.6,58.4 60.4,58.3 61.2,58.0 62.0,58.2 62.8,58.1 63.6,58.7 64.4,58.6 65.2,58.6 66.0,58.0 66.8,58.0 67.6,58.2 68.4,58.3 69.2,58.2 70.0,58.0 70.8,57.8 71.6,57.9 72.4,57.8 73.2,57.8 74.0,57.6 74.8,57.4 75.6,57.7 76.4,58.2 77.2,58.5 78.0,58.6 78.8,58.4 79.6,57.9 80.4,57.8 81.2,58.5 82.0,59.2 82.8,58.8 83.6,57.4 84.4,57.0 85.2,57.7 86.0,58.6 86.8,59.0 87.6,58.1 88.4,57.3 89.2,56.5 90.0,57.1 90.8,58.2 91.6,58.7 92.4,57.8 93.2,56.6 94.0,56.5 94.8,57.5 95.6,58.7 96.4,59.0 97.2,58.3 98.0,57.7 98.8,57.3 99.6,57.8 100.4,58.2 101.2,58.5 102.0,57.8 102.8,56.9 103.6,56.6 104.4,57.4 105.2,59.2 106.0,59.2 106.8,58.6 107.6,57.0 108.4,57.0 109.2,57.6 110.0,58.5 110.8,58.6 111.6,57.6 112.4,56.5 113.2,56.4 114.0,57.4 114.8,58.3 115.6,58.5 116.4,57.8 117.2,56.9 118.0,56.7 118.8,57.5 119.6,58.3 120.4,58.3 121.2,57.1 122.0,56.4 122.8,56.8 123.6,57.7 124.4,57.8 125.2,57.2 126.0,56.5 126.8,56.3 127.6,56.7 128.4,56.6 129.2,57.1 130.0,56.7 130.8,57.0 131.6,56.3 132.4,56.5 133.2,56.7 134.0,57.1 134.8,57.3 135.6,57.3 136.4,57.0 137.2,56.6 138.0,56.1 138.8,56.1 139.6,56.1 140.4,55.7 141.2,55.3 142.0,55.4 142.8,56.3 143.6,57.0 144.4,56.8 145.2,56.0 146.0,56.0 146.8,56.4 147.6,56.7 148.4,56.9 149.2,56.8 150.0,56.6 150.8,56.2 151.6,56.4 152.4,56.9 153.2,56.8 154.0,56.6 154.8,56.1 155.6,55.8 156.4,55.8 157.2,55.8 158.0,56.3 158.8,56.3 159.6,56.4 160.4,56.3 161.2,56.2 162.0,56.4 162.8,56.5 163.6,56.9 164.4,56.6 165.2,56.3 166.0,56.3 166.8,56.9 167.6,57.1 168.4,56.5 169.2,56.1 170.0,56.0 170.8,56.5 171.6,56.5 172.4,56.5 173.2,56.3 174.0,55.8 174.8,55.9 175.6,56.0 176.4,56.4 177.2,56.2 178.0,56.3 178.8,56.3 179.6,56.6 180.4,56.4 181.2,56.1 182.0,55.7 182.8,55.8 183.6,56.0 184.4,55.9 185.2,56.0 186.0,55.7 186.8,55.8 187.6,55.3 188.4,55.7 189.2,55.3 190.0,55.1 190.8,54.5 191.6,54.7 192.4,54.3 193.2,54.6 194.0,54.5 194.8,55.0 195.6,55.5 196.4,55.7 197.2,55.5 198.0,54.9 198.8,55.0 199.6,55.5 200.4,55.4 201.2,55.2 202.0,54.7 202.8,54.6 203.6,54.4 204.4,54.8 205.2,55.1 206.0,54.7 206.8,54.1 207.6,53.7 208.4,54.2 209.2,54.6 210.0,54.9 210.8,54.6 211.6,54.1 212.4,53.8 213.2,54.1 214.0,54.3 214.8,54.3 215.6,53.7 216.4,53.5 217.2,53.6 218.0,53.8 218.8,54.0 219.6,53.8 220.4,53.4 221.2,53.1 222.0,52.4 222.8,52.8 223.6,53.1 224.4,54.0 225.2,53.9 226.0,53.8 226.8,53.5 227.6,53.8 228.4,54.3 229.2,54.4 230.0,54.2 230.8,54.2 231.6,54.4 232.4,54.4 233.2,54.0 234.0,54.4 234.8,54.3 235.6,54.1 236.4,54.0 237.2,54.6 238.0,55.3 238.8,55.3 239.6,55.1 240.4,55.0 241.2,55.0 242.0,55.3 242.8,55.6 243.6,55.8 244.4,55.6 245.2,55.5 246.0,55.0 246.8,55.4 247.6,55.9 248.4,56.4 249.2,56.3 250.0,55.8 250.8,56.0 251.6,56.3 252.4,57.0 253.2,57.1 254.0,57.2 254.8,57.2 255.6,57.6 256.4,57.7 257.2,57.5 258.0,57.2 258.8,57.2 259.6,57.4 260.4,57.4 261.2,57.8 262.0,57.6 262.8,58.2 263.6,58.4 264.4,58.1 265.2,58.0 266.0,58.1 266.8,58.9 267.6,59.1 268.4,59.0 269.2,59.0 270.0,59.1 270.8,59.7 271.6,60.2 272.4,59.8 273.2,59.7 274.0,59.4 274.8,59.8 275.6,59.9 276.4,60.3 277.2,60.9 278.0,61.1 278.8,60.9 279.6,60.8 280.4,61.2 281.2,61.6 282.0,61.7 282.8,60.9 283.6,60.7 284.4,60.6 285.2,60.9 286.0,60.7 286.8,59.9 287.6,59.6 288.4,59.4 289.2,59.7 290.0,59.4 290.8,58.9 291.6,58.2 292.4,57.7 293.2,57.5 294.0,57.6 294.8,57.5 295.6,57.2 296.4,56.4 297.2,56.5 298.0,55.9 298.8,56.3 299.6,55.8 300.4,56.1 301.2,55.7 302.0,55.2 302.8,55.1 303.6,54.7 304.4,55.0 305.2,55.1 306.0,55.2 306.8,54.7 307.6,54.1 308.4,54.0 309.2,54.8 310.0,55.0 310.8,54.9 311.6,54.3 312.4,54.4 313.2,54.4 314.0,54.5 314.8,54.1 315.6,53.9 316.4,53.3 317.2,53.5 318.0,53.8 318.8,54.3 319.6,54.2 320.4,53.7 321.2,53.4 322.0,53.6 322.8,53.8 323.6,54.1 324.4,53.9 325.2,54.0 326.0,53.9 326.8,54.1 327.6,54.1 328.4,54.5 329.2,54.5 330.0,54.6 330.8,54.6 331.6,54.8 332.4,54.8 333.2,54.7 334.0,54.4 334.8,54.5 335.6,54.6 336.4,54.8 337.2,54.7 338.0,54.8 338.8,55.2 339.6,55.2 340.4,54.5 341.2,54.3 342.0,54.2 342.8,54.8 343.6,54.4 344.4,54.1 345.2,53.8 346.0,54.1 346.8,54.3 347.6,54.2 348.4,54.0 349.2,53.8 350.0,53.8 350.8,53.9 351.6,53.9 352.4,53.8 353.2,53.7 354.0,53.9 354.8,54.3 355.6,54.3 356.4,54.7 357.2,54.6 358.0,54.8 358.8,54.6 359.6,54.6 360.4,54.3 361.2,54.0 362.0,54.2 362.8,54.0 363.6,54.0 364.4,54.0 365.2,54.3 366.0,54.0 366.8,53.5 367.6,53.5 368.4,53.5 369.2,53.8 370.0,54.0 370.8,54.0 371.6,53.8 372.4,52.9 373.2,52.7 374.0,52.1 374.8,52.2 375.6,52.1 376.4,52.2 377.2,52.1 378.0,52.2 378.8,52.8 379.6,53.4 380.4,53.5 381.2,53.6 382.0,53.3 382.8,53.3 383.6,53.0 384.4,53.0 385.2,53.1 386.0,53.6 386.8,54.0 387.6,54.1 388.4,53.2 389.2,52.8 390.0,52.5 390.8,52.7 391.6,52.2 392.4,51.8 393.2,51.7 394.0,51.7 394.8,51.6 395.6,51.2 396.4,51.0 397.2,50.5 398.0,50.0 398.8,49.7 399.6,50.1 400.4,50.5 401.2,50.4 402.0,49.6 402.8,49.2 403.6,49.4 404.4,49.5 405.2,49.1 406.0,48.6 406.8,48.2 407.6,48.8 408.4,48.9 409.2,48.9 410.0,48.1 410.8,47.6 411.6,47.3 412.4,47.6 413.2,47.9 414.0,48.1 414.8,48.1 415.6,47.7 416.4,47.4 417.2,47.3 418.0,47.2 418.8,47.6 419.6,47.6 420.4,47.4 421.2,47.2 422.0,47.0 422.8,47.4 423.6,47.5 424.4,47.3 425.2,46.5 426.0,46.0 426.8,45.6 427.6,46.7 428.4,47.3 429.2,47.5 430.0,46.5 430.8,46.3 431.6,46.4 432.4,46.7 433.2,47.0 434.0,46.9 434.8,46.6 435.6,46.1 436.4,46.6 437.2,47.1 438.0,47.4 438.8,47.3 439.6,46.7 440.4,46.7 441.2,46.6 442.0,47.2 442.8,46.7 443.6,46.6 444.4,46.1 445.2,46.6 446.0,46.8 446.8,47.5 447.6,47.8 448.4,47.8 449.2,47.4 450.0,47.5 450.8,47.4 451.6,47.7 452.4,47.4 453.2,47.7 454.0,47.3 454.8,47.6 455.6,47.1 456.4,47.9 457.2,47.6 458.0,48.2 458.8,48.0 459.6,48.4 460.4,48.4 461.2,48.3 462.0,48.4 462.8,48.5 463.6,49.0 464.4,49.1 465.2,49.5 466.0,49.5 466.8,49.7 467.6,49.8 468.4,50.1 469.2,50.3 470.0,50.3 470.8,50.1 471.6,50.2 472.4,50.4 473.2,50.7 474.0,50.5 474.8,50.4 475.6,50.2 476.4,50.5 477.2,50.4 478.0,50.8 478.8,51.1 479.6,51.2 480.4,51.2 481.2,50.8 482.0,51.0 482.8,50.8 483.6,51.1 484.4,51.2 485.2,51.5 486.0,51.5 486.8,51.4 487.6,51.4 488.4,51.5 489.2,51.6 490.0,51.6 490.8,51.7 491.6,51.5 492.4,51.3 493.2,51.3 494.0,51.8 494.8,52.5 495.6,52.3 496.4,51.7 497.2,51.0 498.0,51.3 498.8,52.2 499.6,52.7 500.4,52.4"/><path d="M58.0 19.0H501.0" stroke="#262626" stroke-width="1.1" opacity="0.75"/><path d="M53.0 19.0H58.0M501.0 19.0H506.0" stroke="#262626" stroke-width="1.3"/><text transform="translate(49.60 22.90) scale(1.130 1)" font-size="9.20" text-anchor="end" fill="#333333" stroke="#333333" stroke-width="0.32">0</text><path d="M53.0 38.0H58.0M501.0 38.0H506.0" stroke="#262626" stroke-width="1.3"/><text transform="translate(49.60 41.90) scale(1.130 1)" font-size="9.20" text-anchor="end" fill="#333333" stroke="#333333" stroke-width="0.32">100</text><path d="M53.0 57.0H58.0M501.0 57.0H506.0" stroke="#262626" stroke-width="1.3"/><text transform="translate(49.60 60.90) scale(1.130 1)" font-size="9.20" text-anchor="end" fill="#333333" stroke="#333333" stroke-width="0.32">200</text><path d="M53.0 76.0H58.0M501.0 76.0H506.0" stroke="#262626" stroke-width="1.3"/><text transform="translate(49.60 79.90) scale(1.130 1)" font-size="9.20" text-anchor="end" fill="#333333" stroke="#333333" stroke-width="0.32">300</text><path d="M53.0 95.0H58.0M501.0 95.0H506.0" stroke="#262626" stroke-width="1.3"/><text transform="translate(49.60 98.90) scale(1.130 1)" font-size="9.20" text-anchor="end" fill="#333333" stroke="#333333" stroke-width="0.32">400</text><path d="M53.0 114.0H58.0M501.0 114.0H506.0" stroke="#262626" stroke-width="1.3"/><text transform="translate(49.60 117.90) scale(1.130 1)" font-size="9.20" text-anchor="end" fill="#333333" stroke="#333333" stroke-width="0.32">500</text><path d="M80.8 14.0V19.0M80.8 114.0V119.0" stroke="#262626" stroke-width="1.3"/><text transform="translate(80.80 130.80) scale(1.130 1)" font-size="9.20" text-anchor="middle" fill="#333333" stroke="#333333" stroke-width="0.32">21/12/20</text><path d="M128.3 14.0V19.0M128.3 114.0V119.0" stroke="#262626" stroke-width="1.3"/><text transform="translate(128.30 130.80) scale(1.130 1)" font-size="9.20" text-anchor="middle" fill="#333333" stroke="#333333" stroke-width="0.32">21/12/30</text><path d="M175.8 14.0V19.0M175.8 114.0V119.0" stroke="#262626" stroke-width="1.3"/><text transform="translate(175.80 130.80) scale(1.130 1)" font-size="9.20" text-anchor="middle" fill="#333333" stroke="#333333" stroke-width="0.32">22/01/09</text><path d="M223.3 14.0V19.0M223.3 114.0V119.0" stroke="#262626" stroke-width="1.3"/><text transform="translate(223.30 130.80) scale(1.130 1)" font-size="9.20" text-anchor="middle" fill="#333333" stroke="#333333" stroke-width="0.32">22/01/19</text><path d="M270.8 14.0V19.0M270.8 114.0V119.0" stroke="#262626" stroke-width="1.3"/><text transform="translate(270.80 130.80) scale(1.130 1)" font-size="9.20" text-anchor="middle" fill="#333333" stroke="#333333" stroke-width="0.32">22/01/29</text><path d="M318.3 14.0V19.0M318.3 114.0V119.0" stroke="#262626" stroke-width="1.3"/><text transform="translate(318.30 130.80) scale(1.130 1)" font-size="9.20" text-anchor="middle" fill="#333333" stroke="#333333" stroke-width="0.32">22/02/08</text><path d="M365.8 14.0V19.0M365.8 114.0V119.0" stroke="#262626" stroke-width="1.3"/><text transform="translate(365.80 130.80) scale(1.130 1)" font-size="9.20" text-anchor="middle" fill="#333333" stroke="#333333" stroke-width="0.32">22/02/18</text><path d="M413.3 14.0V19.0M413.3 114.0V119.0" stroke="#262626" stroke-width="1.3"/><text transform="translate(413.30 130.80) scale(1.130 1)" font-size="9.20" text-anchor="middle" fill="#333333" stroke="#333333" stroke-width="0.32">22/02/28</text><path d="M460.8 14.0V19.0M460.8 114.0V119.0" stroke="#262626" stroke-width="1.3"/><text transform="translate(460.80 130.80) scale(1.130 1)" font-size="9.20" text-anchor="middle" fill="#333333" stroke="#333333" stroke-width="0.32">22/03/10</text><text transform="translate(280.00 13.20) scale(1.130 1)" font-size="10.20" text-anchor="middle" fill="#1a1a1a" stroke="#1a1a1a" stroke-width="0.32">Temperature (HYCOM)</text><text x="6.8" y="34.5" font-size="13.8" text-anchor="start" fill="#1a1a1a" stroke="#1a1a1a" stroke-width="0.32" >a</text><text x="0.0" y="0.0" font-size="10.0" text-anchor="middle" fill="#333333" stroke="#333333" stroke-width="0.32" transform="translate(25.7 66.5) rotate(-90)">Depth (m)</text><rect x="508" y="19.5" width="13.5" height="94.0" fill="url(#cbg1)" stroke="#262626" stroke-width="0.8" stroke-opacity="0.55"/><text transform="translate(526.00 36.80) scale(1.130 1)" font-size="9.30" text-anchor="start" fill="#333333" stroke="#333333" stroke-width="0.32">25</text><text transform="translate(526.00 60.70) scale(1.130 1)" font-size="9.30" text-anchor="start" fill="#333333" stroke="#333333" stroke-width="0.32">20</text><text transform="translate(526.00 84.60) scale(1.130 1)" font-size="9.30" text-anchor="start" fill="#333333" stroke="#333333" stroke-width="0.32">15</text><text transform="translate(526.00 108.50) scale(1.130 1)" font-size="9.30" text-anchor="start" fill="#333333" stroke="#333333" stroke-width="0.32">10</text><text transform="translate(515.00 14.00) scale(1.130 1)" font-size="9.40" text-anchor="middle" fill="#1a1a1a" stroke="#1a1a1a" stroke-width="0.32">°C</text>
<rect x="330" y="158" width="172" height="20" fill="url(#pale)" mask="url(#pm)"/><path fill="#fff" d="M56.5 150.0L56.5 157.2L58.0 157.2L58.5 157.2L59.0 157.2L59.5 157.5L60.0 157.8L60.5 158.1L61.0 158.3L61.5 157.9L62.0 157.4L62.5 157.2L63.0 157.2L63.5 157.2L64.0 157.2L64.5 157.7L65.0 158.2L65.5 158.6L66.0 158.2L66.5 157.8L67.0 157.4L67.5 157.2L68.0 157.2L68.5 157.2L69.0 157.3L69.5 157.7L70.0 158.1L70.5 158.5L71.0 158.2L71.5 157.8L72.0 157.3L72.5 157.2L73.0 157.2L73.5 157.2L74.0 157.3L74.5 157.8L75.0 158.2L75.5 158.2L76.0 157.9L76.5 157.6L77.0 157.3L77.5 157.2L78.0 157.2L78.5 157.2L79.0 157.3L79.5 157.7L80.0 158.0L80.5 161.8L81.0 160.4L81.5 158.9L82.0 157.2L82.5 157.2L83.0 157.2L83.5 157.2L84.0 158.0L84.5 159.5L85.0 161.0L85.5 158.4L86.0 158.0L86.5 157.6L87.0 157.2L87.5 157.2L88.0 157.2L88.5 157.2L89.0 157.4L89.5 157.8L90.0 158.2L90.5 161.5L91.0 160.1L91.5 158.6L92.0 157.2L92.5 157.2L93.0 157.2L93.5 157.2L94.0 158.3L94.5 159.8L95.0 161.3L95.5 158.4L96.0 158.0L96.5 157.6L97.0 157.2L97.5 157.2L98.0 157.2L98.5 157.2L99.0 157.6L99.5 158.0L100.0 158.4L100.5 158.2L101.0 157.8L101.5 157.5L102.0 157.2L102.5 157.2L103.0 157.2L103.5 157.2L104.0 157.5L104.5 157.9L105.0 158.2L105.5 158.2L106.0 157.8L106.5 157.4L107.0 157.2L107.5 157.2L108.0 157.2L108.5 157.2L109.0 157.6L109.5 158.0L110.0 158.3L110.5 158.1L111.0 157.8L111.5 157.4L112.0 157.2L112.5 157.2L113.0 157.2L113.5 157.2L114.0 157.6L114.5 158.0L115.0 158.3L115.5 158.5L116.0 158.0L116.5 157.4L117.0 157.2L117.5 157.2L118.0 157.2L118.5 157.3L119.0 157.9L119.5 158.4L120.0 158.9L120.5 158.4L121.0 157.9L121.5 157.4L122.0 157.2L122.5 157.2L123.0 157.2L123.5 157.4L124.0 157.9L124.5 158.4L125.0 158.9L125.5 158.4L126.0 157.9L126.5 157.3L127.0 157.2L127.5 157.2L128.0 157.2L128.5 157.4L129.0 158.0L129.5 158.5L130.0 158.4L130.5 158.0L131.0 157.6L131.5 157.2L132.0 157.2L132.5 157.2L133.0 157.2L133.5 157.4L134.0 157.8L134.5 158.2L135.0 158.4L135.5 158.0L136.0 157.6L136.5 157.2L137.0 157.2L137.5 157.2L138.0 157.2L138.5 157.4L139.0 157.8L139.5 158.2L140.0 158.5L140.5 158.1L141.0 157.6L141.5 157.2L142.0 157.2L142.5 157.2L143.0 157.2L143.5 157.5L144.0 158.0L144.5 158.4L145.0 158.6L145.5 158.1L146.0 157.6L146.5 157.2L147.0 157.2L147.5 157.2L148.0 157.2L148.5 157.6L149.0 158.1L149.5 158.6L150.0 158.6L150.5 158.1L151.0 157.6L151.5 157.2L152.0 157.2L152.5 157.1L153.0 157.0L153.5 158.1L154.0 159.8L154.5 161.9L155.0 163.0L155.5 161.3L156.0 158.8L156.5 157.0L157.0 157.0L157.5 157.0L158.0 157.0L158.5 160.1L159.0 162.9L159.5 165.6L160.0 165.2L160.5 162.5L161.0 159.7L161.5 158.2L162.0 158.2L162.5 158.2L163.0 158.3L163.5 161.4L164.0 164.2L164.5 166.8L165.0 164.1L165.5 161.8L166.0 159.3L166.5 158.3L167.0 158.3L167.5 158.3L168.0 158.7L168.5 161.3L169.0 163.7L169.5 165.9L170.0 162.5L170.5 159.9L171.0 157.0L171.5 156.3L172.0 156.3L172.5 156.3L173.0 157.1L173.5 159.9L174.0 162.5L174.5 165.8L175.0 163.2L175.5 160.5L176.0 157.5L176.5 157.1L177.0 157.1L177.5 157.1L178.0 158.2L178.5 161.1L179.0 163.8L179.5 162.2L180.0 160.5L180.5 158.6L181.0 156.5L181.5 156.4L182.0 156.4L182.5 156.4L183.0 157.4L183.5 159.4L184.0 161.2L184.5 166.3L185.0 163.4L185.5 160.4L186.0 157.1L186.5 157.2L187.0 157.2L187.5 157.2L188.0 159.1L188.5 162.3L189.0 165.2L189.5 164.3L190.0 162.0L190.5 159.6L191.0 157.3L191.5 157.3L192.0 157.3L192.5 157.3L193.0 159.1L193.5 161.6L194.0 163.9L194.5 164.1L195.0 161.7L195.5 159.1L196.0 156.9L196.5 156.9L197.0 156.9L197.5 156.9L198.0 159.1L198.5 161.9L199.0 164.5L199.5 166.5L200.0 164.2L200.5 161.8L201.0 159.9L201.5 160.1L202.0 160.3L202.5 160.4L203.0 163.6L203.5 167.0L204.0 170.4L204.5 167.3L205.0 164.2L205.5 160.8L206.0 158.7L206.5 158.7L207.0 158.8L207.5 158.8L208.0 162.4L208.5 165.7L209.0 168.9L209.5 165.0L210.0 162.9L210.5 160.7L211.0 159.6L211.5 159.6L212.0 159.7L212.5 159.8L213.0 162.3L213.5 164.5L214.0 166.6L214.5 166.2L215.0 164.1L215.5 161.9L216.0 161.0L216.5 161.1L217.0 161.1L217.5 161.5L218.0 163.9L218.5 166.1L219.0 168.1L219.5 166.9L220.0 164.5L220.5 161.7L221.0 161.0L221.5 161.1L222.0 161.1L222.5 161.9L223.0 164.7L223.5 167.2L224.0 168.7L224.5 166.9L225.0 165.0L225.5 163.0L226.0 163.0L226.5 163.4L227.0 163.7L227.5 165.0L228.0 167.5L228.5 169.4L229.0 172.4L229.5 169.5L230.0 166.5L230.5 163.0L231.0 162.9L231.5 162.9L232.0 162.8L232.5 164.4L233.0 167.5L233.5 170.4L234.0 171.3L234.5 168.8L235.0 166.2L235.5 163.5L236.0 163.5L236.5 163.4L237.0 163.4L237.5 165.0L238.0 167.6L238.5 170.0L239.0 169.7L239.5 167.7L240.0 165.6L240.5 163.6L241.0 163.6L241.5 163.6L242.0 163.5L242.5 165.0L243.0 167.1L243.5 169.0L244.0 169.0L244.5 166.8L245.0 164.3L245.5 162.3L246.0 162.2L246.5 162.2L247.0 162.2L247.5 163.4L248.0 165.1L248.5 166.6L249.0 165.3L249.5 164.0L250.0 162.6L250.5 161.8L251.0 162.5L251.5 163.1L252.0 163.8L252.5 165.7L253.0 167.8L253.5 169.7L254.0 171.9L254.5 169.2L255.0 166.3L255.5 164.5L256.0 164.5L256.5 164.6L257.0 164.6L257.5 167.6L258.0 170.5L258.5 173.1L259.0 170.3L259.5 168.1L260.0 165.8L260.5 164.6L261.0 164.6L261.5 164.7L262.0 164.8L262.5 167.3L263.0 169.6L263.5 171.7L264.0 172.1L264.5 169.3L265.0 166.3L265.5 165.1L266.0 165.1L266.5 165.1L267.0 165.7L267.5 168.9L268.0 171.7L268.5 174.5L269.0 170.6L269.5 168.0L270.0 165.2L270.5 163.1L271.0 161.9L271.5 160.6L272.0 160.4L272.5 163.9L273.0 167.1L273.5 169.4L274.0 166.7L274.5 163.8L275.0 160.7L275.5 160.1L276.0 160.1L276.5 160.1L277.0 161.2L277.5 164.2L278.0 166.9L278.5 170.0L279.0 167.1L279.5 164.0L280.0 160.6L280.5 160.4L281.0 160.4L281.5 160.3L282.0 161.9L282.5 165.0L283.0 167.9L283.5 170.0L284.0 166.4L284.5 162.6L285.0 158.5L285.5 158.3L286.0 158.0L286.5 157.8L287.0 159.9L287.5 163.6L288.0 166.9L288.5 167.2L289.0 164.1L289.5 160.8L290.0 157.7L290.5 157.7L291.0 157.7L291.5 157.7L292.0 160.1L292.5 163.4L293.0 166.5L293.5 164.9L294.0 162.3L294.5 159.6L295.0 157.3L295.5 157.3L296.0 157.3L296.5 157.3L297.0 159.6L297.5 162.3L298.0 164.8L298.5 164.2L299.0 161.6L299.5 158.9L300.0 157.0L300.5 157.0L301.0 157.0L301.5 157.0L302.0 159.5L302.5 162.1L303.0 164.6L303.5 167.8L304.0 164.5L304.5 161.0L305.0 158.9L305.5 158.9L306.0 158.9L306.5 158.9L307.0 162.5L307.5 165.8L308.0 169.0L308.5 165.1L309.0 162.2L309.5 159.1L310.0 157.5L310.5 157.5L311.0 157.5L311.5 157.6L312.0 161.0L312.5 163.9L313.0 166.7L313.5 164.0L314.0 161.0L314.5 157.8L315.0 156.5L315.5 156.5L316.0 156.5L316.5 157.0L317.0 160.4L317.5 163.4L318.0 166.3L318.5 162.1L319.0 160.0L319.5 157.7L320.0 157.1L320.5 157.1L321.0 157.1L321.5 157.7L322.0 160.0L322.5 162.1L323.0 165.1L323.5 162.7L324.0 160.1L324.5 157.3L325.0 156.8L325.5 156.8L326.0 156.8L326.5 157.9L327.0 160.6L327.5 163.1L328.0 162.7L328.5 160.9L329.0 159.1L329.5 157.0L330.0 156.9L330.5 156.9L331.0 156.9L331.5 157.9L332.0 159.8L332.5 161.6L333.0 165.7L333.5 163.7L334.0 161.6L334.5 159.3L335.0 159.8L335.5 160.4L336.0 161.0L336.5 163.6L337.0 167.1L337.5 169.9L338.0 167.9L338.5 166.1L339.0 164.3L339.5 162.3L340.0 161.8L340.5 161.8L341.0 162.0L341.5 164.3L342.0 166.3L342.5 168.2L343.0 172.9L343.5 170.1L344.0 167.2L344.5 164.1L345.0 162.2L345.5 162.2L346.0 164.4L346.5 167.6L347.0 170.6L347.5 173.4L348.0 170.1L348.5 168.2L349.0 166.2L349.5 164.1L350.0 162.3L350.5 162.3L351.0 164.6L351.5 166.6L352.0 168.5L352.5 170.4L353.0 168.2L353.5 166.4L354.0 164.5L354.5 162.5L355.0 160.9L355.5 161.2L356.0 163.3L356.5 165.2L357.0 167.0L357.5 168.7L358.0 168.1L358.5 166.2L359.0 164.2L359.5 162.0L360.0 160.5L360.5 161.5L361.0 164.1L361.5 166.5L362.0 168.9L362.5 171.0L363.0 171.6L363.5 169.7L364.0 167.7L364.5 165.7L365.0 164.7L365.5 165.6L366.0 167.9L366.5 170.0L367.0 172.0L367.5 173.9L368.0 172.8L368.5 170.9L369.0 168.8L369.5 166.6L370.0 165.5L370.5 166.7L371.0 169.0L371.5 171.2L372.0 173.3L372.5 173.5L373.0 171.8L373.5 170.2L374.0 168.4L374.5 166.5L375.0 165.8L375.5 167.0L376.0 169.0L376.5 170.9L377.0 172.6L377.5 176.1L378.0 174.0L378.5 171.8L379.0 169.6L379.5 167.0L380.0 166.4L380.5 168.2L381.0 170.7L381.5 173.1L382.0 175.3L382.5 177.9L383.0 175.8L383.5 173.8L384.0 171.9L384.5 169.9L385.0 169.8L385.5 171.4L386.0 173.3L386.5 175.2L387.0 176.9L387.5 173.6L388.0 172.3L388.5 170.9L389.0 169.5L389.5 167.9L390.0 167.9L390.5 169.2L391.0 170.7L391.5 172.1L392.0 173.4L392.5 176.1L393.0 174.6L393.5 173.1L394.0 171.5L394.5 169.8L395.0 169.8L395.5 171.5L396.0 173.2L396.5 174.7L397.0 176.2L397.5 177.6L398.0 175.5L398.5 173.4L399.0 171.1L399.5 169.0L400.0 169.1L400.5 171.7L401.0 173.9L401.5 176.0L402.0 178.1L402.5 176.0L403.0 174.4L403.5 172.4L404.0 170.1L404.5 167.9L405.0 167.8L405.5 169.8L406.0 171.9L406.5 174.0L407.0 176.2L407.5 177.6L408.0 174.7L408.5 171.6L409.0 168.4L409.5 166.1L410.0 167.0L410.5 170.4L411.0 173.6L411.5 176.5L412.0 179.4L412.5 175.8L413.0 173.0L413.5 170.2L414.0 167.2L414.5 165.4L415.0 166.5L415.5 169.7L416.0 172.6L416.5 175.3L417.0 178.0L417.5 176.5L418.0 173.8L418.5 171.0L419.0 168.0L419.5 166.5L420.0 168.0L420.5 171.1L421.0 173.9L421.5 176.6L422.0 179.1L422.5 176.2L423.0 173.2L423.5 170.0L424.0 166.5L424.5 165.2L425.0 167.3L425.5 170.7L426.0 173.9L426.5 176.9L427.0 174.1L427.5 172.4L428.0 170.7L428.5 168.9L429.0 166.8L429.5 166.3L430.0 167.7L430.5 169.7L431.0 171.5L431.5 173.2L432.0 176.1L432.5 173.6L433.0 171.0L433.5 168.4L434.0 165.4L434.5 165.0L435.0 167.3L435.5 170.1L436.0 172.7L436.5 175.2L437.0 179.2L437.5 176.2L438.0 173.1L438.5 169.8L439.0 166.1L439.5 166.1L440.0 169.2L440.5 172.8L441.0 175.9L441.5 178.6L442.0 176.4L442.5 174.6L443.0 173.0L443.5 171.6L444.0 170.4L444.5 171.0L445.0 173.1L445.5 174.5L446.0 175.8L446.5 177.0L447.0 176.1L447.5 175.3L448.0 174.4L448.5 173.5L449.0 172.6L449.5 172.6L450.0 173.7L450.5 174.6L451.0 175.5L451.5 176.3L452.0 179.0L452.5 177.4L453.0 175.8L453.5 174.1L454.0 172.7L454.5 172.9L455.0 174.8L455.5 176.5L456.0 178.1L456.5 179.6L457.0 178.3L457.5 176.9L458.0 175.4L458.5 173.9L459.0 172.8L459.5 173.2L460.0 174.8L460.5 176.3L461.0 177.8L461.5 179.1L462.0 176.5L462.5 175.4L463.0 174.2L463.5 173.0L464.0 172.2L464.5 172.7L465.0 174.0L465.5 175.2L466.0 176.3L466.5 177.4L467.0 175.7L467.5 174.7L468.0 173.7L468.5 172.5L469.0 172.0L469.5 172.5L470.0 173.7L470.5 174.7L471.0 175.7L471.5 176.0L472.0 175.2L472.5 174.3L473.0 173.4L473.5 172.5L474.0 172.1L474.5 172.0L475.0 172.5L475.5 173.1L476.0 173.8L476.5 179.6L477.0 177.1L477.5 174.2L478.0 170.8L478.5 167.5L479.0 166.6L479.5 168.9L480.0 172.0L480.5 175.0L481.0 177.8L481.5 179.1L482.0 176.5L482.5 173.7L483.0 170.8L483.5 167.6L484.0 167.1L484.5 169.6L485.0 172.6L485.5 175.4L486.0 178.1L486.5 173.2L487.0 171.5L487.5 169.8L488.0 167.9L488.5 165.8L489.0 165.8L489.5 167.5L490.0 169.4L490.5 171.2L491.0 172.9L491.5 174.9L492.0 173.1L492.5 171.3L493.0 169.4L493.5 167.4L494.0 167.4L494.5 169.4L495.0 171.3L495.5 173.1L496.0 174.9L496.5 176.7L497.0 174.2L497.5 171.6L498.0 168.8L498.5 166.2L499.0 166.2L499.5 169.4L500.0 172.1L500.5 174.7L501.0 177.2L501.0 177.2L502.5 177.2L502.5 150.0Z"/><path fill="#fff" d="M56.5 246.0L56.5 238.7L58.0 238.7L58.5 238.7L59.0 238.7L59.5 238.7L60.0 238.7L60.5 238.7L61.0 238.7L61.5 238.7L62.0 238.7L62.5 238.7L63.0 238.7L63.5 238.7L64.0 238.7L64.5 238.7L65.0 237.5L65.5 237.5L66.0 237.5L66.5 237.5L67.0 238.7L67.5 238.7L68.0 238.7L68.5 238.7L69.0 238.0L69.5 238.0L70.0 238.0L70.5 238.0L71.0 238.0L71.5 238.7L72.0 238.7L72.5 238.7L73.0 238.7L73.5 238.7L74.0 238.7L74.5 238.7L75.0 238.7L75.5 238.7L76.0 238.7L76.5 238.7L77.0 238.7L77.5 238.7L78.0 238.7L78.5 238.7L79.0 238.7L79.5 238.7L80.0 237.6L80.5 237.6L81.0 237.6L81.5 237.6L82.0 237.6L82.5 238.7L83.0 238.7L83.5 238.7L84.0 238.7L84.5 237.7L85.0 237.7L85.5 237.7L86.0 237.7L86.5 237.7L87.0 237.7L87.5 237.7L88.0 237.8L88.5 237.8L89.0 238.7L89.5 238.7L90.0 238.7L90.5 238.7L91.0 238.7L91.5 238.7L92.0 238.7L92.5 238.7L93.0 238.7L93.5 238.3L94.0 238.3L94.5 238.3L95.0 238.3L95.5 237.9L96.0 237.9L96.5 237.9L97.0 237.9L97.5 237.9L98.0 238.7L98.5 238.7L99.0 238.7L99.5 238.7L100.0 238.7L100.5 238.7L101.0 238.7L101.5 238.7L102.0 238.7L102.5 238.7L103.0 238.7L103.5 238.8L104.0 238.8L104.5 238.1L105.0 238.1L105.5 238.1L106.0 238.1L106.5 238.8L107.0 238.8L107.5 238.8L108.0 238.8L108.5 238.8L109.0 238.8L109.5 238.8L110.0 238.8L110.5 238.8L111.0 238.8L111.5 238.8L112.0 238.8L112.5 238.8L113.0 238.8L113.5 238.8L114.0 238.8L114.5 238.8L115.0 238.8L115.5 237.6L116.0 237.6L116.5 237.6L117.0 237.6L117.5 238.8L118.0 238.8L118.5 238.8L119.0 238.8L119.5 238.8L120.0 238.8L120.5 238.8L121.0 238.8L121.5 238.8L122.0 238.5L122.5 238.5L123.0 238.5L123.5 238.5L124.0 238.5L124.5 238.8L125.0 238.8L125.5 238.8L126.0 238.8L126.5 238.8L127.0 238.8L127.5 238.8L128.0 238.8L128.5 238.5L129.0 238.5L129.5 238.5L130.0 238.5L130.5 238.5L131.0 238.8L131.5 238.8L132.0 238.8L132.5 238.8L133.0 238.8L133.5 238.8L134.0 238.8L134.5 238.8L135.0 238.8L135.5 238.8L136.0 238.8L136.5 238.8L137.0 238.8L137.5 237.6L138.0 237.6L138.5 237.6L139.0 237.6L139.5 238.8L140.0 238.8L140.5 238.8L141.0 238.8L141.5 238.8L142.0 238.8L142.5 238.8L143.0 238.8L143.5 238.8L144.0 238.8L144.5 238.8L145.0 238.8L145.5 238.8L146.0 237.9L146.5 237.9L147.0 237.9L147.5 237.9L148.0 237.9L148.5 238.8L149.0 238.8L149.5 238.8L150.0 238.8L150.5 238.4L151.0 238.4L151.5 238.4L152.0 238.4L152.5 238.4L153.0 237.9L153.5 237.9L154.0 237.9L154.5 237.9L155.0 238.8L155.5 238.8L156.0 238.8L156.5 238.8L157.0 238.8L157.5 237.6L158.0 237.6L158.5 237.6L159.0 237.6L159.5 238.0L160.0 238.0L160.5 238.0L161.0 238.0L161.5 238.8L162.0 238.8L162.5 238.8L163.0 238.8L163.5 238.8L164.0 238.7L164.5 238.7L165.0 238.7L165.5 238.7L166.0 238.8L166.5 238.8L167.0 238.8L167.5 238.8L168.0 238.8L168.5 238.7L169.0 238.7L169.5 238.7L170.0 238.7L170.5 238.8L171.0 238.8L171.5 238.8L172.0 238.8L172.5 238.8L173.0 238.8L173.5 238.8L174.0 238.8L174.5 238.8L175.0 238.8L175.5 238.8L176.0 238.8L176.5 238.8L177.0 238.8L177.5 238.8L178.0 238.8L178.5 238.8L179.0 238.8L179.5 238.8L180.0 238.8L180.5 238.8L181.0 238.8L181.5 238.2L182.0 238.2L182.5 238.2L183.0 238.2L183.5 238.8L184.0 238.8L184.5 238.8L185.0 238.8L185.5 238.8L186.0 238.8L186.5 238.8L187.0 238.8L187.5 238.8L188.0 238.8L188.5 238.8L189.0 238.8L189.5 238.8L190.0 238.8L190.5 238.8L191.0 238.8L191.5 238.8L192.0 238.8L192.5 238.7L193.0 238.7L193.5 238.7L194.0 238.7L194.5 238.9L195.0 238.9L195.5 238.9L196.0 238.9L196.5 238.9L197.0 238.9L197.5 238.9L198.0 238.9L198.5 238.9L199.0 237.6L199.5 237.6L200.0 237.6L200.5 237.6L201.0 238.9L201.5 238.9L202.0 238.9L202.5 238.9L203.0 238.9L203.5 238.6L204.0 238.6L204.5 238.6L205.0 238.6L205.5 238.9L206.0 238.9L206.5 238.9L207.0 238.9L207.5 238.9L208.0 238.9L208.5 238.9L209.0 238.9L209.5 238.9L210.0 238.9L210.5 238.9L211.0 238.9L211.5 238.9L212.0 238.9L212.5 238.9L213.0 238.9L213.5 238.9L214.0 238.9L214.5 238.9L215.0 238.9L215.5 238.9L216.0 238.9L216.5 238.9L217.0 238.9L217.5 238.9L218.0 238.9L218.5 238.9L219.0 238.9L219.5 238.9L220.0 238.9L220.5 238.9L221.0 238.9L221.5 238.9L222.0 238.9L222.5 238.9L223.0 238.9L223.5 238.9L224.0 238.9L224.5 238.9L225.0 238.9L225.5 238.9L226.0 238.9L226.5 238.9L227.0 238.9L227.5 238.6L228.0 238.6L228.5 238.6L229.0 238.6L229.5 238.6L230.0 238.9L230.5 238.9L231.0 238.9L231.5 238.9L232.0 238.2L232.5 238.2L233.0 238.2L233.5 238.2L234.0 238.9L234.5 238.9L235.0 238.9L235.5 238.9L236.0 238.9L236.5 238.9L237.0 238.9L237.5 238.9L238.0 238.9L238.5 238.9L239.0 238.9L239.5 238.9L240.0 238.9L240.5 238.9L241.0 238.9L241.5 238.9L242.0 238.9L242.5 238.9L243.0 237.8L243.5 237.8L244.0 237.8L244.5 237.8L245.0 238.9L245.5 238.9L246.0 238.9L246.5 238.9L247.0 238.9L247.5 238.9L248.0 238.9L248.5 238.9L249.0 238.9L249.5 238.3L250.0 238.3L250.5 238.3L251.0 238.3L251.5 238.3L252.0 238.9L252.5 238.9L253.0 238.9L253.5 238.9L254.0 238.9L254.5 238.9L255.0 238.9L255.5 238.9L256.0 238.9L256.5 238.8L257.0 238.8L257.5 238.8L258.0 238.8L258.5 238.9L259.0 238.9L259.5 238.9L260.0 238.9L260.5 238.9L261.0 238.9L261.5 238.9L262.0 238.9L262.5 238.9L263.0 238.5L263.5 238.5L264.0 238.5L264.5 238.5L265.0 238.9L265.5 238.9L266.0 238.9L266.5 238.9L267.0 238.9L267.5 238.1L268.0 238.1L268.5 238.1L269.0 238.1L269.5 238.2L270.0 238.2L270.5 238.2L271.0 238.2L271.5 238.9L272.0 238.9L272.5 238.9L273.0 238.9L273.5 238.9L274.0 238.5L274.5 238.5L275.0 238.5L275.5 238.5L276.0 238.9L276.5 238.9L277.0 238.9L277.5 238.9L278.0 238.9L278.5 238.9L279.0 238.9L279.5 238.9L280.0 238.9L280.5 238.9L281.0 238.9L281.5 238.9L282.0 238.9L282.5 238.7L283.0 238.7L283.5 238.7L284.0 238.7L284.5 238.7L285.0 238.3L285.5 238.3L286.0 238.3L286.5 238.3L287.0 239.0L287.5 239.0L288.0 239.0L288.5 239.0L289.0 239.0L289.5 238.9L290.0 238.9L290.5 238.9L291.0 238.9L291.5 239.0L292.0 239.0L292.5 239.0L293.0 239.0L293.5 239.0L294.0 239.0L294.5 239.0L295.0 239.0L295.5 239.0L296.0 239.0L296.5 239.0L297.0 239.0L297.5 239.0L298.0 239.0L298.5 239.0L299.0 239.0L299.5 239.0L300.0 239.0L300.5 239.0L301.0 239.0L301.5 239.0L302.0 239.0L302.5 239.0L303.0 239.0L303.5 239.0L304.0 239.0L304.5 239.0L305.0 239.0L305.5 239.0L306.0 239.0L306.5 239.0L307.0 238.4L307.5 238.4L308.0 238.4L308.5 238.4L309.0 239.0L309.5 239.0L310.0 239.0L310.5 239.0L311.0 239.0L311.5 239.0L312.0 239.0L312.5 239.0L313.0 239.0L313.5 238.4L314.0 238.4L314.5 238.4L315.0 238.4L315.5 238.4L316.0 238.4L316.5 238.4L317.0 238.4L317.5 238.4L318.0 239.0L318.5 239.0L319.0 239.0L319.5 239.0L320.0 239.0L320.5 239.0L321.0 239.0L321.5 239.0L322.0 239.0L322.5 239.0L323.0 239.0L323.5 239.0L324.0 239.0L324.5 239.0L325.0 239.0L325.5 239.0L326.0 239.0L326.5 239.0L327.0 239.0L327.5 239.0L328.0 239.0L328.5 239.0L329.0 239.0L329.5 239.0L330.0 239.0L330.5 239.1L331.0 239.2L331.5 239.2L332.0 239.3L332.5 239.4L333.0 239.5L333.5 238.5L334.0 238.5L334.5 238.6L335.0 238.7L335.5 239.0L336.0 239.1L336.5 239.2L337.0 239.3L337.5 239.7L338.0 239.8L338.5 239.9L339.0 240.0L339.5 240.0L340.0 240.0L340.5 240.1L341.0 240.2L341.5 240.3L342.0 240.0L342.5 240.1L343.0 240.2L343.5 240.3L344.0 241.3L344.5 241.4L345.0 241.5L345.5 241.5L346.0 241.5L346.5 241.5L347.0 241.5L347.5 241.5L348.0 241.5L348.5 241.5L349.0 241.5L349.5 241.5L350.0 241.5L350.5 241.5L351.0 241.5L351.5 241.5L352.0 241.5L352.5 241.5L353.0 241.5L353.5 241.5L354.0 241.5L354.5 241.5L355.0 240.8L355.5 240.8L356.0 240.8L356.5 240.8L357.0 240.8L357.5 241.5L358.0 241.5L358.5 241.5L359.0 241.5L359.5 241.5L360.0 241.5L360.5 241.5L361.0 241.5L361.5 241.5L362.0 240.7L362.5 240.7L363.0 240.7L363.5 240.7L364.0 241.6L364.5 241.6L365.0 241.6L365.5 241.6L366.0 240.3L366.5 240.3L367.0 240.3L367.5 240.3L368.0 240.3L368.5 241.6L369.0 241.6L369.5 241.6L370.0 241.6L370.5 241.6L371.0 241.6L371.5 241.6L372.0 241.6L372.5 241.6L373.0 240.6L373.5 240.6L374.0 240.6L374.5 240.6L375.0 241.6L375.5 241.6L376.0 241.6L376.5 241.6L377.0 240.9L377.5 240.9L378.0 240.9L378.5 240.9L379.0 240.9L379.5 241.6L380.0 241.6L380.5 241.6L381.0 241.6L381.5 241.6L382.0 241.6L382.5 241.6L383.0 241.6L383.5 241.6L384.0 241.6L384.5 241.6L385.0 241.6L385.5 241.6L386.0 241.6L386.5 241.6L387.0 241.6L387.5 241.6L388.0 241.6L388.5 241.6L389.0 241.6L389.5 241.6L390.0 241.6L390.5 240.6L391.0 240.6L391.5 240.6L392.0 240.6L392.5 241.7L393.0 241.7L393.5 241.7L394.0 241.7L394.5 241.7L395.0 241.7L395.5 241.7L396.0 241.7L396.5 241.7L397.0 241.7L397.5 241.7L398.0 241.7L398.5 241.7L399.0 241.7L399.5 241.7L400.0 241.7L400.5 241.7L401.0 241.7L401.5 241.7L402.0 241.7L402.5 241.7L403.0 241.7L403.5 241.5L404.0 241.5L404.5 241.5L405.0 241.5L405.5 241.5L406.0 241.7L406.5 241.7L407.0 241.7L407.5 241.7L408.0 241.1L408.5 241.1L409.0 241.1L409.5 241.1L410.0 241.7L410.5 241.7L411.0 241.7L411.5 241.7L412.0 241.7L412.5 241.7L413.0 241.7L413.5 241.7L414.0 241.7L414.5 241.7L415.0 241.7L415.5 241.7L416.0 241.7L416.5 241.7L417.0 241.7L417.5 241.7L418.0 241.7L418.5 241.7L419.0 241.7L419.5 241.7L420.0 241.7L420.5 241.7L421.0 241.3L421.5 241.3L422.0 241.3L422.5 241.3L423.0 241.3L423.5 241.8L424.0 241.8L424.5 241.8L425.0 241.8L425.5 241.8L426.0 241.8L426.5 241.8L427.0 241.8L427.5 241.8L428.0 241.8L428.5 241.8L429.0 241.8L429.5 241.8L430.0 241.8L430.5 241.8L431.0 241.8L431.5 241.8L432.0 241.8L432.5 241.8L433.0 241.8L433.5 241.8L434.0 241.8L434.5 241.4L435.0 241.4L435.5 241.4L436.0 241.4L436.5 241.8L437.0 241.8L437.5 241.8L438.0 241.8L438.5 241.8L439.0 241.2L439.5 241.2L440.0 241.2L440.5 241.2L441.0 241.6L441.5 241.6L442.0 241.6L442.5 241.6L443.0 240.6L443.5 240.6L444.0 240.6L444.5 240.6L445.0 240.6L445.5 241.8L446.0 241.8L446.5 241.8L447.0 241.8L447.5 241.8L448.0 241.8L448.5 241.8L449.0 241.8L449.5 241.8L450.0 241.7L450.5 241.7L451.0 241.7L451.5 241.7L452.0 241.8L452.5 241.8L453.0 241.8L453.5 241.8L454.0 241.8L454.5 241.9L455.0 241.9L455.5 241.9L456.0 241.9L456.5 241.9L457.0 241.9L457.5 241.9L458.0 241.9L458.5 241.9L459.0 241.9L459.5 241.9L460.0 241.9L460.5 241.9L461.0 241.9L461.5 241.9L462.0 241.9L462.5 241.9L463.0 241.0L463.5 241.0L464.0 241.0L464.5 241.0L465.0 241.0L465.5 241.9L466.0 241.9L466.5 241.9L467.0 241.9L467.5 241.9L468.0 241.9L468.5 241.9L469.0 241.9L469.5 241.9L470.0 241.9L470.5 241.9L471.0 241.9L471.5 241.9L472.0 241.3L472.5 241.3L473.0 241.3L473.5 241.3L474.0 241.1L474.5 241.2L475.0 241.2L475.5 241.2L476.0 241.2L476.5 241.9L477.0 241.9L477.5 241.9L478.0 241.9L478.5 241.9L479.0 241.9L479.5 241.9L480.0 241.9L480.5 241.9L481.0 241.9L481.5 241.9L482.0 241.9L482.5 241.9L483.0 241.9L483.5 241.9L484.0 241.9L484.5 241.9L485.0 241.9L485.5 242.0L486.0 242.0L486.5 242.0L487.0 242.0L487.5 242.0L488.0 242.0L488.5 242.0L489.0 242.0L489.5 240.9L490.0 240.9L490.5 240.9L491.0 240.9L491.5 242.0L492.0 242.0L492.5 242.0L493.0 242.0L493.5 242.0L494.0 241.5L494.5 241.5L495.0 241.5L495.5 241.5L496.0 242.0L496.5 242.0L497.0 242.0L497.5 242.0L498.0 242.0L498.5 242.0L499.0 242.0L499.5 242.0L500.0 242.0L500.5 242.0L501.0 242.0L501.0 242.0L502.5 242.0L502.5 246.0Z"/><polyline fill="none" stroke="#151515" stroke-width="1.05" stroke-linejoin="round" points="58.5,197.2 60.1,195.7 61.7,196.9 63.3,195.9 64.9,196.4 66.5,195.7 68.1,196.6 69.7,195.8 71.3,196.2 72.9,194.9 74.5,196.6 76.1,195.3 77.7,196.3 79.3,194.5 80.9,196.6 82.5,194.5 84.1,196.0 85.7,194.6 87.3,196.4 88.9,194.8 90.5,196.5 92.1,194.1 93.7,197.3 95.3,194.2 96.9,197.1 98.5,191.9 100.1,196.1 101.7,191.5 103.3,197.8 104.9,193.8 106.5,197.2 108.1,193.7 109.7,196.5 111.3,192.4 112.9,195.5 114.5,192.5 116.1,197.0 117.7,192.4 119.3,194.8 120.9,190.6 122.5,194.8 124.1,189.5 125.7,193.4 127.3,190.1 128.9,194.2 130.5,188.9 132.1,193.1 133.7,189.5 135.3,191.6 136.9,187.5 138.5,191.7 140.1,187.7 141.7,192.4 143.3,187.4 144.9,192.4 146.5,187.4 148.1,192.7 149.7,189.2 151.3,193.0 152.9,188.0 154.5,192.8 156.1,188.5 157.7,191.5 159.3,188.0 160.9,191.1 162.5,187.8 164.1,192.2 165.7,188.6 167.3,192.3 168.9,189.1 170.5,191.1 172.1,188.3 173.7,190.8 175.3,188.7 176.9,191.0 178.5,188.4 180.1,191.5 181.7,188.6 183.3,191.2 184.9,189.3 186.5,191.1 188.1,188.4 189.7,190.6 191.3,188.8 192.9,190.7 194.5,188.2 196.1,190.5 197.7,188.9 199.3,190.0 200.9,188.9 202.5,190.8 204.1,188.2 205.7,191.2 207.3,188.9 208.9,191.2 210.5,189.1 212.1,191.0 213.7,189.1 215.3,190.4 216.9,189.2 218.5,191.0 220.1,188.2 221.7,190.0 223.3,188.5 224.9,190.2 226.5,188.6 228.1,190.7 229.7,189.3 231.3,191.2 232.9,189.2 234.5,190.9 236.1,189.7 237.7,190.5 239.3,189.6 240.9,191.1 242.5,188.9 244.1,191.9 245.7,189.6 247.3,191.5 248.9,189.5 250.5,192.2 252.1,190.1 253.7,192.3 255.3,190.2 256.9,192.3 258.5,190.2 260.1,192.6 261.7,190.7 263.3,193.3 264.9,192.0 266.5,192.9 268.1,192.2 269.7,193.5 271.3,192.5 272.9,193.7 274.5,192.9 276.1,194.8 277.7,192.5 279.3,194.6 280.9,192.8 282.5,194.2 284.1,191.9 285.7,194.3 287.3,191.2 288.9,193.4 290.5,191.1 292.1,193.3 293.7,189.8 295.3,193.2 296.9,188.6 298.5,194.1 300.1,188.0 301.7,194.2 303.3,189.1 304.9,193.7 306.5,189.8 308.1,191.7 309.7,187.7 311.3,193.0 312.9,186.3 314.5,191.0 316.1,187.0 317.7,192.5 319.3,186.7 320.9,193.1 322.5,186.7 324.1,192.3 325.7,186.6 327.3,192.3 328.9,187.3 330.5,191.9 332.1,185.5 333.7,190.3 335.3,184.2 336.9,191.8 338.5,184.9 340.1,189.8 341.7,186.6 343.3,189.2 344.9,187.5 346.5,188.4 348.1,186.9 349.7,189.6 351.3,186.9 352.9,189.1 354.5,186.5 356.1,187.8 357.7,186.4 359.3,188.7 360.9,185.6 362.5,188.1 364.1,185.4 365.7,187.3 367.3,185.0 368.9,188.1 370.5,185.2 372.1,187.5 373.7,184.8 375.3,186.2 376.9,184.3 378.5,185.7 380.1,182.9 381.7,185.8 383.3,183.8 384.9,184.8 386.5,183.7 388.1,184.8 389.7,182.8 391.3,185.3 392.9,181.8 394.5,185.7 396.1,182.9 397.7,185.1 399.3,181.7 400.9,184.2 402.5,181.8 404.1,184.6 405.7,181.8 407.3,184.4 408.9,182.0 410.5,184.6 412.1,182.8 413.7,185.0 415.3,181.6 416.9,184.5 418.5,182.2 420.1,185.2 421.7,182.2 423.3,185.0 424.9,182.1 426.5,184.1 428.1,182.1 429.7,183.6 431.3,182.2 432.9,183.8 434.5,182.5 436.1,184.2 437.7,181.9 439.3,183.4 440.9,182.4 442.5,184.8 444.1,182.4 445.7,184.0 447.3,181.1 448.9,183.6 450.5,182.0 452.1,184.6 453.7,182.6 455.3,183.5 456.9,181.2 458.5,184.4 460.1,182.2 461.7,184.1 463.3,182.2 464.9,184.7 466.5,181.2 468.1,183.5 469.7,181.8 471.3,183.7 472.9,182.0 474.5,184.5 476.1,181.6 477.7,183.7 479.3,182.1 480.9,184.0 482.5,182.1 484.1,184.4 485.7,181.5 487.3,183.9 488.9,182.0 490.5,183.5 492.1,182.1 493.7,184.7 495.3,181.9 496.9,184.2 498.5,181.8 500.1,184.2"/><rect x="58.0" y="151.0" width="443.0" height="94.3" fill="none" stroke="#262626" stroke-width="1.1"/><path d="M53.0 151.3H58.0M501.0 151.3H506.0" stroke="#262626" stroke-width="1.3"/><text transform="translate(49.60 155.20) scale(1.130 1)" font-size="9.20" text-anchor="end" fill="#333333" stroke="#333333" stroke-width="0.32">0</text><path d="M53.0 169.8H58.0M501.0 169.8H506.0" stroke="#262626" stroke-width="1.3"/><text transform="translate(49.60 173.65) scale(1.130 1)" font-size="9.20" text-anchor="end" fill="#333333" stroke="#333333" stroke-width="0.32">100</text><path d="M53.0 188.2H58.0M501.0 188.2H506.0" stroke="#262626" stroke-width="1.3"/><text transform="translate(49.60 192.10) scale(1.130 1)" font-size="9.20" text-anchor="end" fill="#333333" stroke="#333333" stroke-width="0.32">200</text><path d="M53.0 206.7H58.0M501.0 206.7H506.0" stroke="#262626" stroke-width="1.3"/><text transform="translate(49.60 210.55) scale(1.130 1)" font-size="9.20" text-anchor="end" fill="#333333" stroke="#333333" stroke-width="0.32">300</text><path d="M53.0 225.1H58.0M501.0 225.1H506.0" stroke="#262626" stroke-width="1.3"/><text transform="translate(49.60 229.00) scale(1.130 1)" font-size="9.20" text-anchor="end" fill="#333333" stroke="#333333" stroke-width="0.32">400</text><path d="M53.0 243.5H58.0M501.0 243.5H506.0" stroke="#262626" stroke-width="1.3"/><text transform="translate(49.60 247.40) scale(1.130 1)" font-size="9.20" text-anchor="end" fill="#333333" stroke="#333333" stroke-width="0.32">500</text><path d="M80.8 146.0V151.0M80.8 245.3V250.3" stroke="#262626" stroke-width="1.3"/><text transform="translate(80.80 262.30) scale(1.130 1)" font-size="9.20" text-anchor="middle" fill="#333333" stroke="#333333" stroke-width="0.32">21/12/20</text><path d="M128.3 146.0V151.0M128.3 245.3V250.3" stroke="#262626" stroke-width="1.3"/><text transform="translate(128.30 262.30) scale(1.130 1)" font-size="9.20" text-anchor="middle" fill="#333333" stroke="#333333" stroke-width="0.32">21/12/30</text><path d="M175.8 146.0V151.0M175.8 245.3V250.3" stroke="#262626" stroke-width="1.3"/><text transform="translate(175.80 262.30) scale(1.130 1)" font-size="9.20" text-anchor="middle" fill="#333333" stroke="#333333" stroke-width="0.32">22/01/09</text><path d="M223.3 146.0V151.0M223.3 245.3V250.3" stroke="#262626" stroke-width="1.3"/><text transform="translate(223.30 262.30) scale(1.130 1)" font-size="9.20" text-anchor="middle" fill="#333333" stroke="#333333" stroke-width="0.32">22/01/19</text><path d="M270.8 146.0V151.0M270.8 245.3V250.3" stroke="#262626" stroke-width="1.3"/><text transform="translate(270.80 262.30) scale(1.130 1)" font-size="9.20" text-anchor="middle" fill="#333333" stroke="#333333" stroke-width="0.32">22/01/29</text><path d="M318.3 146.0V151.0M318.3 245.3V250.3" stroke="#262626" stroke-width="1.3"/><text transform="translate(318.30 262.30) scale(1.130 1)" font-size="9.20" text-anchor="middle" fill="#333333" stroke="#333333" stroke-width="0.32">22/02/08</text><path d="M365.8 146.0V151.0M365.8 245.3V250.3" stroke="#262626" stroke-width="1.3"/><text transform="translate(365.80 262.30) scale(1.130 1)" font-size="9.20" text-anchor="middle" fill="#333333" stroke="#333333" stroke-width="0.32">22/02/18</text><path d="M413.3 146.0V151.0M413.3 245.3V250.3" stroke="#262626" stroke-width="1.3"/><text transform="translate(413.30 262.30) scale(1.130 1)" font-size="9.20" text-anchor="middle" fill="#333333" stroke="#333333" stroke-width="0.32">22/02/28</text><path d="M460.8 146.0V151.0M460.8 245.3V250.3" stroke="#262626" stroke-width="1.3"/><text transform="translate(460.80 262.30) scale(1.130 1)" font-size="9.20" text-anchor="middle" fill="#333333" stroke="#333333" stroke-width="0.32">22/03/10</text><text transform="translate(280.00 145.00) scale(1.130 1)" font-size="10.20" text-anchor="middle" fill="#1a1a1a" stroke="#1a1a1a" stroke-width="0.32">Temperature (MOORING)</text><text x="6.8" y="166.5" font-size="13.8" text-anchor="start" fill="#1a1a1a" stroke="#1a1a1a" stroke-width="0.32" >b</text><text x="0.0" y="0.0" font-size="10.0" text-anchor="middle" fill="#333333" stroke="#333333" stroke-width="0.32" transform="translate(25.7 198.2) rotate(-90)">Depth (m)</text><rect x="508" y="151.3" width="13.5" height="93.2" fill="url(#cbg2)" stroke="#262626" stroke-width="0.8" stroke-opacity="0.55"/><text transform="translate(526.00 168.70) scale(1.130 1)" font-size="9.30" text-anchor="start" fill="#333333" stroke="#333333" stroke-width="0.32">25</text><text transform="translate(526.00 192.70) scale(1.130 1)" font-size="9.30" text-anchor="start" fill="#333333" stroke="#333333" stroke-width="0.32">20</text><text transform="translate(526.00 216.60) scale(1.130 1)" font-size="9.30" text-anchor="start" fill="#333333" stroke="#333333" stroke-width="0.32">15</text><text transform="translate(526.00 240.50) scale(1.130 1)" font-size="9.30" text-anchor="start" fill="#333333" stroke="#333333" stroke-width="0.32">10</text><text transform="translate(515.00 145.80) scale(1.130 1)" font-size="9.40" text-anchor="middle" fill="#1a1a1a" stroke="#1a1a1a" stroke-width="0.32">°C</text>
<path d="M58.0 282.0H501.0" stroke="#262626" stroke-width="1.1" opacity="0.75"/><path d="M53.0 282.0H58.0M501.0 282.0H506.0" stroke="#262626" stroke-width="1.3"/><text transform="translate(49.60 285.90) scale(1.130 1)" font-size="9.20" text-anchor="end" fill="#333333" stroke="#333333" stroke-width="0.32">0</text><path d="M53.0 300.9H58.0M501.0 300.9H506.0" stroke="#262626" stroke-width="1.3"/><text transform="translate(49.60 304.80) scale(1.130 1)" font-size="9.20" text-anchor="end" fill="#333333" stroke="#333333" stroke-width="0.32">100</text><path d="M53.0 319.8H58.0M501.0 319.8H506.0" stroke="#262626" stroke-width="1.3"/><text transform="translate(49.60 323.70) scale(1.130 1)" font-size="9.20" text-anchor="end" fill="#333333" stroke="#333333" stroke-width="0.32">200</text><path d="M53.0 338.7H58.0M501.0 338.7H506.0" stroke="#262626" stroke-width="1.3"/><text transform="translate(49.60 342.60) scale(1.130 1)" font-size="9.20" text-anchor="end" fill="#333333" stroke="#333333" stroke-width="0.32">300</text><path d="M53.0 357.6H58.0M501.0 357.6H506.0" stroke="#262626" stroke-width="1.3"/><text transform="translate(49.60 361.50) scale(1.130 1)" font-size="9.20" text-anchor="end" fill="#333333" stroke="#333333" stroke-width="0.32">400</text><path d="M53.0 376.5H58.0M501.0 376.5H506.0" stroke="#262626" stroke-width="1.3"/><text transform="translate(49.60 380.40) scale(1.130 1)" font-size="9.20" text-anchor="end" fill="#333333" stroke="#333333" stroke-width="0.32">500</text><path d="M80.8 277.0V282.0M80.8 376.8V381.8" stroke="#262626" stroke-width="1.3"/><text transform="translate(80.80 393.80) scale(1.130 1)" font-size="9.20" text-anchor="middle" fill="#333333" stroke="#333333" stroke-width="0.32">21/12/20</text><path d="M128.3 277.0V282.0M128.3 376.8V381.8" stroke="#262626" stroke-width="1.3"/><text transform="translate(128.30 393.80) scale(1.130 1)" font-size="9.20" text-anchor="middle" fill="#333333" stroke="#333333" stroke-width="0.32">21/12/30</text><path d="M175.8 277.0V282.0M175.8 376.8V381.8" stroke="#262626" stroke-width="1.3"/><text transform="translate(175.80 393.80) scale(1.130 1)" font-size="9.20" text-anchor="middle" fill="#333333" stroke="#333333" stroke-width="0.32">22/01/09</text><path d="M223.3 277.0V282.0M223.3 376.8V381.8" stroke="#262626" stroke-width="1.3"/><text transform="translate(223.30 393.80) scale(1.130 1)" font-size="9.20" text-anchor="middle" fill="#333333" stroke="#333333" stroke-width="0.32">22/01/19</text><path d="M270.8 277.0V282.0M270.8 376.8V381.8" stroke="#262626" stroke-width="1.3"/><text transform="translate(270.80 393.80) scale(1.130 1)" font-size="9.20" text-anchor="middle" fill="#333333" stroke="#333333" stroke-width="0.32">22/01/29</text><path d="M318.3 277.0V282.0M318.3 376.8V381.8" stroke="#262626" stroke-width="1.3"/><text transform="translate(318.30 393.80) scale(1.130 1)" font-size="9.20" text-anchor="middle" fill="#333333" stroke="#333333" stroke-width="0.32">22/02/08</text><path d="M365.8 277.0V282.0M365.8 376.8V381.8" stroke="#262626" stroke-width="1.3"/><text transform="translate(365.80 393.80) scale(1.130 1)" font-size="9.20" text-anchor="middle" fill="#333333" stroke="#333333" stroke-width="0.32">22/02/18</text><path d="M413.3 277.0V282.0M413.3 376.8V381.8" stroke="#262626" stroke-width="1.3"/><text transform="translate(413.30 393.80) scale(1.130 1)" font-size="9.20" text-anchor="middle" fill="#333333" stroke="#333333" stroke-width="0.32">22/02/28</text><path d="M460.8 277.0V282.0M460.8 376.8V381.8" stroke="#262626" stroke-width="1.3"/><text transform="translate(460.80 393.80) scale(1.130 1)" font-size="9.20" text-anchor="middle" fill="#333333" stroke="#333333" stroke-width="0.32">22/03/10</text><text transform="translate(280.00 276.00) scale(1.130 1)" font-size="10.20" text-anchor="middle" fill="#1a1a1a" stroke="#1a1a1a" stroke-width="0.32">Salinity (HYCOM)</text><text x="6.8" y="297.5" font-size="13.8" text-anchor="start" fill="#1a1a1a" stroke="#1a1a1a" stroke-width="0.32" >c</text><text x="0.0" y="0.0" font-size="10.0" text-anchor="middle" fill="#333333" stroke="#333333" stroke-width="0.32" transform="translate(25.7 329.4) rotate(-90)">Depth (m)</text><rect x="508" y="282.8" width="13.5" height="93.5" fill="url(#cbg3)" stroke="#262626" stroke-width="0.8" stroke-opacity="0.55"/><text transform="translate(526.00 286.30) scale(1.130 1)" font-size="9.30" text-anchor="start" fill="#333333" stroke="#333333" stroke-width="0.32">35</text><text transform="translate(526.00 333.00) scale(1.130 1)" font-size="9.30" text-anchor="start" fill="#333333" stroke="#333333" stroke-width="0.32">34.5</text><text transform="translate(526.00 379.80) scale(1.130 1)" font-size="9.30" text-anchor="start" fill="#333333" stroke="#333333" stroke-width="0.32">34</text><text transform="translate(515.00 277.30) scale(1.130 1)" font-size="9.40" text-anchor="middle" fill="#1a1a1a" stroke="#1a1a1a" stroke-width="0.32">psu</text>
<path fill="#fff" d="M56.5 414.0L56.5 431.5L58.0 431.5L58.5 431.5L59.0 431.5L59.5 432.3L60.0 435.2L60.5 437.9L61.0 436.6L61.5 433.8L62.0 431.5L62.5 431.5L63.0 431.5L63.5 431.5L64.0 431.5L64.5 432.6L65.0 435.5L65.5 438.1L66.0 432.2L66.5 431.8L67.0 431.5L67.5 431.5L68.0 431.5L68.5 431.5L69.0 431.5L69.5 431.7L70.0 432.1L70.5 432.5L71.0 432.1L71.5 431.7L72.0 431.5L72.5 431.5L73.0 431.5L73.5 431.5L74.0 431.5L74.5 431.7L75.0 432.1L75.5 438.4L76.0 435.8L76.5 432.9L77.0 431.5L77.5 431.5L78.0 431.5L78.5 431.5L79.0 431.5L79.5 433.5L80.0 436.3L80.5 432.4L81.0 432.1L81.5 431.7L82.0 431.5L82.5 431.5L83.0 431.5L83.5 431.5L84.0 431.5L84.5 431.8L85.0 432.2L85.5 432.4L86.0 432.0L86.5 431.6L87.0 431.5L87.5 431.5L88.0 431.5L88.5 431.5L89.0 431.5L89.5 431.9L90.0 432.3L90.5 432.4L91.0 432.0L91.5 431.6L92.0 431.5L92.5 431.5L93.0 431.5L93.5 431.5L94.0 431.5L94.5 431.9L95.0 432.3L95.5 437.3L96.0 434.7L96.5 431.6L97.0 431.5L97.5 431.5L98.0 431.5L98.5 431.5L99.0 431.6L99.5 434.7L100.0 437.3L100.5 432.3L101.0 431.9L101.5 431.5L102.0 431.5L102.5 431.5L103.0 431.5L103.5 431.5L104.0 431.6L104.5 432.0L105.0 432.4L105.5 436.8L106.0 434.1L106.5 431.5L107.0 431.5L107.5 431.5L108.0 431.5L108.5 431.5L109.0 432.3L109.5 435.2L110.0 437.9L110.5 432.2L111.0 431.8L111.5 431.5L112.0 431.5L112.5 431.5L113.0 431.5L113.5 431.5L114.0 431.7L114.5 432.1L115.0 432.4L115.5 432.2L116.0 431.8L116.5 431.5L117.0 431.5L117.5 431.5L118.0 431.5L118.5 431.5L119.0 431.7L119.5 432.1L120.0 432.5L120.5 436.0L121.0 433.2L121.5 431.5L122.0 431.5L122.5 431.5L123.0 431.5L123.5 431.5L124.0 433.2L124.5 436.0L125.0 432.5L125.5 432.1L126.0 431.7L126.5 431.5L127.0 431.5L127.5 431.5L128.0 431.5L128.5 431.5L129.0 431.8L129.5 432.2L130.0 432.4L130.5 432.1L131.0 431.7L131.5 431.5L132.0 431.5L132.5 431.5L133.0 431.5L133.5 431.5L134.0 431.8L134.5 432.2L135.0 432.4L135.5 432.0L136.0 431.6L136.5 431.5L137.0 431.5L137.5 431.5L138.0 431.5L138.5 431.5L139.0 431.9L139.5 432.3L140.0 432.4L140.5 432.0L141.0 431.6L141.5 431.5L142.0 431.5L142.5 431.5L143.0 431.5L143.5 431.5L144.0 431.9L144.5 432.3L145.0 432.3L145.5 432.0L146.0 431.5L146.5 431.5L147.0 431.5L147.5 431.5L148.0 431.5L148.5 431.5L149.0 432.0L149.5 432.3L150.0 432.3L150.5 431.9L151.0 431.5L151.5 431.5L152.0 431.5L152.5 431.5L153.0 431.5L153.5 431.6L154.0 432.0L154.5 432.4L155.0 432.3L155.5 431.9L156.0 431.6L156.5 431.6L157.0 431.6L157.5 431.6L158.0 431.6L158.5 431.7L159.0 432.1L159.5 432.5L160.0 432.4L160.5 432.0L161.0 431.6L161.5 431.7L162.0 431.7L162.5 431.7L163.0 431.7L163.5 431.8L164.0 432.3L164.5 432.6L165.0 432.4L165.5 432.0L166.0 431.7L166.5 431.7L167.0 431.7L167.5 431.7L168.0 431.7L168.5 431.9L169.0 432.4L169.5 432.7L170.0 436.3L170.5 433.5L171.0 431.8L171.5 431.8L172.0 431.8L172.5 431.8L173.0 431.8L173.5 433.5L174.0 436.3L174.5 438.7L175.0 436.1L175.5 433.3L176.0 431.8L176.5 431.8L177.0 431.9L177.5 431.9L178.0 431.9L178.5 433.9L179.0 436.7L179.5 432.8L180.0 432.5L180.5 432.1L181.0 431.9L181.5 431.9L182.0 431.9L182.5 431.9L183.0 431.9L183.5 432.3L184.0 432.7L184.5 432.9L185.0 432.5L185.5 432.1L186.0 432.0L186.5 432.0L187.0 432.0L187.5 432.2L188.0 432.4L188.5 433.2L189.0 433.9L189.5 434.3L190.0 434.4L190.5 433.9L191.0 433.6L191.5 433.1L192.0 433.1L192.5 434.1L193.0 435.3L193.5 436.8L194.0 437.7L194.5 438.6L195.0 438.7L195.5 437.2L196.0 435.7L196.5 434.3L197.0 434.5L197.5 436.3L198.0 438.1L198.5 440.0L199.0 440.7L199.5 440.1L200.0 439.7L200.5 438.2L201.0 436.7L201.5 435.1L202.0 435.6L202.5 437.6L203.0 439.6L203.5 441.6L204.0 442.1L204.5 442.2L205.0 441.6L205.5 440.2L206.0 438.6L206.5 436.8L207.0 438.0L207.5 440.4L208.0 443.1L208.5 445.8L209.0 446.5L209.5 447.6L210.0 447.2L210.5 446.0L211.0 444.8L211.5 443.5L212.0 444.9L212.5 447.1L213.0 449.3L213.5 451.6L214.0 452.1L214.5 452.6L215.0 451.6L215.5 449.5L216.0 447.3L216.5 445.1L217.0 446.9L217.5 449.0L218.0 451.2L218.5 453.1L219.0 453.1L219.5 453.2L220.0 450.8L220.5 447.6L221.0 444.4L221.5 441.2L222.0 444.4L222.5 447.6L223.0 450.8L223.5 453.2L224.0 453.5L224.5 453.5L225.0 451.4L225.5 448.9L226.0 446.5L226.5 444.5L227.0 447.0L227.5 449.4L228.0 451.9L228.5 453.5L229.0 452.3L229.5 452.3L230.0 450.2L230.5 447.9L231.0 445.6L231.5 444.3L232.0 446.5L232.5 448.8L233.0 451.1L233.5 452.3L234.0 452.5L234.5 452.3L235.0 449.2L235.5 446.0L236.0 442.9L236.5 441.7L237.0 444.8L237.5 447.9L238.0 451.0L238.5 452.5L239.0 452.8L239.5 452.3L240.0 449.1L240.5 445.9L241.0 442.7L241.5 442.1L242.0 445.2L242.5 448.4L243.0 451.6L243.5 452.7L244.0 452.1L244.5 451.4L245.0 448.8L245.5 446.2L246.0 443.6L246.5 443.5L247.0 445.8L247.5 448.1L248.0 450.5L248.5 451.0L249.0 450.7L249.5 449.5L250.0 446.1L250.5 442.8L251.0 439.5L251.5 440.0L252.0 443.1L252.5 446.2L253.0 449.2L253.5 449.6L254.0 450.9L254.5 449.3L255.0 446.0L255.5 442.7L256.0 439.5L256.5 440.7L257.0 443.8L257.5 446.9L258.0 450.0L258.5 450.1L259.0 449.9L259.5 448.0L260.0 444.7L260.5 441.5L261.0 438.2L261.5 440.0L262.0 443.2L262.5 446.3L263.0 449.3L263.5 449.2L264.0 449.4L264.5 447.9L265.0 445.7L265.5 443.5L266.0 441.3L266.5 442.9L267.0 445.0L267.5 447.0L268.0 448.8L268.5 448.5L269.0 447.5L269.5 444.9L270.0 441.5L270.5 438.2L271.0 434.9L271.5 437.7L272.0 440.5L272.5 443.2L273.0 445.1L273.5 444.9L274.0 444.6L274.5 442.1L275.0 439.3L275.5 436.6L276.0 434.4L276.5 436.6L277.0 438.8L277.5 440.9L278.0 442.2L278.5 442.5L279.0 442.7L279.5 440.7L280.0 438.5L280.5 436.3L281.0 434.9L281.5 437.3L282.0 439.9L282.5 442.5L283.0 444.0L283.5 444.2L284.0 444.2L284.5 441.4L285.0 438.4L285.5 435.4L286.0 434.2L286.5 437.4L287.0 440.7L287.5 444.1L288.0 445.7L288.5 446.2L289.0 445.8L289.5 442.3L290.0 438.7L290.5 435.0L291.0 434.3L291.5 438.4L292.0 442.8L292.5 447.4L293.0 449.4L293.5 449.6L294.0 448.9L294.5 444.9L295.0 440.7L295.5 436.3L296.0 436.4L296.5 441.3L297.0 446.5L297.5 451.8L298.0 453.6L298.5 453.3L299.0 451.8L299.5 446.8L300.0 441.5L300.5 435.9L301.0 437.0L301.5 442.6L302.0 448.2L302.5 453.8L303.0 454.7L303.5 454.6L304.0 452.5L304.5 448.2L305.0 443.8L305.5 439.4L306.0 441.2L306.5 445.5L307.0 449.9L307.5 454.3L308.0 454.6L308.5 455.0L309.0 452.7L309.5 448.8L310.0 444.8L310.5 440.9L311.0 443.2L311.5 447.2L312.0 451.2L312.5 455.0L313.0 455.0L313.5 455.7L314.0 451.8L314.5 445.9L315.0 440.0L315.5 434.1L316.0 438.8L316.5 444.7L317.0 450.6L317.5 455.7L318.0 455.7L318.5 454.4L319.0 450.5L319.5 445.5L320.0 440.5L320.5 435.6L321.0 440.7L321.5 445.9L322.0 451.0L322.5 454.9L323.0 454.9L323.5 455.0L324.0 450.7L324.5 445.9L325.0 441.0L325.5 437.1L326.0 442.2L326.5 447.3L327.0 452.4L327.5 455.8L328.0 456.6L328.5 456.7L329.0 451.3L329.5 445.7L330.0 440.2L330.5 436.9L331.0 442.7L331.5 448.5L332.0 454.3L332.5 457.5L333.0 456.9L333.5 456.6L334.0 451.2L334.5 445.8L335.0 440.5L335.5 438.5L336.0 444.3L336.5 450.0L337.0 455.7L337.5 458.4L338.0 459.4L338.5 459.1L339.0 455.8L339.5 452.6L340.0 449.3L340.5 448.9L341.0 452.6L341.5 456.3L342.0 460.0L342.5 461.5L343.0 462.4L343.5 461.1L344.0 455.6L344.5 450.2L345.0 444.8L345.5 445.1L346.0 451.0L346.5 456.9L347.0 462.7L347.5 464.5L348.0 463.7L348.5 461.9L349.0 456.5L349.5 451.2L350.0 445.8L350.5 447.1L351.0 452.7L351.5 458.4L352.0 464.1L352.5 465.1L353.0 465.5L353.5 464.0L354.0 460.7L354.5 457.4L355.0 454.1L355.5 455.6L356.0 459.1L356.5 462.6L357.0 466.1L357.5 466.4L358.0 465.8L358.5 463.4L359.0 459.0L359.5 454.6L360.0 450.2L360.5 453.0L361.0 457.6L361.5 462.2L362.0 466.6L362.5 466.7L363.0 467.7L363.5 464.8L364.0 460.4L364.5 456.0L365.0 451.6L365.5 455.3L366.0 459.9L366.5 464.4L367.0 468.4L367.5 468.5L368.0 468.1L368.5 463.9L369.0 458.3L369.5 452.7L370.0 447.1L370.5 452.8L371.0 458.6L371.5 464.3L372.0 468.8L372.5 468.5L373.0 468.6L373.5 463.7L374.0 458.0L374.5 452.3L375.0 447.7L375.5 453.5L376.0 459.4L376.5 465.3L377.0 469.2L377.5 470.0L378.0 470.1L378.5 464.6L379.0 459.0L379.5 453.3L380.0 449.9L380.5 455.7L381.0 461.5L381.5 467.4L382.0 470.7L382.5 470.4L383.0 470.1L383.5 465.1L384.0 460.1L384.5 455.0L385.0 453.0L385.5 458.2L386.0 463.4L386.5 468.6L387.0 471.1L387.5 472.1L388.0 471.2L388.5 465.2L389.0 459.2L389.5 453.1L390.0 451.9L390.5 458.1L391.0 464.2L391.5 470.4L392.0 472.7L392.5 471.9L393.0 470.4L393.5 464.4L394.0 458.5L394.5 452.6L395.0 452.6L395.5 458.6L396.0 464.6L396.5 470.7L397.0 472.3L397.5 473.0L398.0 471.5L398.5 467.1L399.0 462.8L399.5 458.4L400.0 459.3L400.5 463.7L401.0 468.2L401.5 472.7L402.0 473.4L402.5 473.6L403.0 470.7L403.5 464.5L404.0 458.3L404.5 452.0L405.0 454.6L405.5 460.9L406.0 467.2L406.5 473.6L407.0 474.0L407.5 473.4L408.0 469.9L408.5 463.6L409.0 457.3L409.5 451.0L410.0 454.8L410.5 461.2L411.0 467.6L411.5 473.8L412.0 473.8L412.5 473.2L413.0 469.3L413.5 463.4L414.0 457.5L414.5 451.6L415.0 456.4L415.5 462.5L416.0 468.6L416.5 473.9L417.0 473.9L417.5 474.9L418.0 470.9L418.5 465.6L419.0 460.2L419.5 454.9L420.0 460.4L420.5 465.9L421.0 471.4L421.5 475.6L422.0 475.6L422.5 475.7L423.0 470.3L423.5 464.0L424.0 457.7L424.5 452.7L425.0 459.1L425.5 465.6L426.0 472.1L426.5 476.4L427.0 477.0L427.5 477.0L428.0 471.5L428.5 465.6L429.0 459.8L429.5 456.3L430.0 462.3L430.5 468.3L431.0 474.1L431.5 477.3L432.0 476.5L432.5 476.1L433.0 471.1L433.5 466.3L434.0 461.5L434.5 459.7L435.0 464.5L435.5 469.2L436.0 473.7L436.5 475.8L437.0 475.4L437.5 474.4L438.0 468.7L438.5 463.2L439.0 457.8L439.5 456.9L440.0 462.4L440.5 467.7L441.0 472.9L441.5 474.7L442.0 474.5L442.5 473.1L443.0 468.2L443.5 463.3L444.0 458.6L444.5 458.8L445.0 463.6L445.5 468.2L446.0 472.7L446.5 473.9L447.0 475.1L447.5 473.5L448.0 469.3L448.5 465.3L449.0 461.3L449.5 462.3L450.0 466.3L450.5 470.2L451.0 473.9L451.5 474.5L452.0 474.5L452.5 472.7L453.0 469.0L453.5 465.4L454.0 461.9L454.5 463.4L455.0 466.9L455.5 470.4L456.0 473.7L456.5 473.9L457.0 473.2L457.5 471.6L458.0 468.7L458.5 465.9L459.0 463.3L459.5 465.0L460.0 467.7L460.5 470.3L461.0 472.7L461.5 472.6L462.0 472.4L462.5 470.6L463.0 467.9L463.5 465.4L464.0 463.0L464.5 465.1L465.0 467.6L465.5 469.6L466.0 471.3L466.5 471.0L467.0 471.3L467.5 469.1L468.0 466.2L468.5 463.3L469.0 460.3L469.5 462.5L470.0 464.7L470.5 466.9L471.0 468.6L471.5 468.1L472.0 467.7L472.5 465.1L473.0 462.0L473.5 458.9L474.0 456.2L474.5 458.6L475.0 461.0L475.5 463.4L476.0 465.0L476.5 464.8L477.0 464.4L477.5 461.5L478.0 458.5L478.5 455.7L479.0 454.1L479.5 456.8L480.0 459.4L480.5 462.1L481.0 463.6L481.5 462.2L482.0 462.0L482.5 459.1L483.0 456.1L483.5 453.2L484.0 452.0L484.5 454.9L485.0 457.8L485.5 460.7L486.0 462.0L486.5 463.1L487.0 462.6L487.5 459.6L488.0 456.7L488.5 453.7L489.0 453.1L489.5 456.0L490.0 458.9L490.5 461.8L491.0 462.9L491.5 462.4L492.0 461.8L492.5 459.8L493.0 457.8L493.5 455.9L494.0 455.8L494.5 457.8L495.0 459.7L495.5 461.7L496.0 462.2L496.5 461.8L497.0 460.7L497.5 457.8L498.0 454.8L498.5 451.9L499.0 452.4L499.5 455.3L500.0 458.2L500.5 461.1L501.0 461.6L501.0 461.6L502.5 461.6L502.5 414.0Z"/><path fill="#fff" d="M56.5 509.0L56.5 453.7L58.0 453.7L58.5 454.1L59.0 454.8L59.5 456.2L60.0 457.5L60.5 458.8L61.0 458.2L61.5 456.9L62.0 455.5L62.5 454.2L63.0 454.2L63.5 452.4L64.0 453.1L64.5 454.2L65.0 455.3L65.5 456.4L66.0 455.6L66.5 454.5L67.0 453.5L67.5 452.5L68.0 452.5L68.5 453.1L69.0 453.9L69.5 455.0L70.0 456.2L70.5 457.3L71.0 456.3L71.5 455.2L72.0 454.0L72.5 453.1L73.0 454.2L73.5 454.2L74.0 455.2L74.5 456.5L75.0 457.7L75.5 458.8L76.0 457.6L76.5 456.4L77.0 455.1L77.5 454.3L78.0 452.1L78.5 452.1L79.0 452.9L79.5 453.7L80.0 454.6L80.5 455.2L81.0 454.3L81.5 453.5L82.0 452.7L82.5 452.2L83.0 453.8L83.5 453.8L84.0 454.6L84.5 455.4L85.0 456.3L85.5 456.7L86.0 455.9L86.5 455.1L87.0 454.2L87.5 453.8L88.0 452.4L88.5 452.5L89.0 453.6L89.5 454.6L90.0 455.7L90.5 456.0L91.0 455.0L91.5 453.9L92.0 452.9L92.5 452.5L93.0 454.2L93.5 454.4L94.0 455.7L94.5 457.0L95.0 458.2L95.5 458.4L96.0 457.1L96.5 455.9L97.0 454.6L97.5 454.2L98.0 453.7L98.5 454.1L99.0 455.4L99.5 456.6L100.0 457.9L100.5 457.8L101.0 456.5L101.5 455.3L102.0 454.0L102.5 453.8L103.0 454.6L103.5 454.9L104.0 455.9L104.5 456.8L105.0 457.8L105.5 457.5L106.0 456.6L106.5 455.6L107.0 454.7L107.5 454.6L108.0 453.0L108.5 453.5L109.0 454.5L109.5 455.6L110.0 456.6L110.5 456.1L111.0 455.1L111.5 454.1L112.0 453.0L112.5 453.0L113.0 454.1L113.5 454.9L114.0 456.3L114.5 457.6L115.0 458.9L115.5 458.0L116.0 456.7L116.5 455.4L117.0 454.1L117.5 454.2L118.0 454.6L118.5 455.3L119.0 456.4L119.5 457.5L120.0 458.6L120.5 457.6L121.0 456.5L121.5 455.5L122.0 454.6L122.5 452.6L123.0 452.6L123.5 453.6L124.0 454.8L124.5 455.9L125.0 457.0L125.5 455.8L126.0 454.7L126.5 453.5L127.0 452.7L127.5 452.9L128.0 453.0L128.5 453.9L129.0 455.0L129.5 456.0L130.0 456.8L130.5 455.7L131.0 454.7L131.5 453.6L132.0 453.0L132.5 453.9L133.0 454.0L133.5 455.3L134.0 456.6L134.5 458.0L135.0 458.6L135.5 457.3L136.0 456.0L136.5 454.7L137.0 454.0L137.5 453.8L138.0 454.0L138.5 455.0L139.0 456.1L139.5 457.1L140.0 457.4L140.5 456.2L141.0 454.4L141.5 452.1L142.0 450.5L142.5 450.3L143.0 450.1L143.5 452.9L144.0 456.4L144.5 460.5L145.0 461.2L145.5 456.5L146.0 451.2L146.5 445.2L147.0 442.6L147.5 441.7L148.0 442.4L148.5 447.2L149.0 452.4L149.5 458.2L150.0 457.6L150.5 451.3L151.0 445.1L151.5 438.8L152.0 437.5L152.5 436.3L153.0 439.7L153.5 448.0L154.0 456.4L154.5 464.7L155.0 462.2L155.5 453.9L156.0 445.6L156.5 437.3L157.0 436.4L157.5 437.7L158.0 441.8L158.5 449.9L159.0 457.9L159.5 466.0L160.0 462.0L160.5 454.0L161.0 446.0L161.5 437.9L162.0 437.9L162.5 437.9L163.0 441.2L163.5 446.6L164.0 452.0L164.5 457.4L165.0 453.6L165.5 448.3L166.0 442.9L166.5 438.0L167.0 438.0L167.5 438.1L168.0 444.2L168.5 452.7L169.0 461.2L169.5 469.8L170.0 462.2L170.5 453.7L171.0 445.2L171.5 438.2L172.0 438.3L172.5 438.7L173.0 445.7L173.5 454.3L174.0 462.9L174.5 470.6L175.0 462.1L175.5 453.5L176.0 444.9L176.5 438.8L177.0 438.0L177.5 438.0L178.0 445.9L178.5 454.6L179.0 463.2L179.5 469.3L180.0 460.7L180.5 452.1L181.0 443.4L181.5 438.1L182.0 437.7L182.5 437.7L183.0 443.9L183.5 450.0L184.0 456.1L184.5 459.2L185.0 453.1L185.5 447.0L186.0 440.9L186.5 437.8L187.0 437.7L187.5 438.6L188.0 446.5L188.5 454.6L189.0 462.6L189.5 465.1L190.0 457.6L190.5 450.2L191.0 442.8L191.5 440.1L192.0 440.7L192.5 442.7L193.0 451.3L193.5 459.7L194.0 468.1L194.5 469.0L195.0 461.0L195.5 453.2L196.0 445.5L196.5 443.5L197.0 444.0L197.5 446.9L198.0 455.2L198.5 463.3L199.0 471.2L199.5 470.8L200.0 463.6L200.5 456.5L201.0 449.6L201.5 448.5L202.0 449.0L202.5 452.5L203.0 460.1L203.5 467.6L204.0 475.0L204.5 473.2L205.0 466.6L205.5 460.5L206.0 454.7L206.5 454.9L207.0 455.8L207.5 458.8L208.0 463.7L208.5 468.5L209.0 473.2L209.5 472.0L210.0 469.1L210.5 466.2L211.0 463.4L211.5 464.4L212.0 465.3L212.5 468.6L213.0 473.2L213.5 477.6L214.0 482.0L214.5 480.3L215.0 477.6L215.5 474.1L216.0 471.0L216.5 470.9L217.0 470.9L217.5 474.5L218.0 479.5L218.5 484.4L219.0 489.4L219.5 484.9L220.0 479.9L220.5 474.8L221.0 470.8L221.5 470.8L222.0 470.8L222.5 473.8L223.0 477.7L223.5 481.5L224.0 484.9L224.5 481.0L225.0 477.2L225.5 473.3L226.0 470.6L226.5 470.6L227.0 470.6L227.5 473.8L228.0 477.2L228.5 480.7L229.0 483.1L229.5 479.6L230.0 476.1L230.5 472.6L231.0 470.4L231.5 470.4L232.0 470.5L232.5 475.2L233.0 479.9L233.5 484.7L234.0 487.0L234.5 482.2L235.0 477.5L235.5 472.7L236.0 470.2L236.5 470.2L237.0 470.8L237.5 475.6L238.0 480.4L238.5 485.2L239.0 486.6L239.5 481.7L240.0 476.9L240.5 472.1L241.0 470.1L241.5 470.1L242.0 470.8L242.5 474.5L243.0 478.2L243.5 481.7L244.0 481.8L244.5 477.9L245.0 474.1L245.5 470.3L246.0 469.0L246.5 468.8L247.0 470.1L247.5 474.5L248.0 478.9L248.5 483.2L249.0 482.5L249.5 477.8L250.0 473.1L250.5 468.4L251.0 467.3L251.5 467.2L252.0 468.8L252.5 473.0L253.0 477.1L253.5 481.2L254.0 479.7L254.5 475.2L255.0 470.7L255.5 466.4L256.0 465.8L256.5 465.7L257.0 467.7L257.5 471.8L258.0 475.8L258.5 479.9L259.0 477.6L259.5 473.3L260.0 469.0L260.5 464.8L261.0 464.6L261.5 464.5L262.0 466.1L262.5 468.7L263.0 471.3L263.5 473.9L264.0 471.8L264.5 469.0L265.0 466.2L265.5 463.6L266.0 463.5L266.5 463.3L267.0 466.1L267.5 470.0L268.0 473.8L268.5 477.4L269.0 473.5L269.5 469.4L270.0 465.4L270.5 462.2L271.0 462.1L271.5 461.9L272.0 464.3L272.5 467.1L273.0 469.8L273.5 472.1L274.0 468.9L274.5 465.8L275.0 462.8L275.5 460.8L276.0 460.6L276.5 460.4L277.0 462.4L277.5 464.4L278.0 466.3L278.5 467.9L279.0 465.7L279.5 463.3L280.0 460.8L280.5 459.2L281.0 459.0L281.5 458.9L282.0 461.9L282.5 465.0L283.0 468.3L283.5 470.1L284.0 466.7L284.5 463.2L285.0 459.5L285.5 457.5L286.0 457.3L286.5 457.6L287.0 461.7L287.5 466.0L288.0 470.5L288.5 471.9L289.0 467.4L289.5 462.8L290.0 458.0L290.5 455.9L291.0 455.9L291.5 456.8L292.0 461.3L292.5 465.9L293.0 470.5L293.5 471.0L294.0 466.4L294.5 461.7L295.0 457.0L295.5 455.4L296.0 455.4L296.5 456.9L297.0 461.7L297.5 466.6L298.0 471.6L298.5 471.2L299.0 466.2L299.5 461.2L300.0 456.1L300.5 455.0L301.0 455.0L301.5 456.7L302.0 460.7L302.5 464.8L303.0 468.8L303.5 467.7L304.0 463.6L304.5 459.5L305.0 455.5L305.5 455.0L306.0 455.0L306.5 456.9L307.0 460.6L307.5 464.4L308.0 468.2L308.5 466.3L309.0 462.6L309.5 458.8L310.0 455.0L310.5 455.0L311.0 455.0L311.5 458.5L312.0 464.2L312.5 469.9L313.0 475.6L313.5 471.7L314.0 466.0L314.5 460.2L315.0 455.0L315.5 455.0L316.0 455.0L316.5 458.5L317.0 463.5L317.5 468.5L318.0 473.5L318.5 469.0L319.0 464.1L319.5 459.1L320.0 455.0L320.5 455.2L321.0 455.3L321.5 459.6L322.0 464.8L322.5 470.1L323.0 474.8L323.5 469.9L324.0 465.0L324.5 460.1L325.0 456.7L325.5 456.8L326.0 457.0L326.5 462.5L327.0 468.6L327.5 474.6L328.0 478.9L328.5 473.2L329.0 467.5L329.5 461.8L330.0 458.3L330.5 458.5L331.0 458.7L331.5 464.6L332.0 470.6L332.5 476.5L333.0 479.5L333.5 473.9L334.0 468.3L334.5 462.8L335.0 460.0L335.5 460.3L336.0 460.9L336.5 464.9L337.0 468.8L337.5 472.7L338.0 474.0L338.5 470.6L339.0 467.2L339.5 463.9L340.0 462.7L340.5 462.9L341.0 464.5L341.5 470.6L342.0 476.7L342.5 482.8L343.0 483.6L343.5 478.0L344.0 472.4L344.5 466.9L345.0 465.3L345.5 465.6L346.0 467.7L346.5 473.6L347.0 479.6L347.5 485.4L348.0 485.1L348.5 479.7L349.0 474.3L349.5 468.9L350.0 468.0L350.5 468.1L351.0 469.5L351.5 473.0L352.0 476.5L352.5 479.9L353.0 479.0L353.5 475.7L354.0 472.3L354.5 469.0L355.0 468.7L355.5 468.7L356.0 471.1L356.5 475.7L357.0 480.2L357.5 484.8L358.0 482.6L358.5 478.2L359.0 473.8L359.5 469.3L360.0 469.3L360.5 469.4L361.0 472.2L361.5 476.8L362.0 481.3L362.5 485.9L363.0 482.8L363.5 478.4L364.0 474.0L364.5 469.9L365.0 470.0L365.5 470.0L366.0 474.1L366.5 479.7L367.0 485.4L367.5 491.1L368.0 486.1L368.5 480.5L369.0 474.9L369.5 470.4L370.0 470.4L370.5 470.4L371.0 475.1L371.5 480.9L372.0 486.7L372.5 491.9L373.0 486.2L373.5 480.5L374.0 474.8L374.5 470.8L375.0 470.8L375.5 470.8L376.0 476.0L376.5 481.8L377.0 487.5L377.5 491.6L378.0 485.9L378.5 480.3L379.0 474.6L379.5 471.2L380.0 471.2L380.5 471.3L381.0 476.4L381.5 481.5L382.0 486.6L382.5 489.2L383.0 484.2L383.5 479.2L384.0 474.1L384.5 471.6L385.0 471.6L385.5 472.3L386.0 478.4L386.5 484.5L387.0 490.6L387.5 492.5L388.0 486.5L388.5 480.5L389.0 474.4L389.5 472.0L390.0 472.0L390.5 473.3L391.0 479.2L391.5 485.3L392.0 491.3L392.5 492.0L393.0 486.0L393.5 480.0L394.0 473.9L394.5 472.0L395.0 472.0L395.5 473.4L396.0 477.9L396.5 482.5L397.0 487.1L397.5 486.7L398.0 482.2L398.5 477.6L399.0 473.0L399.5 472.0L400.0 472.0L400.5 474.7L401.0 481.4L401.5 488.0L402.0 494.8L402.5 492.8L403.0 486.2L403.5 479.5L404.0 472.8L404.5 472.0L405.0 472.0L405.5 475.5L406.0 482.4L406.5 489.3L407.0 496.2L407.5 492.9L408.0 486.0L408.5 479.1L409.0 472.1L409.5 472.0L410.0 472.0L410.5 476.0L411.0 482.7L411.5 489.4L412.0 496.1L412.5 491.5L413.0 484.8L413.5 478.1L414.0 472.0L414.5 472.0L415.0 472.0L415.5 476.4L416.0 482.5L416.5 488.7L417.0 495.0L417.5 489.5L418.0 483.3L418.5 477.1L419.0 472.0L419.5 472.0L420.0 472.0L420.5 478.0L421.0 485.5L421.5 493.1L422.0 499.9L422.5 492.5L423.0 485.0L423.5 477.4L424.0 472.0L424.5 472.0L425.0 472.0L425.5 478.5L426.0 485.6L426.5 492.8L427.0 497.9L427.5 490.8L428.0 483.7L428.5 476.4L429.0 472.0L429.5 472.0L430.0 472.1L430.5 478.6L431.0 485.0L431.5 491.3L432.0 494.4L432.5 488.2L433.0 482.1L433.5 476.1L434.0 473.2L434.5 473.4L435.0 474.3L435.5 481.9L436.0 489.4L436.5 496.6L437.0 498.7L437.5 491.5L438.0 484.4L438.5 477.4L439.0 474.7L439.5 474.9L440.0 476.4L440.5 483.3L441.0 490.0L441.5 496.5L442.0 497.1L442.5 490.6L443.0 484.2L443.5 478.0L444.0 476.2L444.5 476.4L445.0 478.3L445.5 484.3L446.0 490.1L446.5 495.8L447.0 495.1L447.5 489.5L448.0 484.0L448.5 478.7L449.0 477.7L449.5 477.9L450.0 480.2L450.5 485.5L451.0 490.6L451.5 495.6L452.0 494.0L452.5 488.9L453.0 484.0L453.5 479.2L454.0 478.8L454.5 478.9L455.0 481.1L455.5 485.1L456.0 489.0L456.5 492.8L457.0 490.8L457.5 487.0L458.0 483.3L458.5 479.7L459.0 479.8L459.5 479.9L460.0 482.3L460.5 486.0L461.0 489.5L461.5 492.9L462.0 490.3L462.5 486.9L463.0 483.6L463.5 480.7L464.0 480.8L464.5 480.9L465.0 483.1L465.5 485.9L466.0 488.7L466.5 491.6L467.0 488.8L467.5 485.6L468.0 482.4L468.5 479.7L469.0 479.5L469.5 479.3L470.0 481.7L470.5 484.8L471.0 487.9L471.5 490.8L472.0 487.4L472.5 483.9L473.0 480.4L473.5 477.7L474.0 477.5L474.5 477.3L475.0 480.1L475.5 483.2L476.0 486.4L476.5 488.6L477.0 485.2L477.5 481.7L478.0 478.1L478.5 476.0L479.0 476.0L479.5 476.0L480.0 479.7L480.5 483.4L481.0 487.1L481.5 488.9L482.0 485.2L482.5 481.4L483.0 477.7L483.5 475.8L484.0 475.7L484.5 476.1L485.0 479.8L485.5 483.5L486.0 487.2L486.5 488.3L487.0 484.6L487.5 480.8L488.0 477.1L488.5 475.5L489.0 475.5L489.5 476.0L490.0 478.5L490.5 481.0L491.0 483.5L491.5 483.7L492.0 481.2L492.5 478.6L493.0 476.1L493.5 475.3L494.0 475.3L494.5 476.4L495.0 480.1L495.5 483.8L496.0 487.5L496.5 487.1L497.0 483.4L497.5 479.7L498.0 475.9L498.5 475.1L499.0 475.1L499.5 476.2L500.0 479.0L500.5 481.8L501.0 484.6L501.0 484.6L502.5 484.6L502.5 509.0Z"/><rect x="58.0" y="414.6" width="443.0" height="93.4" fill="none" stroke="#262626" stroke-width="1.1"/><path d="M53.0 414.6H58.0M501.0 414.6H506.0" stroke="#262626" stroke-width="1.3"/><text transform="translate(49.60 418.50) scale(1.130 1)" font-size="9.20" text-anchor="end" fill="#333333" stroke="#333333" stroke-width="0.32">0</text><path d="M53.0 454.1H58.0M501.0 454.1H506.0" stroke="#262626" stroke-width="1.3"/><text transform="translate(49.60 458.00) scale(1.130 1)" font-size="9.20" text-anchor="end" fill="#333333" stroke="#333333" stroke-width="0.32">100</text><path d="M53.0 493.6H58.0M501.0 493.6H506.0" stroke="#262626" stroke-width="1.3"/><text transform="translate(49.60 497.50) scale(1.130 1)" font-size="9.20" text-anchor="end" fill="#333333" stroke="#333333" stroke-width="0.32">200</text><path d="M80.8 409.6V414.6M80.8 508.0V513.0" stroke="#262626" stroke-width="1.3"/><text transform="translate(80.80 525.50) scale(1.130 1)" font-size="9.20" text-anchor="middle" fill="#333333" stroke="#333333" stroke-width="0.32">21/12/20</text><path d="M128.3 409.6V414.6M128.3 508.0V513.0" stroke="#262626" stroke-width="1.3"/><text transform="translate(128.30 525.50) scale(1.130 1)" font-size="9.20" text-anchor="middle" fill="#333333" stroke="#333333" stroke-width="0.32">21/12/30</text><path d="M175.8 409.6V414.6M175.8 508.0V513.0" stroke="#262626" stroke-width="1.3"/><text transform="translate(175.80 525.50) scale(1.130 1)" font-size="9.20" text-anchor="middle" fill="#333333" stroke="#333333" stroke-width="0.32">22/01/09</text><path d="M223.3 409.6V414.6M223.3 508.0V513.0" stroke="#262626" stroke-width="1.3"/><text transform="translate(223.30 525.50) scale(1.130 1)" font-size="9.20" text-anchor="middle" fill="#333333" stroke="#333333" stroke-width="0.32">22/01/19</text><path d="M270.8 409.6V414.6M270.8 508.0V513.0" stroke="#262626" stroke-width="1.3"/><text transform="translate(270.80 525.50) scale(1.130 1)" font-size="9.20" text-anchor="middle" fill="#333333" stroke="#333333" stroke-width="0.32">22/01/29</text><path d="M318.3 409.6V414.6M318.3 508.0V513.0" stroke="#262626" stroke-width="1.3"/><text transform="translate(318.30 525.50) scale(1.130 1)" font-size="9.20" text-anchor="middle" fill="#333333" stroke="#333333" stroke-width="0.32">22/02/08</text><path d="M365.8 409.6V414.6M365.8 508.0V513.0" stroke="#262626" stroke-width="1.3"/><text transform="translate(365.80 525.50) scale(1.130 1)" font-size="9.20" text-anchor="middle" fill="#333333" stroke="#333333" stroke-width="0.32">22/02/18</text><path d="M413.3 409.6V414.6M413.3 508.0V513.0" stroke="#262626" stroke-width="1.3"/><text transform="translate(413.30 525.50) scale(1.130 1)" font-size="9.20" text-anchor="middle" fill="#333333" stroke="#333333" stroke-width="0.32">22/02/28</text><path d="M460.8 409.6V414.6M460.8 508.0V513.0" stroke="#262626" stroke-width="1.3"/><text transform="translate(460.80 525.50) scale(1.130 1)" font-size="9.20" text-anchor="middle" fill="#333333" stroke="#333333" stroke-width="0.32">22/03/10</text><text transform="translate(280.00 408.00) scale(1.130 1)" font-size="10.20" text-anchor="middle" fill="#1a1a1a" stroke="#1a1a1a" stroke-width="0.32">Salinity (MOORING)</text><text x="6.8" y="430.1" font-size="13.8" text-anchor="start" fill="#1a1a1a" stroke="#1a1a1a" stroke-width="0.32" >d</text><text x="0.0" y="0.0" font-size="10.0" text-anchor="middle" fill="#333333" stroke="#333333" stroke-width="0.32" transform="translate(25.7 461.3) rotate(-90)">Depth (m)</text><rect x="508" y="414.7" width="13.5" height="93.0" fill="url(#cbg4)" stroke="#262626" stroke-width="0.8" stroke-opacity="0.55"/><text transform="translate(526.00 418.20) scale(1.130 1)" font-size="9.30" text-anchor="start" fill="#333333" stroke="#333333" stroke-width="0.32">35</text><text transform="translate(526.00 464.70) scale(1.130 1)" font-size="9.30" text-anchor="start" fill="#333333" stroke="#333333" stroke-width="0.32">34.5</text><text transform="translate(526.00 511.20) scale(1.130 1)" font-size="9.30" text-anchor="start" fill="#333333" stroke="#333333" stroke-width="0.32">34</text><text transform="translate(515.00 409.20) scale(1.130 1)" font-size="9.40" text-anchor="middle" fill="#1a1a1a" stroke="#1a1a1a" stroke-width="0.32">psu</text>
</svg></div></body></html>
